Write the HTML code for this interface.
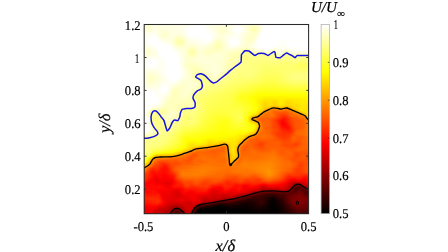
<!DOCTYPE html>
<html><head><meta charset="utf-8"><title>U/U∞ contour</title>
<style>
html,body{margin:0;padding:0;background:#fff;}
body{width:448px;height:252px;overflow:hidden;}
svg{display:block;}
text{font-family:"Liberation Serif","DejaVu Serif",serif;text-rendering:geometricPrecision;fill:#000;stroke:#000;stroke-width:0.2px;}
.t{font-size:13.4px;}
.a{font-size:16.4px;font-style:italic;}
</style></head><body>
<svg width="448" height="252" viewBox="0 0 448 252">
<defs>
<clipPath id="cp"><rect x="144" y="24.5" width="164.6" height="189.4"/></clipPath>
<linearGradient id="cb" x1="0" y1="0" x2="0" y2="1">
<stop offset="0" stop-color="#ffffff"/><stop offset="0.25" stop-color="#ffff00"/><stop offset="0.625" stop-color="#ff0000"/><stop offset="1" stop-color="#000000"/>
</linearGradient>
<linearGradient id="r0" gradientUnits="userSpaceOnUse" x1="144" x2="310" y1="0" y2="0"><stop offset="0.003012" stop-color="#ffffde"/><stop offset="0.02711" stop-color="#ffffd8"/><stop offset="0.06928" stop-color="#ffffe4"/><stop offset="0.2259" stop-color="#ffffe5"/><stop offset="0.3524" stop-color="#fffff7"/><stop offset="0.3886" stop-color="#ffffe8"/><stop offset="0.4729" stop-color="#ffffdd"/><stop offset="0.5693" stop-color="#ffffef"/><stop offset="0.6114" stop-color="#ffffda"/><stop offset="0.6596" stop-color="#ffffcf"/><stop offset="0.7319" stop-color="#ffffff"/><stop offset="0.997" stop-color="#ffffff"/></linearGradient>
<linearGradient id="r1" gradientUnits="userSpaceOnUse" x1="144" x2="310" y1="0" y2="0"><stop offset="0.003012" stop-color="#ffffdc"/><stop offset="0.02711" stop-color="#ffffd4"/><stop offset="0.06928" stop-color="#ffffe4"/><stop offset="0.2259" stop-color="#ffffe6"/><stop offset="0.3524" stop-color="#fffffe"/><stop offset="0.3886" stop-color="#ffffe9"/><stop offset="0.4789" stop-color="#ffffd9"/><stop offset="0.5633" stop-color="#fffff7"/><stop offset="0.6596" stop-color="#ffffc5"/><stop offset="0.6777" stop-color="#ffffcf"/><stop offset="0.7259" stop-color="#fffffe"/><stop offset="0.997" stop-color="#ffffff"/></linearGradient>
<linearGradient id="r2" gradientUnits="userSpaceOnUse" x1="144" x2="310" y1="0" y2="0"><stop offset="0.003012" stop-color="#ffffda"/><stop offset="0.02711" stop-color="#ffffd0"/><stop offset="0.06928" stop-color="#ffffe4"/><stop offset="0.2199" stop-color="#ffffe6"/><stop offset="0.2861" stop-color="#fffffa"/><stop offset="0.3584" stop-color="#ffffff"/><stop offset="0.3886" stop-color="#ffffeb"/><stop offset="0.4789" stop-color="#ffffd4"/><stop offset="0.5271" stop-color="#ffffe7"/><stop offset="0.5633" stop-color="#fffffe"/><stop offset="0.6596" stop-color="#ffffbc"/><stop offset="0.6777" stop-color="#ffffc6"/><stop offset="0.7259" stop-color="#ffffff"/><stop offset="0.997" stop-color="#ffffff"/></linearGradient>
<linearGradient id="r3" gradientUnits="userSpaceOnUse" x1="144" x2="310" y1="0" y2="0"><stop offset="0.003012" stop-color="#ffffd9"/><stop offset="0.02711" stop-color="#ffffce"/><stop offset="0.06325" stop-color="#ffffe3"/><stop offset="0.2199" stop-color="#ffffe6"/><stop offset="0.2861" stop-color="#ffffff"/><stop offset="0.3645" stop-color="#ffffff"/><stop offset="0.3886" stop-color="#ffffec"/><stop offset="0.4789" stop-color="#ffffcf"/><stop offset="0.5271" stop-color="#ffffe8"/><stop offset="0.5512" stop-color="#fffffd"/><stop offset="0.5753" stop-color="#ffffff"/><stop offset="0.6536" stop-color="#ffffb8"/><stop offset="0.6657" stop-color="#ffffb5"/><stop offset="0.6777" stop-color="#ffffbe"/><stop offset="0.7078" stop-color="#ffffed"/><stop offset="0.7259" stop-color="#ffffff"/><stop offset="0.997" stop-color="#ffffff"/></linearGradient>
<linearGradient id="r4" gradientUnits="userSpaceOnUse" x1="144" x2="310" y1="0" y2="0"><stop offset="0.003012" stop-color="#ffffd9"/><stop offset="0.02711" stop-color="#ffffce"/><stop offset="0.06325" stop-color="#ffffe4"/><stop offset="0.1175" stop-color="#ffffde"/><stop offset="0.2139" stop-color="#ffffe5"/><stop offset="0.2801" stop-color="#ffffff"/><stop offset="0.3645" stop-color="#ffffff"/><stop offset="0.3886" stop-color="#ffffee"/><stop offset="0.4307" stop-color="#ffffe4"/><stop offset="0.4789" stop-color="#ffffcb"/><stop offset="0.5512" stop-color="#ffffff"/><stop offset="0.5753" stop-color="#ffffff"/><stop offset="0.6295" stop-color="#ffffd2"/><stop offset="0.6536" stop-color="#ffffb5"/><stop offset="0.6657" stop-color="#ffffb0"/><stop offset="0.6777" stop-color="#ffffb9"/><stop offset="0.7078" stop-color="#ffffec"/><stop offset="0.7259" stop-color="#ffffff"/><stop offset="0.997" stop-color="#ffffff"/></linearGradient>
<linearGradient id="r5" gradientUnits="userSpaceOnUse" x1="144" x2="310" y1="0" y2="0"><stop offset="0.003012" stop-color="#ffffda"/><stop offset="0.02711" stop-color="#ffffd2"/><stop offset="0.06325" stop-color="#ffffe6"/><stop offset="0.1235" stop-color="#ffffdb"/><stop offset="0.2259" stop-color="#ffffe7"/><stop offset="0.2741" stop-color="#ffffff"/><stop offset="0.3645" stop-color="#ffffff"/><stop offset="0.4789" stop-color="#ffffc8"/><stop offset="0.5512" stop-color="#ffffff"/><stop offset="0.5813" stop-color="#ffffff"/><stop offset="0.6295" stop-color="#ffffd3"/><stop offset="0.6536" stop-color="#ffffb5"/><stop offset="0.6657" stop-color="#ffffaf"/><stop offset="0.6777" stop-color="#ffffb8"/><stop offset="0.7139" stop-color="#fffff5"/><stop offset="0.7259" stop-color="#ffffff"/><stop offset="0.997" stop-color="#ffffff"/></linearGradient>
<linearGradient id="r6" gradientUnits="userSpaceOnUse" x1="144" x2="310" y1="0" y2="0"><stop offset="0.003012" stop-color="#ffffdd"/><stop offset="0.02711" stop-color="#ffffd7"/><stop offset="0.06325" stop-color="#ffffe8"/><stop offset="0.1235" stop-color="#ffffd8"/><stop offset="0.1657" stop-color="#ffffe3"/><stop offset="0.2259" stop-color="#ffffe6"/><stop offset="0.2681" stop-color="#ffffff"/><stop offset="0.3645" stop-color="#ffffff"/><stop offset="0.4307" stop-color="#ffffe5"/><stop offset="0.4669" stop-color="#ffffc9"/><stop offset="0.4789" stop-color="#ffffc7"/><stop offset="0.5512" stop-color="#ffffff"/><stop offset="0.5753" stop-color="#ffffff"/><stop offset="0.6657" stop-color="#ffffb2"/><stop offset="0.6837" stop-color="#ffffc1"/><stop offset="0.7199" stop-color="#ffffff"/><stop offset="0.997" stop-color="#ffffff"/></linearGradient>
<linearGradient id="r7" gradientUnits="userSpaceOnUse" x1="144" x2="310" y1="0" y2="0"><stop offset="0.003012" stop-color="#ffffe0"/><stop offset="0.02711" stop-color="#ffffdd"/><stop offset="0.06325" stop-color="#ffffeb"/><stop offset="0.1175" stop-color="#ffffd3"/><stop offset="0.1657" stop-color="#ffffe2"/><stop offset="0.2259" stop-color="#ffffe6"/><stop offset="0.2681" stop-color="#ffffff"/><stop offset="0.3645" stop-color="#ffffff"/><stop offset="0.4247" stop-color="#ffffe8"/><stop offset="0.4669" stop-color="#ffffca"/><stop offset="0.4789" stop-color="#ffffc9"/><stop offset="0.5512" stop-color="#fffffd"/><stop offset="0.5753" stop-color="#ffffff"/><stop offset="0.6657" stop-color="#ffffb7"/><stop offset="0.6837" stop-color="#ffffc6"/><stop offset="0.7199" stop-color="#ffffff"/><stop offset="0.997" stop-color="#ffffff"/></linearGradient>
<linearGradient id="r8" gradientUnits="userSpaceOnUse" x1="144" x2="310" y1="0" y2="0"><stop offset="0.003012" stop-color="#ffffe3"/><stop offset="0.06325" stop-color="#ffffee"/><stop offset="0.1175" stop-color="#ffffcf"/><stop offset="0.1657" stop-color="#ffffe2"/><stop offset="0.2259" stop-color="#ffffe4"/><stop offset="0.2681" stop-color="#ffffff"/><stop offset="0.3705" stop-color="#ffffff"/><stop offset="0.4127" stop-color="#fffff0"/><stop offset="0.4729" stop-color="#ffffcc"/><stop offset="0.5633" stop-color="#fffffd"/><stop offset="0.6657" stop-color="#ffffbd"/><stop offset="0.6777" stop-color="#ffffc5"/><stop offset="0.7139" stop-color="#fffffd"/><stop offset="0.7199" stop-color="#ffffff"/><stop offset="0.997" stop-color="#ffffff"/></linearGradient>
<linearGradient id="r9" gradientUnits="userSpaceOnUse" x1="144" x2="310" y1="0" y2="0"><stop offset="0.003012" stop-color="#ffffe5"/><stop offset="0.06325" stop-color="#fffff3"/><stop offset="0.1175" stop-color="#ffffcc"/><stop offset="0.1657" stop-color="#ffffe1"/><stop offset="0.2259" stop-color="#ffffe1"/><stop offset="0.2681" stop-color="#fffffe"/><stop offset="0.3886" stop-color="#ffffff"/><stop offset="0.4729" stop-color="#ffffd0"/><stop offset="0.5633" stop-color="#fffff9"/><stop offset="0.6596" stop-color="#ffffc3"/><stop offset="0.6777" stop-color="#ffffcc"/><stop offset="0.7139" stop-color="#ffffff"/><stop offset="0.997" stop-color="#ffffff"/></linearGradient>
<linearGradient id="r10" gradientUnits="userSpaceOnUse" x1="144" x2="310" y1="0" y2="0"><stop offset="0.003012" stop-color="#ffffe7"/><stop offset="0.06325" stop-color="#fffff7"/><stop offset="0.1175" stop-color="#ffffcb"/><stop offset="0.1657" stop-color="#ffffe0"/><stop offset="0.2259" stop-color="#ffffdd"/><stop offset="0.2741" stop-color="#ffffff"/><stop offset="0.3946" stop-color="#ffffff"/><stop offset="0.4729" stop-color="#ffffd5"/><stop offset="0.5633" stop-color="#fffff5"/><stop offset="0.6536" stop-color="#ffffc6"/><stop offset="0.6717" stop-color="#ffffce"/><stop offset="0.7078" stop-color="#fffffe"/><stop offset="0.7139" stop-color="#ffffff"/><stop offset="0.997" stop-color="#ffffff"/></linearGradient>
<linearGradient id="r11" gradientUnits="userSpaceOnUse" x1="144" x2="310" y1="0" y2="0"><stop offset="0.003012" stop-color="#ffffe8"/><stop offset="0.04518" stop-color="#fffffb"/><stop offset="0.06325" stop-color="#fffffc"/><stop offset="0.1175" stop-color="#ffffcb"/><stop offset="0.1657" stop-color="#ffffdf"/><stop offset="0.2199" stop-color="#ffffd5"/><stop offset="0.2801" stop-color="#ffffff"/><stop offset="0.4006" stop-color="#ffffff"/><stop offset="0.4367" stop-color="#ffffe3"/><stop offset="0.4669" stop-color="#ffffd8"/><stop offset="0.5331" stop-color="#fffff1"/><stop offset="0.5633" stop-color="#fffff4"/><stop offset="0.6476" stop-color="#ffffc6"/><stop offset="0.6717" stop-color="#ffffd3"/><stop offset="0.7078" stop-color="#ffffff"/><stop offset="0.997" stop-color="#ffffff"/></linearGradient>
<linearGradient id="r12" gradientUnits="userSpaceOnUse" x1="144" x2="310" y1="0" y2="0"><stop offset="0.003012" stop-color="#ffffea"/><stop offset="0.03916" stop-color="#fffffd"/><stop offset="0.06325" stop-color="#ffffff"/><stop offset="0.1175" stop-color="#ffffce"/><stop offset="0.1657" stop-color="#ffffdf"/><stop offset="0.2139" stop-color="#ffffcc"/><stop offset="0.2861" stop-color="#ffffff"/><stop offset="0.3343" stop-color="#fffff9"/><stop offset="0.4006" stop-color="#ffffff"/><stop offset="0.4367" stop-color="#ffffe1"/><stop offset="0.4608" stop-color="#ffffda"/><stop offset="0.5512" stop-color="#fffff6"/><stop offset="0.5753" stop-color="#ffffee"/><stop offset="0.6416" stop-color="#ffffc4"/><stop offset="0.6657" stop-color="#ffffd1"/><stop offset="0.7018" stop-color="#ffffff"/><stop offset="0.997" stop-color="#ffffff"/></linearGradient>
<linearGradient id="r13" gradientUnits="userSpaceOnUse" x1="144" x2="310" y1="0" y2="0"><stop offset="0.003012" stop-color="#ffffea"/><stop offset="0.03916" stop-color="#ffffff"/><stop offset="0.06928" stop-color="#ffffff"/><stop offset="0.1114" stop-color="#ffffd4"/><stop offset="0.1657" stop-color="#ffffde"/><stop offset="0.2139" stop-color="#ffffc3"/><stop offset="0.2259" stop-color="#ffffc8"/><stop offset="0.2681" stop-color="#fffff1"/><stop offset="0.2922" stop-color="#fffffb"/><stop offset="0.3283" stop-color="#fffff7"/><stop offset="0.4006" stop-color="#ffffff"/><stop offset="0.4307" stop-color="#ffffe2"/><stop offset="0.4548" stop-color="#ffffd8"/><stop offset="0.5452" stop-color="#fffffa"/><stop offset="0.5753" stop-color="#ffffef"/><stop offset="0.6235" stop-color="#ffffc9"/><stop offset="0.6416" stop-color="#ffffc2"/><stop offset="0.6596" stop-color="#ffffcd"/><stop offset="0.7018" stop-color="#ffffff"/><stop offset="0.997" stop-color="#ffffff"/></linearGradient>
<linearGradient id="r14" gradientUnits="userSpaceOnUse" x1="144" x2="310" y1="0" y2="0"><stop offset="0.003012" stop-color="#ffffeb"/><stop offset="0.03313" stop-color="#fffffe"/><stop offset="0.0753" stop-color="#ffffff"/><stop offset="0.1114" stop-color="#ffffda"/><stop offset="0.1657" stop-color="#ffffde"/><stop offset="0.2139" stop-color="#ffffba"/><stop offset="0.2259" stop-color="#ffffc0"/><stop offset="0.262" stop-color="#ffffe8"/><stop offset="0.2861" stop-color="#fffff5"/><stop offset="0.4006" stop-color="#ffffff"/><stop offset="0.4307" stop-color="#ffffde"/><stop offset="0.4548" stop-color="#ffffd5"/><stop offset="0.5452" stop-color="#fffffd"/><stop offset="0.5693" stop-color="#fffff4"/><stop offset="0.6235" stop-color="#ffffc7"/><stop offset="0.6416" stop-color="#ffffc1"/><stop offset="0.6596" stop-color="#ffffce"/><stop offset="0.6958" stop-color="#ffffff"/><stop offset="0.997" stop-color="#ffffff"/></linearGradient>
<linearGradient id="r15" gradientUnits="userSpaceOnUse" x1="144" x2="310" y1="0" y2="0"><stop offset="0.003012" stop-color="#ffffeb"/><stop offset="0.03313" stop-color="#ffffff"/><stop offset="0.08133" stop-color="#ffffff"/><stop offset="0.1175" stop-color="#ffffde"/><stop offset="0.1657" stop-color="#ffffde"/><stop offset="0.2018" stop-color="#ffffb7"/><stop offset="0.2139" stop-color="#ffffb1"/><stop offset="0.2259" stop-color="#ffffb8"/><stop offset="0.256" stop-color="#ffffdf"/><stop offset="0.2741" stop-color="#ffffed"/><stop offset="0.3343" stop-color="#fffff2"/><stop offset="0.3584" stop-color="#ffffff"/><stop offset="0.4006" stop-color="#fffffd"/><stop offset="0.4307" stop-color="#ffffd8"/><stop offset="0.4488" stop-color="#ffffd0"/><stop offset="0.4729" stop-color="#ffffd7"/><stop offset="0.5271" stop-color="#fffffd"/><stop offset="0.5512" stop-color="#ffffff"/><stop offset="0.6355" stop-color="#ffffc2"/><stop offset="0.6536" stop-color="#ffffc9"/><stop offset="0.6958" stop-color="#ffffff"/><stop offset="0.997" stop-color="#ffffff"/></linearGradient>
<linearGradient id="r16" gradientUnits="userSpaceOnUse" x1="144" x2="310" y1="0" y2="0"><stop offset="0.003012" stop-color="#ffffeb"/><stop offset="0.03313" stop-color="#ffffff"/><stop offset="0.08133" stop-color="#ffffff"/><stop offset="0.1175" stop-color="#ffffe4"/><stop offset="0.1657" stop-color="#ffffde"/><stop offset="0.2018" stop-color="#ffffb2"/><stop offset="0.2139" stop-color="#ffffab"/><stop offset="0.2259" stop-color="#ffffb2"/><stop offset="0.2681" stop-color="#ffffe6"/><stop offset="0.3343" stop-color="#fffff0"/><stop offset="0.3645" stop-color="#ffffff"/><stop offset="0.3946" stop-color="#fffffe"/><stop offset="0.4307" stop-color="#ffffd2"/><stop offset="0.4488" stop-color="#ffffca"/><stop offset="0.4669" stop-color="#ffffd0"/><stop offset="0.5271" stop-color="#ffffff"/><stop offset="0.5572" stop-color="#ffffff"/><stop offset="0.6355" stop-color="#ffffc4"/><stop offset="0.6536" stop-color="#ffffcd"/><stop offset="0.6898" stop-color="#fffffe"/><stop offset="0.6958" stop-color="#ffffff"/><stop offset="0.8404" stop-color="#fffff9"/><stop offset="0.997" stop-color="#ffffff"/></linearGradient>
<linearGradient id="r17" gradientUnits="userSpaceOnUse" x1="144" x2="310" y1="0" y2="0"><stop offset="0.003012" stop-color="#ffffeb"/><stop offset="0.03313" stop-color="#ffffff"/><stop offset="0.08735" stop-color="#fffffe"/><stop offset="0.1114" stop-color="#ffffed"/><stop offset="0.1657" stop-color="#ffffe0"/><stop offset="0.2018" stop-color="#ffffaf"/><stop offset="0.2139" stop-color="#ffffa8"/><stop offset="0.2259" stop-color="#ffffaf"/><stop offset="0.25" stop-color="#ffffd3"/><stop offset="0.2681" stop-color="#ffffe3"/><stop offset="0.3343" stop-color="#ffffed"/><stop offset="0.3705" stop-color="#fffffe"/><stop offset="0.3886" stop-color="#fffffc"/><stop offset="0.4307" stop-color="#ffffcb"/><stop offset="0.4488" stop-color="#ffffc3"/><stop offset="0.4669" stop-color="#ffffcb"/><stop offset="0.5271" stop-color="#ffffff"/><stop offset="0.5633" stop-color="#fffffe"/><stop offset="0.6114" stop-color="#ffffd3"/><stop offset="0.6355" stop-color="#ffffc8"/><stop offset="0.6536" stop-color="#ffffd1"/><stop offset="0.6898" stop-color="#ffffff"/><stop offset="0.8102" stop-color="#ffffff"/><stop offset="0.8404" stop-color="#fffff7"/><stop offset="0.8705" stop-color="#ffffff"/><stop offset="0.997" stop-color="#ffffff"/></linearGradient>
<linearGradient id="r18" gradientUnits="userSpaceOnUse" x1="144" x2="310" y1="0" y2="0"><stop offset="0.003012" stop-color="#ffffea"/><stop offset="0.03916" stop-color="#ffffff"/><stop offset="0.08735" stop-color="#ffffff"/><stop offset="0.1596" stop-color="#ffffe7"/><stop offset="0.1777" stop-color="#ffffd4"/><stop offset="0.2018" stop-color="#ffffb0"/><stop offset="0.2139" stop-color="#ffffa9"/><stop offset="0.2259" stop-color="#ffffb0"/><stop offset="0.25" stop-color="#ffffd2"/><stop offset="0.2681" stop-color="#ffffe1"/><stop offset="0.3283" stop-color="#ffffe9"/><stop offset="0.3705" stop-color="#fffff9"/><stop offset="0.3946" stop-color="#fffff1"/><stop offset="0.4307" stop-color="#ffffc5"/><stop offset="0.4488" stop-color="#ffffbd"/><stop offset="0.4669" stop-color="#ffffc7"/><stop offset="0.5271" stop-color="#ffffff"/><stop offset="0.5633" stop-color="#fffffd"/><stop offset="0.6114" stop-color="#ffffd4"/><stop offset="0.6355" stop-color="#ffffcd"/><stop offset="0.6536" stop-color="#ffffd6"/><stop offset="0.6898" stop-color="#ffffff"/><stop offset="0.8102" stop-color="#ffffff"/><stop offset="0.8404" stop-color="#fffff5"/><stop offset="0.8705" stop-color="#ffffff"/><stop offset="0.997" stop-color="#ffffff"/></linearGradient>
<linearGradient id="r19" gradientUnits="userSpaceOnUse" x1="144" x2="310" y1="0" y2="0"><stop offset="0.003012" stop-color="#ffffea"/><stop offset="0.04518" stop-color="#ffffff"/><stop offset="0.08735" stop-color="#ffffff"/><stop offset="0.1416" stop-color="#fffff3"/><stop offset="0.1657" stop-color="#ffffe5"/><stop offset="0.2018" stop-color="#ffffb4"/><stop offset="0.2139" stop-color="#ffffad"/><stop offset="0.2259" stop-color="#ffffb3"/><stop offset="0.262" stop-color="#ffffdb"/><stop offset="0.3705" stop-color="#fffff3"/><stop offset="0.3946" stop-color="#ffffea"/><stop offset="0.4307" stop-color="#ffffbf"/><stop offset="0.4488" stop-color="#ffffb8"/><stop offset="0.4669" stop-color="#ffffc3"/><stop offset="0.5271" stop-color="#ffffff"/><stop offset="0.5572" stop-color="#ffffff"/><stop offset="0.6054" stop-color="#ffffd8"/><stop offset="0.6295" stop-color="#ffffd1"/><stop offset="0.6476" stop-color="#ffffd7"/><stop offset="0.6898" stop-color="#ffffff"/><stop offset="0.8042" stop-color="#ffffff"/><stop offset="0.8404" stop-color="#fffff4"/><stop offset="0.8765" stop-color="#ffffff"/><stop offset="0.997" stop-color="#ffffff"/></linearGradient>
<linearGradient id="r20" gradientUnits="userSpaceOnUse" x1="144" x2="310" y1="0" y2="0"><stop offset="0.003012" stop-color="#ffffe9"/><stop offset="0.0512" stop-color="#ffffff"/><stop offset="0.1355" stop-color="#fffffa"/><stop offset="0.1657" stop-color="#ffffe9"/><stop offset="0.2018" stop-color="#ffffbb"/><stop offset="0.2139" stop-color="#ffffb4"/><stop offset="0.262" stop-color="#ffffda"/><stop offset="0.3765" stop-color="#ffffec"/><stop offset="0.3946" stop-color="#ffffe3"/><stop offset="0.4307" stop-color="#ffffbb"/><stop offset="0.4488" stop-color="#ffffb4"/><stop offset="0.4669" stop-color="#ffffc0"/><stop offset="0.5151" stop-color="#fffff4"/><stop offset="0.5331" stop-color="#ffffff"/><stop offset="0.5512" stop-color="#ffffff"/><stop offset="0.5994" stop-color="#ffffda"/><stop offset="0.6235" stop-color="#ffffd3"/><stop offset="0.6476" stop-color="#ffffdd"/><stop offset="0.6898" stop-color="#ffffff"/><stop offset="0.7982" stop-color="#ffffff"/><stop offset="0.8404" stop-color="#fffff3"/><stop offset="0.8765" stop-color="#ffffff"/><stop offset="0.997" stop-color="#ffffff"/></linearGradient>
<linearGradient id="r21" gradientUnits="userSpaceOnUse" x1="144" x2="310" y1="0" y2="0"><stop offset="0.003012" stop-color="#ffffe7"/><stop offset="0.06325" stop-color="#fffffd"/><stop offset="0.1355" stop-color="#ffffff"/><stop offset="0.1596" stop-color="#fffff2"/><stop offset="0.2018" stop-color="#ffffc4"/><stop offset="0.2139" stop-color="#ffffbe"/><stop offset="0.256" stop-color="#ffffd6"/><stop offset="0.2922" stop-color="#ffffd5"/><stop offset="0.3404" stop-color="#ffffe5"/><stop offset="0.3705" stop-color="#ffffe6"/><stop offset="0.3946" stop-color="#ffffdc"/><stop offset="0.4367" stop-color="#ffffb5"/><stop offset="0.4488" stop-color="#ffffb2"/><stop offset="0.5151" stop-color="#fffff1"/><stop offset="0.5392" stop-color="#fffffb"/><stop offset="0.6175" stop-color="#ffffd2"/><stop offset="0.6898" stop-color="#ffffff"/><stop offset="0.7922" stop-color="#ffffff"/><stop offset="0.8404" stop-color="#fffff2"/><stop offset="0.8765" stop-color="#ffffff"/><stop offset="0.997" stop-color="#ffffff"/></linearGradient>
<linearGradient id="r22" gradientUnits="userSpaceOnUse" x1="144" x2="310" y1="0" y2="0"><stop offset="0.003012" stop-color="#ffffe5"/><stop offset="0.09337" stop-color="#ffffff"/><stop offset="0.1476" stop-color="#ffffff"/><stop offset="0.2139" stop-color="#ffffc7"/><stop offset="0.25" stop-color="#ffffd5"/><stop offset="0.2922" stop-color="#ffffcd"/><stop offset="0.3343" stop-color="#ffffe1"/><stop offset="0.3584" stop-color="#ffffe3"/><stop offset="0.3946" stop-color="#ffffd6"/><stop offset="0.4428" stop-color="#ffffb2"/><stop offset="0.4608" stop-color="#ffffb9"/><stop offset="0.503" stop-color="#ffffe3"/><stop offset="0.5331" stop-color="#fffff3"/><stop offset="0.5572" stop-color="#ffffee"/><stop offset="0.6114" stop-color="#ffffcd"/><stop offset="0.6958" stop-color="#ffffff"/><stop offset="0.7801" stop-color="#ffffff"/><stop offset="0.8404" stop-color="#fffff1"/><stop offset="0.8825" stop-color="#ffffff"/><stop offset="0.997" stop-color="#ffffff"/></linearGradient>
<linearGradient id="r23" gradientUnits="userSpaceOnUse" x1="144" x2="310" y1="0" y2="0"><stop offset="0.003012" stop-color="#ffffe3"/><stop offset="0.02711" stop-color="#ffffe4"/><stop offset="0.09337" stop-color="#ffffff"/><stop offset="0.1536" stop-color="#ffffff"/><stop offset="0.2139" stop-color="#ffffd0"/><stop offset="0.25" stop-color="#ffffd5"/><stop offset="0.2922" stop-color="#ffffc4"/><stop offset="0.3343" stop-color="#ffffde"/><stop offset="0.3524" stop-color="#ffffe0"/><stop offset="0.4428" stop-color="#ffffb4"/><stop offset="0.4608" stop-color="#ffffbb"/><stop offset="0.503" stop-color="#ffffdf"/><stop offset="0.5331" stop-color="#ffffeb"/><stop offset="0.5572" stop-color="#ffffe6"/><stop offset="0.6114" stop-color="#ffffc6"/><stop offset="0.6837" stop-color="#fffff6"/><stop offset="0.7139" stop-color="#ffffff"/><stop offset="0.7681" stop-color="#ffffff"/><stop offset="0.7922" stop-color="#fffff2"/><stop offset="0.8464" stop-color="#ffffef"/><stop offset="0.8886" stop-color="#ffffff"/><stop offset="0.997" stop-color="#fffffb"/></linearGradient>
<linearGradient id="r24" gradientUnits="userSpaceOnUse" x1="144" x2="310" y1="0" y2="0"><stop offset="0.003012" stop-color="#ffffe0"/><stop offset="0.02711" stop-color="#ffffde"/><stop offset="0.09337" stop-color="#ffffff"/><stop offset="0.1536" stop-color="#ffffff"/><stop offset="0.2018" stop-color="#ffffdc"/><stop offset="0.25" stop-color="#ffffd5"/><stop offset="0.2861" stop-color="#ffffbb"/><stop offset="0.3464" stop-color="#ffffde"/><stop offset="0.4488" stop-color="#ffffb8"/><stop offset="0.497" stop-color="#ffffd8"/><stop offset="0.5331" stop-color="#ffffe2"/><stop offset="0.5572" stop-color="#ffffdd"/><stop offset="0.6114" stop-color="#ffffbb"/><stop offset="0.6837" stop-color="#fffff1"/><stop offset="0.7259" stop-color="#ffffff"/><stop offset="0.756" stop-color="#ffffff"/><stop offset="0.7861" stop-color="#ffffe7"/><stop offset="0.8163" stop-color="#fffff1"/><stop offset="0.8584" stop-color="#ffffec"/><stop offset="0.9006" stop-color="#ffffff"/><stop offset="0.9789" stop-color="#ffffff"/><stop offset="0.997" stop-color="#fffff8"/></linearGradient>
<linearGradient id="r25" gradientUnits="userSpaceOnUse" x1="144" x2="310" y1="0" y2="0"><stop offset="0.003012" stop-color="#ffffdd"/><stop offset="0.02711" stop-color="#ffffd7"/><stop offset="0.09337" stop-color="#ffffff"/><stop offset="0.1596" stop-color="#ffffff"/><stop offset="0.2018" stop-color="#ffffe3"/><stop offset="0.244" stop-color="#ffffd8"/><stop offset="0.2861" stop-color="#ffffb2"/><stop offset="0.2982" stop-color="#ffffb5"/><stop offset="0.3283" stop-color="#ffffd5"/><stop offset="0.3464" stop-color="#ffffdb"/><stop offset="0.3825" stop-color="#ffffc8"/><stop offset="0.4428" stop-color="#ffffbd"/><stop offset="0.503" stop-color="#ffffd7"/><stop offset="0.5452" stop-color="#ffffd7"/><stop offset="0.6114" stop-color="#ffffaf"/><stop offset="0.6235" stop-color="#ffffb3"/><stop offset="0.6837" stop-color="#ffffea"/><stop offset="0.7078" stop-color="#ffffe8"/><stop offset="0.744" stop-color="#ffffff"/><stop offset="0.756" stop-color="#fffff8"/><stop offset="0.7741" stop-color="#ffffdd"/><stop offset="0.7861" stop-color="#ffffd5"/><stop offset="0.8163" stop-color="#ffffef"/><stop offset="0.8584" stop-color="#ffffe4"/><stop offset="0.9066" stop-color="#fffffe"/><stop offset="0.9729" stop-color="#fffffe"/><stop offset="0.997" stop-color="#fffff4"/></linearGradient>
<linearGradient id="r26" gradientUnits="userSpaceOnUse" x1="144" x2="310" y1="0" y2="0"><stop offset="0.003012" stop-color="#ffffdb"/><stop offset="0.02711" stop-color="#ffffd2"/><stop offset="0.09337" stop-color="#fffffe"/><stop offset="0.1657" stop-color="#ffffff"/><stop offset="0.2018" stop-color="#ffffe8"/><stop offset="0.244" stop-color="#ffffd9"/><stop offset="0.2861" stop-color="#ffffab"/><stop offset="0.2982" stop-color="#ffffaf"/><stop offset="0.3283" stop-color="#ffffd3"/><stop offset="0.3464" stop-color="#ffffd9"/><stop offset="0.3886" stop-color="#ffffc3"/><stop offset="0.4488" stop-color="#ffffc2"/><stop offset="0.497" stop-color="#ffffd3"/><stop offset="0.5512" stop-color="#ffffcc"/><stop offset="0.5693" stop-color="#ffffc5"/><stop offset="0.6114" stop-color="#ffffa2"/><stop offset="0.6295" stop-color="#ffffa8"/><stop offset="0.6777" stop-color="#ffffda"/><stop offset="0.7078" stop-color="#ffffd9"/><stop offset="0.744" stop-color="#fffff6"/><stop offset="0.756" stop-color="#ffffed"/><stop offset="0.7801" stop-color="#ffffbf"/><stop offset="0.7861" stop-color="#ffffbf"/><stop offset="0.8042" stop-color="#ffffe1"/><stop offset="0.8163" stop-color="#ffffee"/><stop offset="0.8584" stop-color="#ffffd7"/><stop offset="0.9066" stop-color="#fffff9"/><stop offset="0.9669" stop-color="#fffff9"/><stop offset="0.997" stop-color="#fffff0"/></linearGradient>
<linearGradient id="r27" gradientUnits="userSpaceOnUse" x1="144" x2="310" y1="0" y2="0"><stop offset="0.003012" stop-color="#ffffd9"/><stop offset="0.02711" stop-color="#ffffcf"/><stop offset="0.0994" stop-color="#ffffff"/><stop offset="0.1717" stop-color="#ffffff"/><stop offset="0.244" stop-color="#ffffda"/><stop offset="0.2861" stop-color="#ffffa7"/><stop offset="0.2982" stop-color="#ffffab"/><stop offset="0.3283" stop-color="#ffffd2"/><stop offset="0.3404" stop-color="#ffffd8"/><stop offset="0.3886" stop-color="#ffffc0"/><stop offset="0.497" stop-color="#ffffd1"/><stop offset="0.5633" stop-color="#ffffc1"/><stop offset="0.6054" stop-color="#ffff9b"/><stop offset="0.6175" stop-color="#ffff97"/><stop offset="0.6355" stop-color="#ffff9f"/><stop offset="0.6777" stop-color="#ffffca"/><stop offset="0.7139" stop-color="#ffffc8"/><stop offset="0.744" stop-color="#ffffea"/><stop offset="0.756" stop-color="#ffffdd"/><stop offset="0.7741" stop-color="#ffffb0"/><stop offset="0.7801" stop-color="#ffffa8"/><stop offset="0.7861" stop-color="#ffffaa"/><stop offset="0.8042" stop-color="#ffffda"/><stop offset="0.8163" stop-color="#ffffeb"/><stop offset="0.8283" stop-color="#ffffe6"/><stop offset="0.8464" stop-color="#ffffcc"/><stop offset="0.8584" stop-color="#ffffc4"/><stop offset="0.8946" stop-color="#ffffec"/><stop offset="0.9066" stop-color="#fffff1"/><stop offset="0.997" stop-color="#ffffea"/></linearGradient>
<linearGradient id="r28" gradientUnits="userSpaceOnUse" x1="144" x2="310" y1="0" y2="0"><stop offset="0.003012" stop-color="#ffffd9"/><stop offset="0.02711" stop-color="#ffffcf"/><stop offset="0.0994" stop-color="#ffffff"/><stop offset="0.1777" stop-color="#ffffff"/><stop offset="0.244" stop-color="#ffffda"/><stop offset="0.2861" stop-color="#ffffa7"/><stop offset="0.2982" stop-color="#ffffaa"/><stop offset="0.3283" stop-color="#ffffd1"/><stop offset="0.3404" stop-color="#ffffd8"/><stop offset="0.3825" stop-color="#ffffc1"/><stop offset="0.4187" stop-color="#ffffcc"/><stop offset="0.4849" stop-color="#ffffd1"/><stop offset="0.5753" stop-color="#ffffb5"/><stop offset="0.5994" stop-color="#ffff9a"/><stop offset="0.6175" stop-color="#ffff90"/><stop offset="0.6355" stop-color="#ffff95"/><stop offset="0.6717" stop-color="#ffffb6"/><stop offset="0.7139" stop-color="#ffffb1"/><stop offset="0.744" stop-color="#ffffd8"/><stop offset="0.75" stop-color="#ffffd4"/><stop offset="0.7681" stop-color="#ffffaa"/><stop offset="0.7801" stop-color="#ffff9b"/><stop offset="0.7861" stop-color="#ffff9e"/><stop offset="0.8042" stop-color="#ffffd3"/><stop offset="0.8163" stop-color="#ffffe8"/><stop offset="0.8283" stop-color="#ffffdf"/><stop offset="0.8464" stop-color="#ffffbc"/><stop offset="0.8584" stop-color="#ffffb1"/><stop offset="0.8705" stop-color="#ffffb9"/><stop offset="0.8946" stop-color="#ffffde"/><stop offset="0.9066" stop-color="#ffffe6"/><stop offset="0.9307" stop-color="#ffffde"/><stop offset="0.997" stop-color="#ffffdf"/></linearGradient>
<linearGradient id="r29" gradientUnits="userSpaceOnUse" x1="144" x2="310" y1="0" y2="0"><stop offset="0.003012" stop-color="#ffffda"/><stop offset="0.02711" stop-color="#ffffd1"/><stop offset="0.1054" stop-color="#ffffff"/><stop offset="0.1837" stop-color="#ffffff"/><stop offset="0.244" stop-color="#ffffdb"/><stop offset="0.2861" stop-color="#ffffaa"/><stop offset="0.2982" stop-color="#ffffad"/><stop offset="0.3283" stop-color="#ffffd2"/><stop offset="0.3404" stop-color="#ffffd8"/><stop offset="0.3825" stop-color="#ffffc3"/><stop offset="0.4247" stop-color="#ffffd0"/><stop offset="0.4789" stop-color="#ffffd3"/><stop offset="0.5331" stop-color="#ffffbb"/><stop offset="0.5753" stop-color="#ffffb2"/><stop offset="0.5994" stop-color="#ffff95"/><stop offset="0.6235" stop-color="#ffff8c"/><stop offset="0.6717" stop-color="#ffffa7"/><stop offset="0.7199" stop-color="#ffffa1"/><stop offset="0.744" stop-color="#ffffbf"/><stop offset="0.75" stop-color="#ffffbc"/><stop offset="0.7681" stop-color="#ffff9b"/><stop offset="0.7801" stop-color="#ffff94"/><stop offset="0.7922" stop-color="#ffffa4"/><stop offset="0.8042" stop-color="#ffffca"/><stop offset="0.8163" stop-color="#ffffe2"/><stop offset="0.8223" stop-color="#ffffe0"/><stop offset="0.8464" stop-color="#ffffac"/><stop offset="0.8584" stop-color="#ffffa0"/><stop offset="0.8705" stop-color="#ffffa7"/><stop offset="0.8946" stop-color="#ffffcb"/><stop offset="0.9066" stop-color="#ffffd4"/><stop offset="0.9367" stop-color="#ffffca"/><stop offset="0.997" stop-color="#ffffcc"/></linearGradient>
<linearGradient id="r30" gradientUnits="userSpaceOnUse" x1="144" x2="310" y1="0" y2="0"><stop offset="0.003012" stop-color="#ffffdd"/><stop offset="0.02711" stop-color="#ffffd6"/><stop offset="0.1054" stop-color="#fffffe"/><stop offset="0.1898" stop-color="#ffffff"/><stop offset="0.244" stop-color="#ffffdc"/><stop offset="0.2861" stop-color="#ffffb0"/><stop offset="0.2982" stop-color="#ffffb3"/><stop offset="0.3283" stop-color="#ffffd3"/><stop offset="0.3404" stop-color="#ffffd9"/><stop offset="0.3825" stop-color="#ffffc7"/><stop offset="0.4247" stop-color="#ffffd3"/><stop offset="0.4789" stop-color="#ffffd4"/><stop offset="0.5331" stop-color="#ffffb7"/><stop offset="0.5753" stop-color="#ffffaf"/><stop offset="0.5994" stop-color="#ffff91"/><stop offset="0.6175" stop-color="#ffff89"/><stop offset="0.6657" stop-color="#ffff9d"/><stop offset="0.7199" stop-color="#ffff95"/><stop offset="0.744" stop-color="#ffffa7"/><stop offset="0.7681" stop-color="#ffff92"/><stop offset="0.7801" stop-color="#ffff90"/><stop offset="0.7922" stop-color="#ffff9f"/><stop offset="0.8102" stop-color="#ffffd0"/><stop offset="0.8163" stop-color="#ffffd7"/><stop offset="0.8223" stop-color="#ffffd4"/><stop offset="0.8464" stop-color="#ffff9f"/><stop offset="0.8584" stop-color="#ffff94"/><stop offset="0.8705" stop-color="#ffff99"/><stop offset="0.9066" stop-color="#ffffc0"/><stop offset="0.9367" stop-color="#ffffb4"/><stop offset="0.997" stop-color="#ffffb5"/></linearGradient>
<linearGradient id="r31" gradientUnits="userSpaceOnUse" x1="144" x2="310" y1="0" y2="0"><stop offset="0.003012" stop-color="#ffffe0"/><stop offset="0.02711" stop-color="#ffffdd"/><stop offset="0.1114" stop-color="#ffffff"/><stop offset="0.1898" stop-color="#ffffff"/><stop offset="0.238" stop-color="#ffffe2"/><stop offset="0.2861" stop-color="#ffffb7"/><stop offset="0.3404" stop-color="#ffffd9"/><stop offset="0.3825" stop-color="#ffffcc"/><stop offset="0.4247" stop-color="#ffffd5"/><stop offset="0.4729" stop-color="#ffffd5"/><stop offset="0.5331" stop-color="#ffffb4"/><stop offset="0.5753" stop-color="#ffffad"/><stop offset="0.5934" stop-color="#ffff94"/><stop offset="0.6175" stop-color="#ffff87"/><stop offset="0.6657" stop-color="#ffff96"/><stop offset="0.7078" stop-color="#ffff8d"/><stop offset="0.744" stop-color="#ffff99"/><stop offset="0.7801" stop-color="#ffff8e"/><stop offset="0.7922" stop-color="#ffff9c"/><stop offset="0.8102" stop-color="#ffffc1"/><stop offset="0.8163" stop-color="#ffffc7"/><stop offset="0.8223" stop-color="#ffffc3"/><stop offset="0.8464" stop-color="#ffff95"/><stop offset="0.8584" stop-color="#ffff8e"/><stop offset="0.8765" stop-color="#ffff95"/><stop offset="0.9066" stop-color="#ffffae"/><stop offset="0.9307" stop-color="#ffffa1"/><stop offset="0.997" stop-color="#ffffa2"/></linearGradient>
<linearGradient id="r32" gradientUnits="userSpaceOnUse" x1="144" x2="310" y1="0" y2="0"><stop offset="0.003012" stop-color="#ffffe2"/><stop offset="0.08735" stop-color="#fffff0"/><stop offset="0.1175" stop-color="#ffffff"/><stop offset="0.1958" stop-color="#ffffff"/><stop offset="0.2801" stop-color="#ffffc0"/><stop offset="0.2982" stop-color="#ffffc1"/><stop offset="0.3404" stop-color="#ffffda"/><stop offset="0.3825" stop-color="#ffffd0"/><stop offset="0.4729" stop-color="#ffffd5"/><stop offset="0.5271" stop-color="#ffffb5"/><stop offset="0.5753" stop-color="#ffffac"/><stop offset="0.5994" stop-color="#ffff8d"/><stop offset="0.6235" stop-color="#ffff86"/><stop offset="0.6657" stop-color="#ffff91"/><stop offset="0.7018" stop-color="#ffff89"/><stop offset="0.744" stop-color="#ffff90"/><stop offset="0.7741" stop-color="#ffff8b"/><stop offset="0.8163" stop-color="#ffffb2"/><stop offset="0.8404" stop-color="#ffff95"/><stop offset="0.8584" stop-color="#ffff8b"/><stop offset="0.9066" stop-color="#ffffa0"/><stop offset="0.9367" stop-color="#ffff94"/><stop offset="0.997" stop-color="#ffff95"/></linearGradient>
<linearGradient id="r33" gradientUnits="userSpaceOnUse" x1="144" x2="310" y1="0" y2="0"><stop offset="0.003012" stop-color="#ffffe5"/><stop offset="0.0512" stop-color="#fffff0"/><stop offset="0.08735" stop-color="#ffffef"/><stop offset="0.1235" stop-color="#ffffff"/><stop offset="0.1958" stop-color="#ffffff"/><stop offset="0.2801" stop-color="#ffffc6"/><stop offset="0.3404" stop-color="#ffffdb"/><stop offset="0.4789" stop-color="#ffffd3"/><stop offset="0.5271" stop-color="#ffffb5"/><stop offset="0.5693" stop-color="#ffffaf"/><stop offset="0.5934" stop-color="#ffff92"/><stop offset="0.6175" stop-color="#ffff86"/><stop offset="0.6657" stop-color="#ffff8d"/><stop offset="0.7078" stop-color="#ffff86"/><stop offset="0.7681" stop-color="#ffff89"/><stop offset="0.8163" stop-color="#ffffa1"/><stop offset="0.8584" stop-color="#ffff88"/><stop offset="0.9066" stop-color="#ffff98"/><stop offset="0.9367" stop-color="#ffff8d"/><stop offset="0.997" stop-color="#ffff8e"/></linearGradient>
<linearGradient id="r34" gradientUnits="userSpaceOnUse" x1="144" x2="310" y1="0" y2="0"><stop offset="0.003012" stop-color="#ffffe7"/><stop offset="0.04518" stop-color="#fffff6"/><stop offset="0.08735" stop-color="#ffffef"/><stop offset="0.1295" stop-color="#ffffff"/><stop offset="0.2018" stop-color="#ffffff"/><stop offset="0.25" stop-color="#ffffd7"/><stop offset="0.2741" stop-color="#ffffca"/><stop offset="0.3404" stop-color="#ffffdb"/><stop offset="0.4729" stop-color="#ffffd3"/><stop offset="0.5271" stop-color="#ffffb5"/><stop offset="0.5693" stop-color="#ffffb1"/><stop offset="0.5934" stop-color="#ffff92"/><stop offset="0.6175" stop-color="#ffff85"/><stop offset="0.6657" stop-color="#ffff8a"/><stop offset="0.7199" stop-color="#ffff83"/><stop offset="0.8163" stop-color="#ffff95"/><stop offset="0.8584" stop-color="#ffff85"/><stop offset="0.9066" stop-color="#ffff92"/><stop offset="0.9367" stop-color="#ffff89"/><stop offset="0.997" stop-color="#ffff88"/></linearGradient>
<linearGradient id="r35" gradientUnits="userSpaceOnUse" x1="144" x2="310" y1="0" y2="0"><stop offset="0.003012" stop-color="#ffffe9"/><stop offset="0.04518" stop-color="#fffffd"/><stop offset="0.09337" stop-color="#ffffef"/><stop offset="0.1295" stop-color="#ffffff"/><stop offset="0.2018" stop-color="#ffffff"/><stop offset="0.25" stop-color="#ffffd4"/><stop offset="0.2681" stop-color="#ffffcc"/><stop offset="0.3464" stop-color="#ffffdb"/><stop offset="0.4729" stop-color="#ffffd2"/><stop offset="0.5211" stop-color="#ffffb6"/><stop offset="0.5693" stop-color="#ffffb2"/><stop offset="0.5934" stop-color="#ffff92"/><stop offset="0.6175" stop-color="#ffff85"/><stop offset="0.7199" stop-color="#ffff81"/><stop offset="0.8163" stop-color="#ffff8e"/><stop offset="0.8584" stop-color="#ffff81"/><stop offset="0.9066" stop-color="#ffff8d"/><stop offset="0.9367" stop-color="#ffff83"/><stop offset="0.997" stop-color="#ffff82"/></linearGradient>
<linearGradient id="r36" gradientUnits="userSpaceOnUse" x1="144" x2="310" y1="0" y2="0"><stop offset="0.003012" stop-color="#ffffeb"/><stop offset="0.03313" stop-color="#ffffff"/><stop offset="0.05723" stop-color="#ffffff"/><stop offset="0.09337" stop-color="#ffffef"/><stop offset="0.1355" stop-color="#ffffff"/><stop offset="0.2018" stop-color="#ffffff"/><stop offset="0.262" stop-color="#ffffcb"/><stop offset="0.3464" stop-color="#ffffdb"/><stop offset="0.4669" stop-color="#ffffd2"/><stop offset="0.5211" stop-color="#ffffb5"/><stop offset="0.5693" stop-color="#ffffb3"/><stop offset="0.5934" stop-color="#ffff92"/><stop offset="0.6235" stop-color="#ffff84"/><stop offset="0.7199" stop-color="#ffff7e"/><stop offset="0.8163" stop-color="#ffff89"/><stop offset="0.8584" stop-color="#ffff7d"/><stop offset="0.9066" stop-color="#ffff88"/><stop offset="0.9428" stop-color="#ffff7c"/><stop offset="0.997" stop-color="#ffff7b"/></linearGradient>
<linearGradient id="r37" gradientUnits="userSpaceOnUse" x1="144" x2="310" y1="0" y2="0"><stop offset="0.003012" stop-color="#ffffec"/><stop offset="0.02711" stop-color="#ffffff"/><stop offset="0.06325" stop-color="#ffffff"/><stop offset="0.0994" stop-color="#ffffef"/><stop offset="0.1355" stop-color="#ffffff"/><stop offset="0.2018" stop-color="#ffffff"/><stop offset="0.262" stop-color="#ffffc8"/><stop offset="0.3404" stop-color="#ffffd9"/><stop offset="0.4367" stop-color="#ffffd8"/><stop offset="0.4789" stop-color="#ffffcd"/><stop offset="0.5211" stop-color="#ffffb4"/><stop offset="0.5633" stop-color="#ffffb3"/><stop offset="0.5934" stop-color="#ffff91"/><stop offset="0.6235" stop-color="#ffff84"/><stop offset="0.7259" stop-color="#ffff7c"/><stop offset="0.8163" stop-color="#ffff85"/><stop offset="0.8584" stop-color="#ffff78"/><stop offset="0.9066" stop-color="#ffff83"/><stop offset="0.9428" stop-color="#ffff75"/><stop offset="0.997" stop-color="#ffff74"/></linearGradient>
<linearGradient id="r38" gradientUnits="userSpaceOnUse" x1="144" x2="310" y1="0" y2="0"><stop offset="0.003012" stop-color="#ffffed"/><stop offset="0.02711" stop-color="#ffffff"/><stop offset="0.06928" stop-color="#fffffe"/><stop offset="0.0994" stop-color="#ffffef"/><stop offset="0.1355" stop-color="#ffffff"/><stop offset="0.2018" stop-color="#ffffff"/><stop offset="0.262" stop-color="#ffffc6"/><stop offset="0.3464" stop-color="#ffffd8"/><stop offset="0.4307" stop-color="#ffffd9"/><stop offset="0.4729" stop-color="#ffffcf"/><stop offset="0.5151" stop-color="#ffffb4"/><stop offset="0.5633" stop-color="#ffffaf"/><stop offset="0.5934" stop-color="#ffff90"/><stop offset="0.6175" stop-color="#ffff85"/><stop offset="0.7319" stop-color="#ffff79"/><stop offset="0.8163" stop-color="#ffff80"/><stop offset="0.8524" stop-color="#ffff75"/><stop offset="0.9066" stop-color="#ffff7d"/><stop offset="0.9428" stop-color="#ffff6e"/><stop offset="0.997" stop-color="#ffff6d"/></linearGradient>
<linearGradient id="r39" gradientUnits="userSpaceOnUse" x1="144" x2="310" y1="0" y2="0"><stop offset="0.003012" stop-color="#ffffed"/><stop offset="0.02711" stop-color="#ffffff"/><stop offset="0.06928" stop-color="#ffffff"/><stop offset="0.0994" stop-color="#ffffef"/><stop offset="0.1355" stop-color="#ffffff"/><stop offset="0.2078" stop-color="#ffffff"/><stop offset="0.25" stop-color="#ffffcc"/><stop offset="0.2681" stop-color="#ffffc3"/><stop offset="0.3524" stop-color="#ffffd7"/><stop offset="0.4307" stop-color="#ffffd9"/><stop offset="0.4729" stop-color="#ffffcf"/><stop offset="0.5151" stop-color="#ffffb2"/><stop offset="0.5512" stop-color="#ffffaf"/><stop offset="0.5873" stop-color="#ffff91"/><stop offset="0.6175" stop-color="#ffff85"/><stop offset="0.75" stop-color="#ffff76"/><stop offset="0.8102" stop-color="#ffff7c"/><stop offset="0.8524" stop-color="#ffff72"/><stop offset="0.9006" stop-color="#ffff79"/><stop offset="0.9428" stop-color="#ffff67"/><stop offset="0.997" stop-color="#ffff66"/></linearGradient>
<linearGradient id="r40" gradientUnits="userSpaceOnUse" x1="144" x2="310" y1="0" y2="0"><stop offset="0.003012" stop-color="#ffffed"/><stop offset="0.02711" stop-color="#ffffff"/><stop offset="0.06928" stop-color="#fffffe"/><stop offset="0.0994" stop-color="#ffffee"/><stop offset="0.1355" stop-color="#fffffe"/><stop offset="0.2078" stop-color="#ffffff"/><stop offset="0.25" stop-color="#ffffcd"/><stop offset="0.2681" stop-color="#ffffc3"/><stop offset="0.3042" stop-color="#ffffc4"/><stop offset="0.3584" stop-color="#ffffd6"/><stop offset="0.4367" stop-color="#ffffd9"/><stop offset="0.4729" stop-color="#ffffcf"/><stop offset="0.5151" stop-color="#ffffb0"/><stop offset="0.5452" stop-color="#ffffae"/><stop offset="0.5813" stop-color="#ffff91"/><stop offset="0.6175" stop-color="#ffff85"/><stop offset="0.75" stop-color="#ffff73"/><stop offset="0.8042" stop-color="#ffff79"/><stop offset="0.8524" stop-color="#ffff70"/><stop offset="0.9006" stop-color="#ffff75"/><stop offset="0.9428" stop-color="#ffff62"/><stop offset="0.997" stop-color="#ffff61"/></linearGradient>
<linearGradient id="r41" gradientUnits="userSpaceOnUse" x1="144" x2="310" y1="0" y2="0"><stop offset="0.003012" stop-color="#ffffec"/><stop offset="0.02711" stop-color="#ffffff"/><stop offset="0.06325" stop-color="#ffffff"/><stop offset="0.0994" stop-color="#ffffee"/><stop offset="0.1355" stop-color="#fffffe"/><stop offset="0.2078" stop-color="#ffffff"/><stop offset="0.25" stop-color="#ffffd0"/><stop offset="0.2741" stop-color="#ffffc2"/><stop offset="0.3042" stop-color="#ffffbf"/><stop offset="0.3584" stop-color="#ffffd4"/><stop offset="0.4367" stop-color="#ffffda"/><stop offset="0.4729" stop-color="#ffffd0"/><stop offset="0.5151" stop-color="#ffffae"/><stop offset="0.5392" stop-color="#ffffad"/><stop offset="0.5693" stop-color="#ffff93"/><stop offset="0.6054" stop-color="#ffff87"/><stop offset="0.744" stop-color="#ffff70"/><stop offset="0.8946" stop-color="#ffff73"/><stop offset="0.9428" stop-color="#ffff60"/><stop offset="0.997" stop-color="#ffff5f"/></linearGradient>
<linearGradient id="r42" gradientUnits="userSpaceOnUse" x1="144" x2="310" y1="0" y2="0"><stop offset="0.003012" stop-color="#ffffeb"/><stop offset="0.03313" stop-color="#ffffff"/><stop offset="0.05723" stop-color="#ffffff"/><stop offset="0.0994" stop-color="#ffffee"/><stop offset="0.1355" stop-color="#fffffe"/><stop offset="0.2078" stop-color="#ffffff"/><stop offset="0.256" stop-color="#ffffcd"/><stop offset="0.2922" stop-color="#ffffbc"/><stop offset="0.3163" stop-color="#ffffbd"/><stop offset="0.3645" stop-color="#ffffd3"/><stop offset="0.4428" stop-color="#ffffda"/><stop offset="0.4729" stop-color="#ffffd1"/><stop offset="0.509" stop-color="#ffffb2"/><stop offset="0.5392" stop-color="#ffffa8"/><stop offset="0.5633" stop-color="#ffff92"/><stop offset="0.5873" stop-color="#ffff89"/><stop offset="0.738" stop-color="#ffff6e"/><stop offset="0.8886" stop-color="#ffff72"/><stop offset="0.9428" stop-color="#ffff60"/><stop offset="0.997" stop-color="#ffff60"/></linearGradient>
<linearGradient id="r43" gradientUnits="userSpaceOnUse" x1="144" x2="310" y1="0" y2="0"><stop offset="0.003012" stop-color="#ffffea"/><stop offset="0.04518" stop-color="#fffffc"/><stop offset="0.09337" stop-color="#ffffed"/><stop offset="0.1355" stop-color="#fffffe"/><stop offset="0.2139" stop-color="#ffffff"/><stop offset="0.256" stop-color="#ffffd1"/><stop offset="0.2982" stop-color="#ffffb8"/><stop offset="0.3163" stop-color="#ffffb8"/><stop offset="0.3645" stop-color="#ffffd1"/><stop offset="0.4367" stop-color="#ffffdb"/><stop offset="0.4729" stop-color="#ffffd2"/><stop offset="0.5512" stop-color="#ffff95"/><stop offset="0.5813" stop-color="#ffff88"/><stop offset="0.744" stop-color="#ffff6b"/><stop offset="0.8886" stop-color="#ffff71"/><stop offset="0.9428" stop-color="#ffff63"/><stop offset="0.997" stop-color="#ffff62"/></linearGradient>
<linearGradient id="r44" gradientUnits="userSpaceOnUse" x1="144" x2="310" y1="0" y2="0"><stop offset="0.003012" stop-color="#ffffe8"/><stop offset="0.04518" stop-color="#fffff5"/><stop offset="0.09337" stop-color="#ffffeb"/><stop offset="0.1355" stop-color="#fffffe"/><stop offset="0.2139" stop-color="#ffffff"/><stop offset="0.262" stop-color="#ffffd0"/><stop offset="0.3042" stop-color="#ffffb4"/><stop offset="0.3765" stop-color="#ffffd2"/><stop offset="0.4367" stop-color="#ffffdc"/><stop offset="0.4789" stop-color="#ffffce"/><stop offset="0.5392" stop-color="#ffff98"/><stop offset="0.5753" stop-color="#ffff88"/><stop offset="0.6476" stop-color="#ffff80"/><stop offset="0.744" stop-color="#ffff69"/><stop offset="0.8825" stop-color="#ffff71"/><stop offset="0.9488" stop-color="#ffff65"/><stop offset="0.997" stop-color="#ffff65"/></linearGradient>
<linearGradient id="r45" gradientUnits="userSpaceOnUse" x1="144" x2="310" y1="0" y2="0"><stop offset="0.003012" stop-color="#ffffe6"/><stop offset="0.04518" stop-color="#ffffee"/><stop offset="0.09337" stop-color="#ffffea"/><stop offset="0.1355" stop-color="#fffffe"/><stop offset="0.2139" stop-color="#ffffff"/><stop offset="0.2861" stop-color="#ffffbe"/><stop offset="0.3102" stop-color="#ffffb1"/><stop offset="0.3886" stop-color="#ffffd4"/><stop offset="0.4367" stop-color="#ffffdc"/><stop offset="0.4789" stop-color="#ffffcd"/><stop offset="0.5331" stop-color="#ffff97"/><stop offset="0.5693" stop-color="#ffff88"/><stop offset="0.6416" stop-color="#ffff82"/><stop offset="0.744" stop-color="#ffff67"/><stop offset="0.8825" stop-color="#ffff72"/><stop offset="0.997" stop-color="#ffff69"/></linearGradient>
<linearGradient id="r46" gradientUnits="userSpaceOnUse" x1="144" x2="310" y1="0" y2="0"><stop offset="0.003012" stop-color="#ffffe4"/><stop offset="0.08735" stop-color="#ffffe8"/><stop offset="0.1416" stop-color="#ffffff"/><stop offset="0.2139" stop-color="#ffffff"/><stop offset="0.2922" stop-color="#ffffb9"/><stop offset="0.3102" stop-color="#ffffb0"/><stop offset="0.3223" stop-color="#ffffb0"/><stop offset="0.3946" stop-color="#ffffd5"/><stop offset="0.4367" stop-color="#ffffdb"/><stop offset="0.4789" stop-color="#ffffca"/><stop offset="0.5331" stop-color="#ffff91"/><stop offset="0.5693" stop-color="#ffff86"/><stop offset="0.6416" stop-color="#ffff82"/><stop offset="0.744" stop-color="#ffff65"/><stop offset="0.8825" stop-color="#ffff72"/><stop offset="0.997" stop-color="#ffff6c"/></linearGradient>
<linearGradient id="r47" gradientUnits="userSpaceOnUse" x1="144" x2="310" y1="0" y2="0"><stop offset="0.003012" stop-color="#ffffe3"/><stop offset="0.08133" stop-color="#ffffe4"/><stop offset="0.1416" stop-color="#ffffff"/><stop offset="0.2139" stop-color="#ffffff"/><stop offset="0.3102" stop-color="#ffffaf"/><stop offset="0.3404" stop-color="#ffffb3"/><stop offset="0.3946" stop-color="#ffffd3"/><stop offset="0.4307" stop-color="#ffffdb"/><stop offset="0.4729" stop-color="#ffffcb"/><stop offset="0.5151" stop-color="#ffff9b"/><stop offset="0.5331" stop-color="#ffff8e"/><stop offset="0.5813" stop-color="#ffff82"/><stop offset="0.6416" stop-color="#ffff82"/><stop offset="0.7319" stop-color="#ffff65"/><stop offset="0.8946" stop-color="#ffff74"/><stop offset="0.997" stop-color="#ffff70"/></linearGradient>
<linearGradient id="r48" gradientUnits="userSpaceOnUse" x1="144" x2="310" y1="0" y2="0"><stop offset="0.003012" stop-color="#ffffe1"/><stop offset="0.05723" stop-color="#ffffdc"/><stop offset="0.1416" stop-color="#ffffff"/><stop offset="0.2139" stop-color="#ffffff"/><stop offset="0.3042" stop-color="#ffffb2"/><stop offset="0.3464" stop-color="#ffffac"/><stop offset="0.4006" stop-color="#ffffd4"/><stop offset="0.4367" stop-color="#ffffd9"/><stop offset="0.4669" stop-color="#ffffcb"/><stop offset="0.509" stop-color="#ffff9a"/><stop offset="0.5271" stop-color="#ffff8d"/><stop offset="0.5813" stop-color="#ffff81"/><stop offset="0.6416" stop-color="#ffff82"/><stop offset="0.7319" stop-color="#ffff64"/><stop offset="0.7801" stop-color="#ffff63"/><stop offset="0.9247" stop-color="#ffff7a"/><stop offset="0.997" stop-color="#ffff74"/></linearGradient>
<linearGradient id="r49" gradientUnits="userSpaceOnUse" x1="144" x2="310" y1="0" y2="0"><stop offset="0.003012" stop-color="#ffffdf"/><stop offset="0.0512" stop-color="#ffffd6"/><stop offset="0.1416" stop-color="#fffffe"/><stop offset="0.2139" stop-color="#ffffff"/><stop offset="0.2681" stop-color="#ffffd5"/><stop offset="0.2982" stop-color="#ffffb6"/><stop offset="0.3404" stop-color="#ffffa0"/><stop offset="0.3584" stop-color="#ffffa8"/><stop offset="0.4006" stop-color="#ffffd1"/><stop offset="0.4307" stop-color="#ffffd8"/><stop offset="0.4608" stop-color="#ffffcb"/><stop offset="0.503" stop-color="#ffff99"/><stop offset="0.5271" stop-color="#ffff8b"/><stop offset="0.5813" stop-color="#ffff7f"/><stop offset="0.6416" stop-color="#ffff82"/><stop offset="0.7319" stop-color="#ffff62"/><stop offset="0.7861" stop-color="#ffff61"/><stop offset="0.9247" stop-color="#ffff80"/><stop offset="0.997" stop-color="#ffff77"/></linearGradient>
<linearGradient id="r50" gradientUnits="userSpaceOnUse" x1="144" x2="310" y1="0" y2="0"><stop offset="0.003012" stop-color="#ffffde"/><stop offset="0.0512" stop-color="#ffffd2"/><stop offset="0.1476" stop-color="#ffffff"/><stop offset="0.2078" stop-color="#ffffff"/><stop offset="0.2681" stop-color="#ffffd6"/><stop offset="0.3223" stop-color="#ffff9f"/><stop offset="0.3404" stop-color="#ffff97"/><stop offset="0.3584" stop-color="#ffff9e"/><stop offset="0.4006" stop-color="#ffffce"/><stop offset="0.4247" stop-color="#ffffd7"/><stop offset="0.4488" stop-color="#ffffce"/><stop offset="0.497" stop-color="#ffff98"/><stop offset="0.5211" stop-color="#ffff8a"/><stop offset="0.5813" stop-color="#ffff7d"/><stop offset="0.6416" stop-color="#ffff82"/><stop offset="0.7319" stop-color="#ffff60"/><stop offset="0.7922" stop-color="#ffff60"/><stop offset="0.9187" stop-color="#ffff84"/><stop offset="0.997" stop-color="#ffff7b"/></linearGradient>
<linearGradient id="r51" gradientUnits="userSpaceOnUse" x1="144" x2="310" y1="0" y2="0"><stop offset="0.003012" stop-color="#ffffdc"/><stop offset="0.0512" stop-color="#ffffce"/><stop offset="0.1476" stop-color="#fffffe"/><stop offset="0.2078" stop-color="#ffffff"/><stop offset="0.2741" stop-color="#ffffd1"/><stop offset="0.3163" stop-color="#ffff9e"/><stop offset="0.3343" stop-color="#ffff92"/><stop offset="0.3584" stop-color="#ffff96"/><stop offset="0.4006" stop-color="#ffffca"/><stop offset="0.4247" stop-color="#ffffd4"/><stop offset="0.4488" stop-color="#ffffc9"/><stop offset="0.491" stop-color="#ffff97"/><stop offset="0.5151" stop-color="#ffff8a"/><stop offset="0.5813" stop-color="#ffff7b"/><stop offset="0.6416" stop-color="#ffff7f"/><stop offset="0.6958" stop-color="#ffff67"/><stop offset="0.75" stop-color="#ffff5c"/><stop offset="0.7982" stop-color="#ffff5e"/><stop offset="0.9247" stop-color="#ffff88"/><stop offset="0.997" stop-color="#ffff7e"/></linearGradient>
<linearGradient id="r52" gradientUnits="userSpaceOnUse" x1="144" x2="310" y1="0" y2="0"><stop offset="0.003012" stop-color="#ffffdb"/><stop offset="0.0512" stop-color="#ffffcb"/><stop offset="0.1536" stop-color="#ffffff"/><stop offset="0.2078" stop-color="#ffffff"/><stop offset="0.2801" stop-color="#ffffcd"/><stop offset="0.3163" stop-color="#ffff9b"/><stop offset="0.3343" stop-color="#ffff90"/><stop offset="0.3645" stop-color="#ffff94"/><stop offset="0.4066" stop-color="#ffffca"/><stop offset="0.4247" stop-color="#ffffd1"/><stop offset="0.4428" stop-color="#ffffc8"/><stop offset="0.4849" stop-color="#ffff96"/><stop offset="0.509" stop-color="#ffff89"/><stop offset="0.5753" stop-color="#ffff7a"/><stop offset="0.6416" stop-color="#ffff7c"/><stop offset="0.7018" stop-color="#ffff63"/><stop offset="0.75" stop-color="#ffff5a"/><stop offset="0.7982" stop-color="#ffff5c"/><stop offset="0.9247" stop-color="#ffff8a"/><stop offset="0.9608" stop-color="#ffff7f"/><stop offset="0.997" stop-color="#ffff80"/></linearGradient>
<linearGradient id="r53" gradientUnits="userSpaceOnUse" x1="144" x2="310" y1="0" y2="0"><stop offset="0.003012" stop-color="#ffffda"/><stop offset="0.0512" stop-color="#ffffc8"/><stop offset="0.1536" stop-color="#fffffd"/><stop offset="0.2018" stop-color="#ffffff"/><stop offset="0.2801" stop-color="#ffffcf"/><stop offset="0.3163" stop-color="#ffff9d"/><stop offset="0.3404" stop-color="#ffff8e"/><stop offset="0.3705" stop-color="#ffff93"/><stop offset="0.4066" stop-color="#ffffc4"/><stop offset="0.4247" stop-color="#ffffce"/><stop offset="0.4428" stop-color="#ffffc0"/><stop offset="0.4729" stop-color="#ffff9a"/><stop offset="0.509" stop-color="#ffff86"/><stop offset="0.5693" stop-color="#ffff78"/><stop offset="0.6416" stop-color="#ffff78"/><stop offset="0.7078" stop-color="#ffff5f"/><stop offset="0.762" stop-color="#ffff56"/><stop offset="0.7982" stop-color="#ffff59"/><stop offset="0.9247" stop-color="#ffff89"/><stop offset="0.9669" stop-color="#ffff7e"/><stop offset="0.997" stop-color="#ffff81"/></linearGradient>
<linearGradient id="r54" gradientUnits="userSpaceOnUse" x1="144" x2="310" y1="0" y2="0"><stop offset="0.003012" stop-color="#ffffda"/><stop offset="0.0512" stop-color="#ffffc7"/><stop offset="0.1596" stop-color="#fffffe"/><stop offset="0.2018" stop-color="#ffffff"/><stop offset="0.2319" stop-color="#ffffe6"/><stop offset="0.2861" stop-color="#ffffcb"/><stop offset="0.3163" stop-color="#ffffa5"/><stop offset="0.3464" stop-color="#ffff8f"/><stop offset="0.3765" stop-color="#ffff93"/><stop offset="0.4127" stop-color="#ffffc4"/><stop offset="0.4247" stop-color="#ffffc9"/><stop offset="0.4669" stop-color="#ffff98"/><stop offset="0.509" stop-color="#ffff83"/><stop offset="0.5693" stop-color="#ffff76"/><stop offset="0.6416" stop-color="#ffff73"/><stop offset="0.7139" stop-color="#ffff5a"/><stop offset="0.762" stop-color="#ffff53"/><stop offset="0.8102" stop-color="#ffff5a"/><stop offset="0.8825" stop-color="#ffff7c"/><stop offset="0.9187" stop-color="#ffff85"/><stop offset="0.9669" stop-color="#ffff7c"/><stop offset="0.997" stop-color="#ffff7f"/></linearGradient>
<linearGradient id="r55" gradientUnits="userSpaceOnUse" x1="144" x2="310" y1="0" y2="0"><stop offset="0.003012" stop-color="#ffffda"/><stop offset="0.0512" stop-color="#ffffc7"/><stop offset="0.1355" stop-color="#fffff3"/><stop offset="0.1657" stop-color="#ffffff"/><stop offset="0.1958" stop-color="#ffffff"/><stop offset="0.2319" stop-color="#ffffe1"/><stop offset="0.2861" stop-color="#ffffce"/><stop offset="0.3404" stop-color="#ffff97"/><stop offset="0.3584" stop-color="#ffff8c"/><stop offset="0.3825" stop-color="#ffff94"/><stop offset="0.4127" stop-color="#ffffbc"/><stop offset="0.4247" stop-color="#ffffc1"/><stop offset="0.4608" stop-color="#ffff97"/><stop offset="0.509" stop-color="#ffff80"/><stop offset="0.5572" stop-color="#ffff74"/><stop offset="0.6416" stop-color="#ffff6f"/><stop offset="0.744" stop-color="#ffff52"/><stop offset="0.8102" stop-color="#ffff57"/><stop offset="0.8886" stop-color="#ffff7b"/><stop offset="0.9247" stop-color="#ffff81"/><stop offset="0.997" stop-color="#ffff7b"/></linearGradient>
<linearGradient id="r56" gradientUnits="userSpaceOnUse" x1="144" x2="310" y1="0" y2="0"><stop offset="0.003012" stop-color="#ffffda"/><stop offset="0.0512" stop-color="#ffffc9"/><stop offset="0.1175" stop-color="#ffffec"/><stop offset="0.1898" stop-color="#ffffff"/><stop offset="0.2319" stop-color="#ffffdc"/><stop offset="0.2922" stop-color="#ffffcc"/><stop offset="0.3584" stop-color="#ffff8e"/><stop offset="0.3825" stop-color="#ffff90"/><stop offset="0.4127" stop-color="#ffffb1"/><stop offset="0.4247" stop-color="#ffffb6"/><stop offset="0.4608" stop-color="#ffff92"/><stop offset="0.5151" stop-color="#ffff7b"/><stop offset="0.6416" stop-color="#ffff6a"/><stop offset="0.744" stop-color="#ffff4f"/><stop offset="0.7982" stop-color="#ffff51"/><stop offset="0.8886" stop-color="#ffff77"/><stop offset="0.997" stop-color="#ffff75"/></linearGradient>
<linearGradient id="r57" gradientUnits="userSpaceOnUse" x1="144" x2="310" y1="0" y2="0"><stop offset="0.003012" stop-color="#ffffdb"/><stop offset="0.0512" stop-color="#ffffcb"/><stop offset="0.1175" stop-color="#ffffed"/><stop offset="0.1837" stop-color="#fffffe"/><stop offset="0.2319" stop-color="#ffffd6"/><stop offset="0.2741" stop-color="#ffffd5"/><stop offset="0.3163" stop-color="#ffffc4"/><stop offset="0.3524" stop-color="#ffff94"/><stop offset="0.3645" stop-color="#ffff8c"/><stop offset="0.3886" stop-color="#ffff90"/><stop offset="0.4247" stop-color="#ffffaa"/><stop offset="0.4548" stop-color="#ffff91"/><stop offset="0.5211" stop-color="#ffff76"/><stop offset="0.6416" stop-color="#ffff66"/><stop offset="0.738" stop-color="#ffff4c"/><stop offset="0.7922" stop-color="#ffff4d"/><stop offset="0.8886" stop-color="#ffff72"/><stop offset="0.997" stop-color="#ffff6e"/></linearGradient>
<linearGradient id="r58" gradientUnits="userSpaceOnUse" x1="144" x2="310" y1="0" y2="0"><stop offset="0.003012" stop-color="#ffffdd"/><stop offset="0.0512" stop-color="#ffffcf"/><stop offset="0.1175" stop-color="#ffffee"/><stop offset="0.1837" stop-color="#fffff8"/><stop offset="0.2319" stop-color="#ffffd1"/><stop offset="0.2741" stop-color="#ffffd6"/><stop offset="0.3163" stop-color="#ffffcb"/><stop offset="0.3283" stop-color="#ffffc0"/><stop offset="0.3524" stop-color="#ffff96"/><stop offset="0.3645" stop-color="#ffff8d"/><stop offset="0.3825" stop-color="#ffff8b"/><stop offset="0.4247" stop-color="#ffff9e"/><stop offset="0.5271" stop-color="#ffff71"/><stop offset="0.6355" stop-color="#ffff62"/><stop offset="0.7319" stop-color="#ffff49"/><stop offset="0.7922" stop-color="#ffff49"/><stop offset="0.8946" stop-color="#ffff6c"/><stop offset="0.997" stop-color="#ffff67"/></linearGradient>
<linearGradient id="r59" gradientUnits="userSpaceOnUse" x1="144" x2="310" y1="0" y2="0"><stop offset="0.003012" stop-color="#ffffdf"/><stop offset="0.0512" stop-color="#ffffd2"/><stop offset="0.1235" stop-color="#fffff2"/><stop offset="0.1837" stop-color="#fffff0"/><stop offset="0.2319" stop-color="#ffffcc"/><stop offset="0.2741" stop-color="#ffffd6"/><stop offset="0.3163" stop-color="#ffffcf"/><stop offset="0.3283" stop-color="#ffffc5"/><stop offset="0.3524" stop-color="#ffff98"/><stop offset="0.3705" stop-color="#ffff8b"/><stop offset="0.4247" stop-color="#ffff96"/><stop offset="0.5271" stop-color="#ffff6e"/><stop offset="0.6355" stop-color="#ffff5d"/><stop offset="0.7259" stop-color="#ffff45"/><stop offset="0.7861" stop-color="#ffff44"/><stop offset="0.9006" stop-color="#ffff66"/><stop offset="0.997" stop-color="#ffff60"/></linearGradient>
<linearGradient id="r60" gradientUnits="userSpaceOnUse" x1="144" x2="310" y1="0" y2="0"><stop offset="0.003012" stop-color="#ffffe0"/><stop offset="0.05723" stop-color="#ffffd7"/><stop offset="0.1295" stop-color="#fffff6"/><stop offset="0.1898" stop-color="#ffffe4"/><stop offset="0.2259" stop-color="#ffffca"/><stop offset="0.2741" stop-color="#ffffd7"/><stop offset="0.3102" stop-color="#ffffd2"/><stop offset="0.3283" stop-color="#ffffc7"/><stop offset="0.3524" stop-color="#ffff99"/><stop offset="0.3705" stop-color="#ffff8b"/><stop offset="0.4307" stop-color="#ffff8f"/><stop offset="0.5271" stop-color="#ffff6b"/><stop offset="0.7199" stop-color="#ffff41"/><stop offset="0.7861" stop-color="#ffff40"/><stop offset="0.9066" stop-color="#ffff5f"/><stop offset="0.997" stop-color="#ffff58"/></linearGradient>
<linearGradient id="r61" gradientUnits="userSpaceOnUse" x1="144" x2="310" y1="0" y2="0"><stop offset="0.003012" stop-color="#ffffe3"/><stop offset="0.06325" stop-color="#ffffdc"/><stop offset="0.1295" stop-color="#fffffa"/><stop offset="0.2259" stop-color="#ffffc7"/><stop offset="0.2681" stop-color="#ffffd6"/><stop offset="0.3042" stop-color="#ffffd3"/><stop offset="0.3283" stop-color="#ffffc7"/><stop offset="0.3524" stop-color="#ffff9a"/><stop offset="0.3705" stop-color="#ffff8b"/><stop offset="0.4367" stop-color="#ffff89"/><stop offset="0.5211" stop-color="#ffff69"/><stop offset="0.7139" stop-color="#ffff3c"/><stop offset="0.7861" stop-color="#ffff3b"/><stop offset="0.9127" stop-color="#ffff58"/><stop offset="0.997" stop-color="#ffff50"/></linearGradient>
<linearGradient id="r62" gradientUnits="userSpaceOnUse" x1="144" x2="310" y1="0" y2="0"><stop offset="0.003012" stop-color="#ffffe5"/><stop offset="0.06928" stop-color="#ffffe1"/><stop offset="0.1295" stop-color="#fffffe"/><stop offset="0.1777" stop-color="#ffffd7"/><stop offset="0.2139" stop-color="#ffffc8"/><stop offset="0.2319" stop-color="#ffffc6"/><stop offset="0.2741" stop-color="#ffffd7"/><stop offset="0.3163" stop-color="#ffffcc"/><stop offset="0.3283" stop-color="#ffffc4"/><stop offset="0.3584" stop-color="#ffff92"/><stop offset="0.3765" stop-color="#ffff88"/><stop offset="0.4428" stop-color="#ffff83"/><stop offset="0.5211" stop-color="#ffff66"/><stop offset="0.7139" stop-color="#ffff36"/><stop offset="0.7861" stop-color="#ffff35"/><stop offset="0.9127" stop-color="#ffff50"/><stop offset="0.997" stop-color="#ffff48"/></linearGradient>
<linearGradient id="r63" gradientUnits="userSpaceOnUse" x1="144" x2="310" y1="0" y2="0"><stop offset="0.003012" stop-color="#ffffe7"/><stop offset="0.06928" stop-color="#ffffe4"/><stop offset="0.1175" stop-color="#ffffff"/><stop offset="0.1355" stop-color="#ffffff"/><stop offset="0.1898" stop-color="#ffffc9"/><stop offset="0.2259" stop-color="#ffffc6"/><stop offset="0.2801" stop-color="#ffffd5"/><stop offset="0.3223" stop-color="#ffffc1"/><stop offset="0.3524" stop-color="#ffff97"/><stop offset="0.3765" stop-color="#ffff86"/><stop offset="0.4428" stop-color="#ffff7f"/><stop offset="0.7078" stop-color="#ffff31"/><stop offset="0.7861" stop-color="#ffff30"/><stop offset="0.9127" stop-color="#ffff47"/><stop offset="0.997" stop-color="#ffff40"/></linearGradient>
<linearGradient id="r64" gradientUnits="userSpaceOnUse" x1="144" x2="310" y1="0" y2="0"><stop offset="0.003012" stop-color="#ffffea"/><stop offset="0.02711" stop-color="#ffffee"/><stop offset="0.0753" stop-color="#ffffe7"/><stop offset="0.1114" stop-color="#ffffff"/><stop offset="0.1355" stop-color="#ffffff"/><stop offset="0.1717" stop-color="#ffffd2"/><stop offset="0.1898" stop-color="#ffffc4"/><stop offset="0.2078" stop-color="#ffffc2"/><stop offset="0.256" stop-color="#ffffd4"/><stop offset="0.2801" stop-color="#ffffd4"/><stop offset="0.3102" stop-color="#ffffc2"/><stop offset="0.3524" stop-color="#ffff94"/><stop offset="0.3765" stop-color="#ffff85"/><stop offset="0.4428" stop-color="#ffff7b"/><stop offset="0.7078" stop-color="#ffff2b"/><stop offset="0.7861" stop-color="#ffff2a"/><stop offset="0.9127" stop-color="#ffff3f"/><stop offset="0.997" stop-color="#ffff38"/></linearGradient>
<linearGradient id="r65" gradientUnits="userSpaceOnUse" x1="144" x2="310" y1="0" y2="0"><stop offset="0.003012" stop-color="#ffffee"/><stop offset="0.03313" stop-color="#fffff6"/><stop offset="0.0753" stop-color="#ffffea"/><stop offset="0.1114" stop-color="#ffffff"/><stop offset="0.1355" stop-color="#ffffff"/><stop offset="0.1717" stop-color="#ffffcd"/><stop offset="0.1898" stop-color="#ffffc0"/><stop offset="0.2078" stop-color="#ffffc0"/><stop offset="0.25" stop-color="#ffffd4"/><stop offset="0.2741" stop-color="#ffffd4"/><stop offset="0.2982" stop-color="#ffffc4"/><stop offset="0.3464" stop-color="#ffff95"/><stop offset="0.3825" stop-color="#ffff80"/><stop offset="0.4428" stop-color="#ffff77"/><stop offset="0.7018" stop-color="#ffff25"/><stop offset="0.7801" stop-color="#ffff24"/><stop offset="0.9187" stop-color="#ffff36"/><stop offset="0.997" stop-color="#ffff30"/></linearGradient>
<linearGradient id="r66" gradientUnits="userSpaceOnUse" x1="144" x2="310" y1="0" y2="0"><stop offset="0.003012" stop-color="#fffff1"/><stop offset="0.03313" stop-color="#fffffe"/><stop offset="0.0753" stop-color="#ffffec"/><stop offset="0.1114" stop-color="#ffffff"/><stop offset="0.1355" stop-color="#ffffff"/><stop offset="0.1717" stop-color="#ffffca"/><stop offset="0.1898" stop-color="#ffffbd"/><stop offset="0.2078" stop-color="#ffffbf"/><stop offset="0.244" stop-color="#ffffd4"/><stop offset="0.2681" stop-color="#ffffd4"/><stop offset="0.2861" stop-color="#ffffca"/><stop offset="0.3283" stop-color="#ffff9b"/><stop offset="0.3825" stop-color="#ffff7c"/><stop offset="0.5331" stop-color="#ffff59"/><stop offset="0.5873" stop-color="#ffff40"/><stop offset="0.6355" stop-color="#ffff39"/><stop offset="0.6958" stop-color="#ffff20"/><stop offset="0.75" stop-color="#ffff1c"/><stop offset="0.9247" stop-color="#ffff2e"/><stop offset="0.997" stop-color="#ffff27"/></linearGradient>
<linearGradient id="r67" gradientUnits="userSpaceOnUse" x1="144" x2="310" y1="0" y2="0"><stop offset="0.003012" stop-color="#fffff4"/><stop offset="0.01506" stop-color="#ffffff"/><stop offset="0.04518" stop-color="#ffffff"/><stop offset="0.08133" stop-color="#ffffef"/><stop offset="0.1114" stop-color="#ffffff"/><stop offset="0.1355" stop-color="#ffffff"/><stop offset="0.1717" stop-color="#ffffc7"/><stop offset="0.1837" stop-color="#ffffbd"/><stop offset="0.2018" stop-color="#ffffbc"/><stop offset="0.238" stop-color="#ffffd2"/><stop offset="0.262" stop-color="#ffffd4"/><stop offset="0.2861" stop-color="#ffffc6"/><stop offset="0.3223" stop-color="#ffff98"/><stop offset="0.3825" stop-color="#ffff79"/><stop offset="0.5271" stop-color="#ffff57"/><stop offset="0.5873" stop-color="#ffff3b"/><stop offset="0.6355" stop-color="#ffff32"/><stop offset="0.6898" stop-color="#ffff1a"/><stop offset="0.738" stop-color="#ffff15"/><stop offset="0.9247" stop-color="#ffff24"/><stop offset="0.997" stop-color="#ffff1f"/></linearGradient>
<linearGradient id="r68" gradientUnits="userSpaceOnUse" x1="144" x2="310" y1="0" y2="0"><stop offset="0.003012" stop-color="#fffff7"/><stop offset="0.01506" stop-color="#ffffff"/><stop offset="0.0512" stop-color="#ffffff"/><stop offset="0.08133" stop-color="#fffff1"/><stop offset="0.1295" stop-color="#fffffe"/><stop offset="0.1717" stop-color="#ffffc6"/><stop offset="0.1898" stop-color="#ffffba"/><stop offset="0.238" stop-color="#ffffd1"/><stop offset="0.262" stop-color="#ffffd3"/><stop offset="0.2801" stop-color="#ffffc9"/><stop offset="0.3223" stop-color="#ffff92"/><stop offset="0.3765" stop-color="#ffff78"/><stop offset="0.5271" stop-color="#ffff54"/><stop offset="0.5873" stop-color="#ffff34"/><stop offset="0.6355" stop-color="#ffff2b"/><stop offset="0.6898" stop-color="#ffff13"/><stop offset="0.738" stop-color="#ffff0e"/><stop offset="0.9247" stop-color="#ffff1b"/><stop offset="0.997" stop-color="#ffff16"/></linearGradient>
<linearGradient id="r69" gradientUnits="userSpaceOnUse" x1="144" x2="310" y1="0" y2="0"><stop offset="0.003012" stop-color="#fffff8"/><stop offset="0.009036" stop-color="#ffffff"/><stop offset="0.05723" stop-color="#ffffff"/><stop offset="0.08133" stop-color="#fffff3"/><stop offset="0.1235" stop-color="#fffffa"/><stop offset="0.1416" stop-color="#ffffec"/><stop offset="0.1717" stop-color="#ffffc5"/><stop offset="0.1898" stop-color="#ffffbb"/><stop offset="0.238" stop-color="#ffffd0"/><stop offset="0.262" stop-color="#ffffd1"/><stop offset="0.2801" stop-color="#ffffc5"/><stop offset="0.3163" stop-color="#ffff92"/><stop offset="0.3705" stop-color="#ffff77"/><stop offset="0.5331" stop-color="#ffff4f"/><stop offset="0.5572" stop-color="#ffff45"/><stop offset="0.5873" stop-color="#ffff2e"/><stop offset="0.6295" stop-color="#ffff26"/><stop offset="0.6837" stop-color="#ffff0d"/><stop offset="0.738" stop-color="#ffff08"/><stop offset="0.9187" stop-color="#ffff12"/><stop offset="0.997" stop-color="#ffff0d"/></linearGradient>
<linearGradient id="r70" gradientUnits="userSpaceOnUse" x1="144" x2="310" y1="0" y2="0"><stop offset="0.003012" stop-color="#fffff8"/><stop offset="0.009036" stop-color="#ffffff"/><stop offset="0.05723" stop-color="#ffffff"/><stop offset="0.08133" stop-color="#fffff5"/><stop offset="0.1235" stop-color="#fffff3"/><stop offset="0.1837" stop-color="#ffffbc"/><stop offset="0.238" stop-color="#ffffd0"/><stop offset="0.262" stop-color="#ffffce"/><stop offset="0.2801" stop-color="#ffffc1"/><stop offset="0.3102" stop-color="#ffff94"/><stop offset="0.3464" stop-color="#ffff7d"/><stop offset="0.3946" stop-color="#ffff6a"/><stop offset="0.4669" stop-color="#ffff60"/><stop offset="0.5331" stop-color="#ffff4c"/><stop offset="0.5572" stop-color="#ffff42"/><stop offset="0.5873" stop-color="#ffff27"/><stop offset="0.6295" stop-color="#ffff21"/><stop offset="0.6777" stop-color="#ffff07"/><stop offset="0.7319" stop-color="#ffff01"/><stop offset="0.9127" stop-color="#ffff0a"/><stop offset="0.997" stop-color="#ffff06"/></linearGradient>
<linearGradient id="r71" gradientUnits="userSpaceOnUse" x1="144" x2="310" y1="0" y2="0"><stop offset="0.003012" stop-color="#fffff6"/><stop offset="0.01506" stop-color="#ffffff"/><stop offset="0.06325" stop-color="#ffffff"/><stop offset="0.1175" stop-color="#fffff0"/><stop offset="0.1837" stop-color="#ffffbc"/><stop offset="0.2319" stop-color="#ffffce"/><stop offset="0.256" stop-color="#ffffce"/><stop offset="0.2801" stop-color="#ffffbd"/><stop offset="0.3102" stop-color="#ffff91"/><stop offset="0.3464" stop-color="#ffff78"/><stop offset="0.3946" stop-color="#ffff66"/><stop offset="0.5271" stop-color="#ffff4d"/><stop offset="0.5572" stop-color="#ffff3e"/><stop offset="0.5813" stop-color="#ffff22"/><stop offset="0.6295" stop-color="#ffff1c"/><stop offset="0.6717" stop-color="#ffff02"/><stop offset="0.997" stop-color="#fffe00"/></linearGradient>
<linearGradient id="r72" gradientUnits="userSpaceOnUse" x1="144" x2="310" y1="0" y2="0"><stop offset="0.003012" stop-color="#fffff3"/><stop offset="0.01506" stop-color="#ffffff"/><stop offset="0.06928" stop-color="#fffffe"/><stop offset="0.1175" stop-color="#ffffeb"/><stop offset="0.1657" stop-color="#ffffc3"/><stop offset="0.1837" stop-color="#ffffbc"/><stop offset="0.2319" stop-color="#ffffcd"/><stop offset="0.256" stop-color="#ffffcb"/><stop offset="0.2801" stop-color="#ffffba"/><stop offset="0.3042" stop-color="#ffff95"/><stop offset="0.3464" stop-color="#ffff73"/><stop offset="0.5271" stop-color="#ffff4b"/><stop offset="0.5572" stop-color="#ffff3a"/><stop offset="0.5813" stop-color="#ffff1d"/><stop offset="0.6235" stop-color="#ffff1a"/><stop offset="0.6596" stop-color="#ffff03"/><stop offset="0.6657" stop-color="#fffe00"/><stop offset="0.7319" stop-color="#fff700"/><stop offset="0.997" stop-color="#fffb00"/></linearGradient>
<linearGradient id="r73" gradientUnits="userSpaceOnUse" x1="144" x2="310" y1="0" y2="0"><stop offset="0.003012" stop-color="#fffff0"/><stop offset="0.02108" stop-color="#ffffff"/><stop offset="0.0753" stop-color="#fffffe"/><stop offset="0.1054" stop-color="#fffff0"/><stop offset="0.1717" stop-color="#ffffbe"/><stop offset="0.1898" stop-color="#ffffbc"/><stop offset="0.2259" stop-color="#ffffca"/><stop offset="0.256" stop-color="#ffffc8"/><stop offset="0.2801" stop-color="#ffffb8"/><stop offset="0.3042" stop-color="#ffff93"/><stop offset="0.3464" stop-color="#ffff6e"/><stop offset="0.5271" stop-color="#ffff4a"/><stop offset="0.5512" stop-color="#ffff3c"/><stop offset="0.5813" stop-color="#ffff1b"/><stop offset="0.6235" stop-color="#ffff18"/><stop offset="0.6596" stop-color="#ffff00"/><stop offset="0.7319" stop-color="#fff200"/><stop offset="0.997" stop-color="#fff800"/></linearGradient>
<linearGradient id="r74" gradientUnits="userSpaceOnUse" x1="144" x2="310" y1="0" y2="0"><stop offset="0.003012" stop-color="#ffffed"/><stop offset="0.02711" stop-color="#ffffff"/><stop offset="0.08133" stop-color="#ffffff"/><stop offset="0.1657" stop-color="#ffffbe"/><stop offset="0.1898" stop-color="#ffffbb"/><stop offset="0.2259" stop-color="#ffffc7"/><stop offset="0.262" stop-color="#ffffc2"/><stop offset="0.2801" stop-color="#ffffb7"/><stop offset="0.3042" stop-color="#ffff94"/><stop offset="0.3464" stop-color="#ffff6a"/><stop offset="0.5271" stop-color="#ffff49"/><stop offset="0.5813" stop-color="#ffff1d"/><stop offset="0.6235" stop-color="#ffff17"/><stop offset="0.6536" stop-color="#ffff05"/><stop offset="0.6596" stop-color="#ffff00"/><stop offset="0.7319" stop-color="#ffed00"/><stop offset="0.8283" stop-color="#fff500"/><stop offset="0.8645" stop-color="#ffec00"/><stop offset="0.997" stop-color="#fff500"/></linearGradient>
<linearGradient id="r75" gradientUnits="userSpaceOnUse" x1="144" x2="310" y1="0" y2="0"><stop offset="0.003012" stop-color="#ffffeb"/><stop offset="0.03313" stop-color="#fffffe"/><stop offset="0.08735" stop-color="#fffffd"/><stop offset="0.1416" stop-color="#ffffcb"/><stop offset="0.1657" stop-color="#ffffbc"/><stop offset="0.2259" stop-color="#ffffc4"/><stop offset="0.2801" stop-color="#ffffb7"/><stop offset="0.3464" stop-color="#ffff68"/><stop offset="0.5211" stop-color="#ffff4a"/><stop offset="0.5813" stop-color="#ffff20"/><stop offset="0.6295" stop-color="#ffff14"/><stop offset="0.6596" stop-color="#ffff00"/><stop offset="0.7259" stop-color="#ffe900"/><stop offset="0.7861" stop-color="#ffe800"/><stop offset="0.8283" stop-color="#fff300"/><stop offset="0.8645" stop-color="#ffe600"/><stop offset="0.997" stop-color="#fff300"/></linearGradient>
<linearGradient id="r76" gradientUnits="userSpaceOnUse" x1="144" x2="310" y1="0" y2="0"><stop offset="0.003012" stop-color="#ffffec"/><stop offset="0.03916" stop-color="#ffffff"/><stop offset="0.08735" stop-color="#fffffd"/><stop offset="0.1596" stop-color="#ffffbd"/><stop offset="0.2199" stop-color="#ffffc2"/><stop offset="0.2861" stop-color="#ffffb3"/><stop offset="0.3464" stop-color="#ffff68"/><stop offset="0.5211" stop-color="#ffff49"/><stop offset="0.5813" stop-color="#ffff24"/><stop offset="0.6295" stop-color="#ffff15"/><stop offset="0.6596" stop-color="#ffff02"/><stop offset="0.6657" stop-color="#fffd00"/><stop offset="0.7259" stop-color="#ffe300"/><stop offset="0.762" stop-color="#ffe900"/><stop offset="0.7922" stop-color="#ffe200"/><stop offset="0.8283" stop-color="#fff100"/><stop offset="0.8645" stop-color="#ffe000"/><stop offset="0.9006" stop-color="#ffea00"/><stop offset="0.997" stop-color="#fff000"/></linearGradient>
<linearGradient id="r77" gradientUnits="userSpaceOnUse" x1="144" x2="310" y1="0" y2="0"><stop offset="0.003012" stop-color="#fffff0"/><stop offset="0.02711" stop-color="#fffffe"/><stop offset="0.08133" stop-color="#ffffff"/><stop offset="0.1355" stop-color="#ffffcb"/><stop offset="0.1596" stop-color="#ffffbc"/><stop offset="0.2139" stop-color="#ffffbf"/><stop offset="0.2861" stop-color="#ffffb5"/><stop offset="0.3404" stop-color="#ffff6f"/><stop offset="0.3524" stop-color="#ffff67"/><stop offset="0.5151" stop-color="#ffff4a"/><stop offset="0.6596" stop-color="#ffff04"/><stop offset="0.6657" stop-color="#ffff00"/><stop offset="0.7259" stop-color="#ffde00"/><stop offset="0.762" stop-color="#ffe600"/><stop offset="0.7922" stop-color="#ffdc00"/><stop offset="0.8283" stop-color="#fff000"/><stop offset="0.8645" stop-color="#ffda00"/><stop offset="0.9006" stop-color="#ffe700"/><stop offset="0.997" stop-color="#ffed00"/></linearGradient>
<linearGradient id="r78" gradientUnits="userSpaceOnUse" x1="144" x2="310" y1="0" y2="0"><stop offset="0.003012" stop-color="#fffff5"/><stop offset="0.01506" stop-color="#ffffff"/><stop offset="0.0753" stop-color="#ffffff"/><stop offset="0.09337" stop-color="#fffff4"/><stop offset="0.1355" stop-color="#ffffc8"/><stop offset="0.1596" stop-color="#ffffbc"/><stop offset="0.2139" stop-color="#ffffbe"/><stop offset="0.256" stop-color="#ffffb1"/><stop offset="0.2861" stop-color="#ffffb7"/><stop offset="0.3404" stop-color="#ffff73"/><stop offset="0.3584" stop-color="#ffff65"/><stop offset="0.3946" stop-color="#ffff5a"/><stop offset="0.5151" stop-color="#ffff4a"/><stop offset="0.6295" stop-color="#ffff19"/><stop offset="0.6657" stop-color="#ffff02"/><stop offset="0.6717" stop-color="#fffd00"/><stop offset="0.7319" stop-color="#ffd800"/><stop offset="0.762" stop-color="#ffe500"/><stop offset="0.7922" stop-color="#ffd700"/><stop offset="0.8223" stop-color="#fff000"/><stop offset="0.8343" stop-color="#ffee00"/><stop offset="0.8645" stop-color="#ffd600"/><stop offset="0.8946" stop-color="#ffe300"/><stop offset="0.9548" stop-color="#ffed00"/><stop offset="0.997" stop-color="#ffeb00"/></linearGradient>
<linearGradient id="r79" gradientUnits="userSpaceOnUse" x1="144" x2="310" y1="0" y2="0"><stop offset="0.003012" stop-color="#fffffa"/><stop offset="0.04518" stop-color="#ffffff"/><stop offset="0.08133" stop-color="#fffff9"/><stop offset="0.1295" stop-color="#ffffca"/><stop offset="0.1596" stop-color="#ffffbc"/><stop offset="0.2139" stop-color="#ffffbc"/><stop offset="0.25" stop-color="#ffffae"/><stop offset="0.2922" stop-color="#ffffb7"/><stop offset="0.3102" stop-color="#ffff99"/><stop offset="0.3404" stop-color="#ffff76"/><stop offset="0.3645" stop-color="#ffff63"/><stop offset="0.4006" stop-color="#ffff57"/><stop offset="0.5211" stop-color="#ffff47"/><stop offset="0.6235" stop-color="#ffff1f"/><stop offset="0.6717" stop-color="#ffff00"/><stop offset="0.7319" stop-color="#ffd400"/><stop offset="0.762" stop-color="#ffe400"/><stop offset="0.7922" stop-color="#ffd500"/><stop offset="0.8223" stop-color="#ffef00"/><stop offset="0.8343" stop-color="#ffed00"/><stop offset="0.8645" stop-color="#ffd600"/><stop offset="0.9548" stop-color="#ffec00"/><stop offset="0.997" stop-color="#ffe800"/></linearGradient>
<linearGradient id="r80" gradientUnits="userSpaceOnUse" x1="144" x2="310" y1="0" y2="0"><stop offset="0.003012" stop-color="#ffffff"/><stop offset="0.04518" stop-color="#fffffe"/><stop offset="0.08133" stop-color="#fffff3"/><stop offset="0.1235" stop-color="#ffffcc"/><stop offset="0.1476" stop-color="#ffffbf"/><stop offset="0.2139" stop-color="#ffffbb"/><stop offset="0.25" stop-color="#ffffab"/><stop offset="0.2922" stop-color="#ffffb8"/><stop offset="0.3163" stop-color="#ffff92"/><stop offset="0.3464" stop-color="#ffff71"/><stop offset="0.3705" stop-color="#ffff60"/><stop offset="0.5392" stop-color="#ffff42"/><stop offset="0.6235" stop-color="#ffff22"/><stop offset="0.6717" stop-color="#ffff02"/><stop offset="0.6777" stop-color="#fffd00"/><stop offset="0.7319" stop-color="#ffd300"/><stop offset="0.756" stop-color="#ffe200"/><stop offset="0.7922" stop-color="#ffd400"/><stop offset="0.8223" stop-color="#ffed00"/><stop offset="0.8645" stop-color="#ffd800"/><stop offset="0.9006" stop-color="#ffe000"/><stop offset="0.9247" stop-color="#ffdd00"/><stop offset="0.9548" stop-color="#ffeb00"/><stop offset="0.997" stop-color="#ffe500"/></linearGradient>
<linearGradient id="r81" gradientUnits="userSpaceOnUse" x1="144" x2="310" y1="0" y2="0"><stop offset="0.003012" stop-color="#ffffff"/><stop offset="0.03916" stop-color="#ffffff"/><stop offset="0.05723" stop-color="#fffff1"/><stop offset="0.08133" stop-color="#ffffec"/><stop offset="0.1235" stop-color="#ffffc7"/><stop offset="0.1416" stop-color="#ffffbf"/><stop offset="0.2078" stop-color="#ffffbb"/><stop offset="0.25" stop-color="#ffffaa"/><stop offset="0.2922" stop-color="#ffffb5"/><stop offset="0.3102" stop-color="#ffff99"/><stop offset="0.3464" stop-color="#ffff72"/><stop offset="0.3765" stop-color="#ffff5d"/><stop offset="0.5693" stop-color="#ffff3b"/><stop offset="0.6235" stop-color="#ffff25"/><stop offset="0.6717" stop-color="#ffff04"/><stop offset="0.6777" stop-color="#fffe00"/><stop offset="0.6958" stop-color="#fff100"/><stop offset="0.7259" stop-color="#ffd400"/><stop offset="0.756" stop-color="#ffde00"/><stop offset="0.7922" stop-color="#ffcd00"/><stop offset="0.8223" stop-color="#ffe600"/><stop offset="0.8584" stop-color="#ffd400"/><stop offset="0.9006" stop-color="#ffdf00"/><stop offset="0.9247" stop-color="#ffda00"/><stop offset="0.9548" stop-color="#ffea00"/><stop offset="0.997" stop-color="#ffe200"/></linearGradient>
<linearGradient id="r82" gradientUnits="userSpaceOnUse" x1="144" x2="310" y1="0" y2="0"><stop offset="0.003012" stop-color="#ffffff"/><stop offset="0.03313" stop-color="#ffffff"/><stop offset="0.0512" stop-color="#ffffec"/><stop offset="0.08735" stop-color="#ffffe2"/><stop offset="0.1295" stop-color="#ffffc0"/><stop offset="0.1958" stop-color="#ffffbd"/><stop offset="0.244" stop-color="#ffffac"/><stop offset="0.2922" stop-color="#ffffae"/><stop offset="0.3464" stop-color="#ffff72"/><stop offset="0.3825" stop-color="#ffff59"/><stop offset="0.5753" stop-color="#ffff3c"/><stop offset="0.6295" stop-color="#ffff25"/><stop offset="0.6777" stop-color="#ffff00"/><stop offset="0.7259" stop-color="#ffd500"/><stop offset="0.756" stop-color="#ffd500"/><stop offset="0.7861" stop-color="#ffbd00"/><stop offset="0.8223" stop-color="#ffd800"/><stop offset="0.8584" stop-color="#ffc400"/><stop offset="0.8825" stop-color="#ffcc00"/><stop offset="0.9006" stop-color="#ffdd00"/><stop offset="0.9247" stop-color="#ffdb00"/><stop offset="0.9488" stop-color="#ffe900"/><stop offset="0.997" stop-color="#ffde00"/></linearGradient>
<linearGradient id="r83" gradientUnits="userSpaceOnUse" x1="144" x2="310" y1="0" y2="0"><stop offset="0.003012" stop-color="#ffffff"/><stop offset="0.02711" stop-color="#ffffff"/><stop offset="0.0512" stop-color="#ffffe1"/><stop offset="0.08735" stop-color="#ffffda"/><stop offset="0.1175" stop-color="#ffffbd"/><stop offset="0.1837" stop-color="#ffffc1"/><stop offset="0.238" stop-color="#ffffaa"/><stop offset="0.2922" stop-color="#ffffa5"/><stop offset="0.3584" stop-color="#ffff67"/><stop offset="0.3886" stop-color="#ffff55"/><stop offset="0.5753" stop-color="#ffff3f"/><stop offset="0.6355" stop-color="#ffff23"/><stop offset="0.6777" stop-color="#ffff01"/><stop offset="0.7078" stop-color="#ffe900"/><stop offset="0.7319" stop-color="#ffcd00"/><stop offset="0.75" stop-color="#ffc800"/><stop offset="0.7861" stop-color="#ffa600"/><stop offset="0.8223" stop-color="#ffc300"/><stop offset="0.8343" stop-color="#ffc000"/><stop offset="0.8524" stop-color="#ffae00"/><stop offset="0.8645" stop-color="#ffaf00"/><stop offset="0.8825" stop-color="#ffbe00"/><stop offset="0.9006" stop-color="#ffd800"/><stop offset="0.9488" stop-color="#ffea00"/><stop offset="0.997" stop-color="#ffda00"/></linearGradient>
<linearGradient id="r84" gradientUnits="userSpaceOnUse" x1="144" x2="310" y1="0" y2="0"><stop offset="0.003012" stop-color="#ffffff"/><stop offset="0.02711" stop-color="#fffff9"/><stop offset="0.0512" stop-color="#ffffcf"/><stop offset="0.06325" stop-color="#ffffc7"/><stop offset="0.08735" stop-color="#ffffd0"/><stop offset="0.1175" stop-color="#ffffb4"/><stop offset="0.1898" stop-color="#ffffc2"/><stop offset="0.238" stop-color="#ffffa2"/><stop offset="0.2982" stop-color="#ffff98"/><stop offset="0.3645" stop-color="#ffff61"/><stop offset="0.3886" stop-color="#ffff54"/><stop offset="0.4428" stop-color="#ffff48"/><stop offset="0.5753" stop-color="#ffff42"/><stop offset="0.6355" stop-color="#ffff24"/><stop offset="0.6777" stop-color="#ffff01"/><stop offset="0.7078" stop-color="#ffe800"/><stop offset="0.7319" stop-color="#ffc400"/><stop offset="0.7741" stop-color="#ff9500"/><stop offset="0.7861" stop-color="#ff8f00"/><stop offset="0.8223" stop-color="#ffa900"/><stop offset="0.8524" stop-color="#ff9500"/><stop offset="0.8645" stop-color="#ff9700"/><stop offset="0.9006" stop-color="#ffcb00"/><stop offset="0.9428" stop-color="#ffe800"/><stop offset="0.9669" stop-color="#ffe700"/><stop offset="0.997" stop-color="#ffd600"/></linearGradient>
<linearGradient id="r85" gradientUnits="userSpaceOnUse" x1="144" x2="310" y1="0" y2="0"><stop offset="0.003012" stop-color="#fffffe"/><stop offset="0.02108" stop-color="#fffff9"/><stop offset="0.0512" stop-color="#ffffbd"/><stop offset="0.06325" stop-color="#ffffb3"/><stop offset="0.09337" stop-color="#ffffc2"/><stop offset="0.1114" stop-color="#ffffab"/><stop offset="0.1175" stop-color="#ffffaa"/><stop offset="0.1596" stop-color="#ffffc2"/><stop offset="0.1898" stop-color="#ffffc3"/><stop offset="0.2319" stop-color="#ffff9c"/><stop offset="0.3102" stop-color="#ffff8d"/><stop offset="0.3886" stop-color="#ffff52"/><stop offset="0.4428" stop-color="#ffff46"/><stop offset="0.5813" stop-color="#ffff43"/><stop offset="0.6355" stop-color="#ffff25"/><stop offset="0.6777" stop-color="#fffe00"/><stop offset="0.7139" stop-color="#ffda00"/><stop offset="0.7319" stop-color="#ffb700"/><stop offset="0.7681" stop-color="#ff8700"/><stop offset="0.7861" stop-color="#ff7c00"/><stop offset="0.8223" stop-color="#ff9100"/><stop offset="0.8584" stop-color="#ff7f00"/><stop offset="0.8825" stop-color="#ff9900"/><stop offset="0.9247" stop-color="#ffd800"/><stop offset="0.9488" stop-color="#ffe800"/><stop offset="0.9729" stop-color="#ffe300"/><stop offset="0.997" stop-color="#ffd300"/></linearGradient>
<linearGradient id="r86" gradientUnits="userSpaceOnUse" x1="144" x2="310" y1="0" y2="0"><stop offset="0.003012" stop-color="#fffffd"/><stop offset="0.02108" stop-color="#fffff3"/><stop offset="0.0512" stop-color="#ffffad"/><stop offset="0.06325" stop-color="#ffffa3"/><stop offset="0.08735" stop-color="#ffffb4"/><stop offset="0.1175" stop-color="#ffffa0"/><stop offset="0.1476" stop-color="#ffffbe"/><stop offset="0.1898" stop-color="#ffffc5"/><stop offset="0.238" stop-color="#ffff92"/><stop offset="0.3102" stop-color="#ffff89"/><stop offset="0.3645" stop-color="#ffff5d"/><stop offset="0.3946" stop-color="#ffff4e"/><stop offset="0.4488" stop-color="#ffff43"/><stop offset="0.5813" stop-color="#ffff46"/><stop offset="0.6717" stop-color="#ffff02"/><stop offset="0.6777" stop-color="#fffc00"/><stop offset="0.7078" stop-color="#ffd600"/><stop offset="0.7319" stop-color="#ffa600"/><stop offset="0.762" stop-color="#ff7e00"/><stop offset="0.7861" stop-color="#ff6c00"/><stop offset="0.8223" stop-color="#ff7b00"/><stop offset="0.8584" stop-color="#ff6c00"/><stop offset="0.8886" stop-color="#ff8e00"/><stop offset="0.9307" stop-color="#ffd000"/><stop offset="0.9488" stop-color="#ffe200"/><stop offset="0.9729" stop-color="#ffe200"/><stop offset="0.997" stop-color="#ffd400"/></linearGradient>
<linearGradient id="r87" gradientUnits="userSpaceOnUse" x1="144" x2="310" y1="0" y2="0"><stop offset="0.003012" stop-color="#fffffb"/><stop offset="0.02108" stop-color="#ffffed"/><stop offset="0.04518" stop-color="#ffffaf"/><stop offset="0.06325" stop-color="#ffff99"/><stop offset="0.08735" stop-color="#ffffa6"/><stop offset="0.1114" stop-color="#ffff98"/><stop offset="0.1476" stop-color="#ffffbf"/><stop offset="0.1837" stop-color="#ffffc9"/><stop offset="0.2018" stop-color="#ffffbe"/><stop offset="0.2259" stop-color="#ffff98"/><stop offset="0.238" stop-color="#ffff8e"/><stop offset="0.3102" stop-color="#ffff84"/><stop offset="0.3886" stop-color="#ffff4f"/><stop offset="0.4548" stop-color="#ffff40"/><stop offset="0.5813" stop-color="#ffff48"/><stop offset="0.6355" stop-color="#ffff20"/><stop offset="0.6657" stop-color="#ffff01"/><stop offset="0.6898" stop-color="#ffe700"/><stop offset="0.7319" stop-color="#ff9400"/><stop offset="0.7681" stop-color="#ff7000"/><stop offset="0.7861" stop-color="#ff6200"/><stop offset="0.8223" stop-color="#ff6800"/><stop offset="0.8524" stop-color="#ff5d00"/><stop offset="0.8946" stop-color="#ff8500"/><stop offset="0.9488" stop-color="#ffd600"/><stop offset="0.9789" stop-color="#ffdf00"/><stop offset="0.997" stop-color="#ffd800"/></linearGradient>
<linearGradient id="r88" gradientUnits="userSpaceOnUse" x1="144" x2="310" y1="0" y2="0"><stop offset="0.003012" stop-color="#fffff8"/><stop offset="0.01506" stop-color="#fffff1"/><stop offset="0.04518" stop-color="#ffffa7"/><stop offset="0.06325" stop-color="#ffff93"/><stop offset="0.08735" stop-color="#ffff9c"/><stop offset="0.1114" stop-color="#ffff97"/><stop offset="0.1416" stop-color="#ffffbd"/><stop offset="0.1837" stop-color="#ffffca"/><stop offset="0.2018" stop-color="#ffffbe"/><stop offset="0.2259" stop-color="#ffff96"/><stop offset="0.238" stop-color="#ffff8c"/><stop offset="0.3102" stop-color="#ffff80"/><stop offset="0.3705" stop-color="#ffff56"/><stop offset="0.4187" stop-color="#ffff42"/><stop offset="0.4669" stop-color="#ffff3d"/><stop offset="0.5813" stop-color="#ffff4b"/><stop offset="0.5994" stop-color="#ffff3f"/><stop offset="0.6536" stop-color="#ffff03"/><stop offset="0.6596" stop-color="#fffd00"/><stop offset="0.6837" stop-color="#ffea00"/><stop offset="0.7199" stop-color="#ff9800"/><stop offset="0.738" stop-color="#ff7e00"/><stop offset="0.7681" stop-color="#ff7100"/><stop offset="0.7922" stop-color="#ff5c00"/><stop offset="0.8524" stop-color="#ff5300"/><stop offset="0.9127" stop-color="#ff8a00"/><stop offset="0.9548" stop-color="#ffc900"/><stop offset="0.9789" stop-color="#ffde00"/><stop offset="0.997" stop-color="#ffdc00"/></linearGradient>
<linearGradient id="r89" gradientUnits="userSpaceOnUse" x1="144" x2="310" y1="0" y2="0"><stop offset="0.003012" stop-color="#fffff5"/><stop offset="0.02108" stop-color="#ffffdf"/><stop offset="0.04518" stop-color="#ffffa2"/><stop offset="0.06325" stop-color="#ffff8f"/><stop offset="0.1054" stop-color="#ffff96"/><stop offset="0.1416" stop-color="#ffffc0"/><stop offset="0.1837" stop-color="#ffffcb"/><stop offset="0.1958" stop-color="#ffffc5"/><stop offset="0.2259" stop-color="#ffff94"/><stop offset="0.244" stop-color="#ffff86"/><stop offset="0.3102" stop-color="#ffff7c"/><stop offset="0.3705" stop-color="#ffff54"/><stop offset="0.4187" stop-color="#ffff3f"/><stop offset="0.4789" stop-color="#ffff3a"/><stop offset="0.5572" stop-color="#ffff4f"/><stop offset="0.5813" stop-color="#ffff4d"/><stop offset="0.5994" stop-color="#ffff3f"/><stop offset="0.6416" stop-color="#ffff07"/><stop offset="0.6476" stop-color="#fffe00"/><stop offset="0.6837" stop-color="#ffdf00"/><stop offset="0.7139" stop-color="#ff9400"/><stop offset="0.7319" stop-color="#ff7600"/><stop offset="0.7681" stop-color="#ff7500"/><stop offset="0.7982" stop-color="#ff5700"/><stop offset="0.8464" stop-color="#ff4a00"/><stop offset="0.9127" stop-color="#ff7b00"/><stop offset="0.9789" stop-color="#ffd900"/><stop offset="0.997" stop-color="#ffdf00"/></linearGradient>
<linearGradient id="r90" gradientUnits="userSpaceOnUse" x1="144" x2="310" y1="0" y2="0"><stop offset="0.003012" stop-color="#fffff3"/><stop offset="0.02108" stop-color="#ffffd9"/><stop offset="0.04518" stop-color="#ffff9e"/><stop offset="0.06325" stop-color="#ffff8d"/><stop offset="0.0994" stop-color="#ffff92"/><stop offset="0.1235" stop-color="#ffffb8"/><stop offset="0.1536" stop-color="#ffffc9"/><stop offset="0.1777" stop-color="#ffffcb"/><stop offset="0.1958" stop-color="#ffffc4"/><stop offset="0.2259" stop-color="#ffff93"/><stop offset="0.25" stop-color="#ffff7e"/><stop offset="0.3042" stop-color="#ffff7b"/><stop offset="0.3765" stop-color="#ffff4e"/><stop offset="0.4247" stop-color="#ffff3b"/><stop offset="0.491" stop-color="#ffff37"/><stop offset="0.5572" stop-color="#ffff50"/><stop offset="0.5813" stop-color="#ffff50"/><stop offset="0.5994" stop-color="#ffff3f"/><stop offset="0.6355" stop-color="#ffff03"/><stop offset="0.6416" stop-color="#fffa00"/><stop offset="0.6777" stop-color="#ffd800"/><stop offset="0.7078" stop-color="#ff9100"/><stop offset="0.7259" stop-color="#ff7400"/><stop offset="0.738" stop-color="#ff6f00"/><stop offset="0.7681" stop-color="#ff7600"/><stop offset="0.8163" stop-color="#ff4900"/><stop offset="0.8404" stop-color="#ff3f00"/><stop offset="0.8584" stop-color="#ff4600"/><stop offset="0.8886" stop-color="#ff6d00"/><stop offset="0.9187" stop-color="#ff7400"/><stop offset="0.9548" stop-color="#ff9f00"/><stop offset="0.9849" stop-color="#ffd600"/><stop offset="0.997" stop-color="#ffdf00"/></linearGradient>
<linearGradient id="r91" gradientUnits="userSpaceOnUse" x1="144" x2="310" y1="0" y2="0"><stop offset="0.003012" stop-color="#fffff2"/><stop offset="0.02108" stop-color="#ffffd8"/><stop offset="0.04518" stop-color="#ffff9b"/><stop offset="0.06325" stop-color="#ffff8b"/><stop offset="0.0994" stop-color="#ffff94"/><stop offset="0.1175" stop-color="#ffffb6"/><stop offset="0.1295" stop-color="#ffffc1"/><stop offset="0.1777" stop-color="#ffffca"/><stop offset="0.1958" stop-color="#ffffc2"/><stop offset="0.2199" stop-color="#ffff9a"/><stop offset="0.25" stop-color="#ffff79"/><stop offset="0.3042" stop-color="#ffff79"/><stop offset="0.3705" stop-color="#ffff4f"/><stop offset="0.4247" stop-color="#ffff38"/><stop offset="0.491" stop-color="#ffff33"/><stop offset="0.5633" stop-color="#ffff53"/><stop offset="0.5813" stop-color="#ffff53"/><stop offset="0.5994" stop-color="#ffff3f"/><stop offset="0.6295" stop-color="#ffff02"/><stop offset="0.6355" stop-color="#fff700"/><stop offset="0.6596" stop-color="#ffd100"/><stop offset="0.6777" stop-color="#ffc100"/><stop offset="0.7018" stop-color="#ff8d00"/><stop offset="0.7199" stop-color="#ff7400"/><stop offset="0.738" stop-color="#ff6c00"/><stop offset="0.7741" stop-color="#ff7100"/><stop offset="0.8223" stop-color="#ff3e00"/><stop offset="0.8404" stop-color="#ff3500"/><stop offset="0.8584" stop-color="#ff3d00"/><stop offset="0.8886" stop-color="#ff6a00"/><stop offset="0.9127" stop-color="#ff6700"/><stop offset="0.9548" stop-color="#ff8b00"/><stop offset="0.9669" stop-color="#ff9f00"/><stop offset="0.9849" stop-color="#ffcb00"/><stop offset="0.997" stop-color="#ffdc00"/></linearGradient>
<linearGradient id="r92" gradientUnits="userSpaceOnUse" x1="144" x2="310" y1="0" y2="0"><stop offset="0.003012" stop-color="#fffff2"/><stop offset="0.02108" stop-color="#ffffdc"/><stop offset="0.04518" stop-color="#ffff9b"/><stop offset="0.06325" stop-color="#ffff8a"/><stop offset="0.0994" stop-color="#ffff96"/><stop offset="0.1235" stop-color="#ffffbb"/><stop offset="0.1355" stop-color="#ffffc5"/><stop offset="0.1657" stop-color="#ffffc9"/><stop offset="0.1958" stop-color="#ffffbc"/><stop offset="0.25" stop-color="#ffff74"/><stop offset="0.3042" stop-color="#ffff77"/><stop offset="0.3705" stop-color="#ffff4c"/><stop offset="0.4307" stop-color="#ffff33"/><stop offset="0.491" stop-color="#ffff2f"/><stop offset="0.5633" stop-color="#ffff53"/><stop offset="0.5813" stop-color="#ffff55"/><stop offset="0.5994" stop-color="#ffff3e"/><stop offset="0.6235" stop-color="#ffff07"/><stop offset="0.6295" stop-color="#fff800"/><stop offset="0.6596" stop-color="#ffbc00"/><stop offset="0.6777" stop-color="#ffa900"/><stop offset="0.7078" stop-color="#ff7600"/><stop offset="0.7319" stop-color="#ff6a00"/><stop offset="0.7741" stop-color="#ff6d00"/><stop offset="0.8404" stop-color="#ff2a00"/><stop offset="0.8584" stop-color="#ff3400"/><stop offset="0.8886" stop-color="#ff6100"/><stop offset="0.9187" stop-color="#ff6400"/><stop offset="0.9608" stop-color="#ff8300"/><stop offset="0.997" stop-color="#ffd800"/></linearGradient>
<linearGradient id="r93" gradientUnits="userSpaceOnUse" x1="144" x2="310" y1="0" y2="0"><stop offset="0.003012" stop-color="#fffff5"/><stop offset="0.02108" stop-color="#ffffe6"/><stop offset="0.03313" stop-color="#ffffcb"/><stop offset="0.04518" stop-color="#ffff9e"/><stop offset="0.0512" stop-color="#ffff91"/><stop offset="0.06325" stop-color="#ffff88"/><stop offset="0.0994" stop-color="#ffff95"/><stop offset="0.1355" stop-color="#ffffc4"/><stop offset="0.1536" stop-color="#ffffc9"/><stop offset="0.1958" stop-color="#ffffb3"/><stop offset="0.25" stop-color="#ffff70"/><stop offset="0.2982" stop-color="#ffff79"/><stop offset="0.3645" stop-color="#ffff4d"/><stop offset="0.4367" stop-color="#ffff2e"/><stop offset="0.497" stop-color="#ffff2b"/><stop offset="0.5633" stop-color="#ffff52"/><stop offset="0.5813" stop-color="#ffff56"/><stop offset="0.5994" stop-color="#ffff3d"/><stop offset="0.6235" stop-color="#fffe00"/><stop offset="0.6536" stop-color="#ffb200"/><stop offset="0.7018" stop-color="#ff7000"/><stop offset="0.7139" stop-color="#ff6700"/><stop offset="0.7741" stop-color="#ff6500"/><stop offset="0.8404" stop-color="#ff2100"/><stop offset="0.8584" stop-color="#ff2b00"/><stop offset="0.8946" stop-color="#ff5d00"/><stop offset="0.9247" stop-color="#ff6200"/><stop offset="0.9608" stop-color="#ff7500"/><stop offset="0.9729" stop-color="#ff8d00"/><stop offset="0.997" stop-color="#ffd200"/></linearGradient>
<linearGradient id="r94" gradientUnits="userSpaceOnUse" x1="144" x2="310" y1="0" y2="0"><stop offset="0.003012" stop-color="#fffff9"/><stop offset="0.02711" stop-color="#ffffea"/><stop offset="0.03313" stop-color="#ffffdb"/><stop offset="0.04518" stop-color="#ffffa4"/><stop offset="0.0512" stop-color="#ffff92"/><stop offset="0.06325" stop-color="#ffff87"/><stop offset="0.0994" stop-color="#ffff92"/><stop offset="0.1355" stop-color="#ffffc2"/><stop offset="0.1536" stop-color="#ffffc8"/><stop offset="0.2018" stop-color="#ffffa5"/><stop offset="0.25" stop-color="#ffff6e"/><stop offset="0.2982" stop-color="#ffff79"/><stop offset="0.3645" stop-color="#ffff4a"/><stop offset="0.4428" stop-color="#ffff29"/><stop offset="0.497" stop-color="#ffff26"/><stop offset="0.5753" stop-color="#ffff55"/><stop offset="0.5934" stop-color="#ffff46"/><stop offset="0.6175" stop-color="#ffff0d"/><stop offset="0.6235" stop-color="#fffb00"/><stop offset="0.6295" stop-color="#ffed00"/><stop offset="0.6536" stop-color="#ffa500"/><stop offset="0.7018" stop-color="#ff6600"/><stop offset="0.7741" stop-color="#ff5b00"/><stop offset="0.8404" stop-color="#ff1700"/><stop offset="0.8584" stop-color="#ff2400"/><stop offset="0.8946" stop-color="#ff5500"/><stop offset="0.9608" stop-color="#ff6b00"/><stop offset="0.9729" stop-color="#ff8100"/><stop offset="0.997" stop-color="#ffc800"/></linearGradient>
<linearGradient id="r95" gradientUnits="userSpaceOnUse" x1="144" x2="310" y1="0" y2="0"><stop offset="0.003012" stop-color="#fffffe"/><stop offset="0.02711" stop-color="#fffff7"/><stop offset="0.03313" stop-color="#ffffea"/><stop offset="0.03916" stop-color="#ffffd0"/><stop offset="0.04518" stop-color="#ffffa9"/><stop offset="0.0512" stop-color="#ffff94"/><stop offset="0.06325" stop-color="#ffff87"/><stop offset="0.1054" stop-color="#ffff92"/><stop offset="0.1355" stop-color="#ffffbd"/><stop offset="0.1476" stop-color="#ffffc6"/><stop offset="0.1596" stop-color="#ffffc1"/><stop offset="0.1837" stop-color="#ffffa5"/><stop offset="0.2078" stop-color="#ffff99"/><stop offset="0.25" stop-color="#ffff6f"/><stop offset="0.2922" stop-color="#ffff7c"/><stop offset="0.3705" stop-color="#ffff44"/><stop offset="0.4548" stop-color="#ffff23"/><stop offset="0.497" stop-color="#ffff21"/><stop offset="0.5753" stop-color="#ffff51"/><stop offset="0.5934" stop-color="#ffff42"/><stop offset="0.6175" stop-color="#ffff0b"/><stop offset="0.6235" stop-color="#fffa00"/><stop offset="0.6295" stop-color="#ffec00"/><stop offset="0.6536" stop-color="#ffa400"/><stop offset="0.7018" stop-color="#ff6100"/><stop offset="0.738" stop-color="#ff6200"/><stop offset="0.7681" stop-color="#ff5600"/><stop offset="0.8404" stop-color="#ff0f00"/><stop offset="0.8524" stop-color="#ff1700"/><stop offset="0.9006" stop-color="#ff5500"/><stop offset="0.9608" stop-color="#ff6500"/><stop offset="0.9729" stop-color="#ff7700"/><stop offset="0.997" stop-color="#ffbb00"/></linearGradient>
<linearGradient id="r96" gradientUnits="userSpaceOnUse" x1="144" x2="310" y1="0" y2="0"><stop offset="0.003012" stop-color="#ffffff"/><stop offset="0.02711" stop-color="#fffffc"/><stop offset="0.03313" stop-color="#ffffef"/><stop offset="0.03916" stop-color="#ffffd5"/><stop offset="0.04518" stop-color="#ffffa9"/><stop offset="0.0512" stop-color="#ffff94"/><stop offset="0.06325" stop-color="#ffff88"/><stop offset="0.1054" stop-color="#ffff8f"/><stop offset="0.1416" stop-color="#ffffbe"/><stop offset="0.1536" stop-color="#ffffc1"/><stop offset="0.1837" stop-color="#ffff9c"/><stop offset="0.2078" stop-color="#ffff95"/><stop offset="0.25" stop-color="#ffff71"/><stop offset="0.2922" stop-color="#ffff7d"/><stop offset="0.3645" stop-color="#ffff45"/><stop offset="0.4608" stop-color="#ffff1e"/><stop offset="0.497" stop-color="#ffff1b"/><stop offset="0.5512" stop-color="#ffff43"/><stop offset="0.5753" stop-color="#ffff4b"/><stop offset="0.5934" stop-color="#ffff3d"/><stop offset="0.6175" stop-color="#ffff0a"/><stop offset="0.6235" stop-color="#fffb00"/><stop offset="0.6295" stop-color="#ffef00"/><stop offset="0.6536" stop-color="#ffb100"/><stop offset="0.7018" stop-color="#ff6400"/><stop offset="0.7139" stop-color="#ff5c00"/><stop offset="0.738" stop-color="#ff6100"/><stop offset="0.756" stop-color="#ff5b00"/><stop offset="0.7861" stop-color="#ff4100"/><stop offset="0.8283" stop-color="#ff0e00"/><stop offset="0.8404" stop-color="#ff0800"/><stop offset="0.9006" stop-color="#ff5100"/><stop offset="0.9488" stop-color="#ff5b00"/><stop offset="0.9669" stop-color="#ff6700"/><stop offset="0.9789" stop-color="#ff7b00"/><stop offset="0.997" stop-color="#ffac00"/></linearGradient>
<linearGradient id="r97" gradientUnits="userSpaceOnUse" x1="144" x2="310" y1="0" y2="0"><stop offset="0.003012" stop-color="#ffffff"/><stop offset="0.02711" stop-color="#fffff9"/><stop offset="0.03313" stop-color="#ffffea"/><stop offset="0.04518" stop-color="#ffffa6"/><stop offset="0.0512" stop-color="#ffff95"/><stop offset="0.06325" stop-color="#ffff89"/><stop offset="0.1054" stop-color="#ffff8d"/><stop offset="0.1416" stop-color="#ffffb7"/><stop offset="0.1536" stop-color="#ffffba"/><stop offset="0.1837" stop-color="#ffff95"/><stop offset="0.2078" stop-color="#ffff91"/><stop offset="0.244" stop-color="#ffff74"/><stop offset="0.256" stop-color="#ffff71"/><stop offset="0.2922" stop-color="#ffff7d"/><stop offset="0.3645" stop-color="#ffff43"/><stop offset="0.4789" stop-color="#ffff16"/><stop offset="0.497" stop-color="#ffff16"/><stop offset="0.5452" stop-color="#ffff3b"/><stop offset="0.5753" stop-color="#ffff46"/><stop offset="0.5994" stop-color="#ffff30"/><stop offset="0.6235" stop-color="#fffd00"/><stop offset="0.7078" stop-color="#ff6400"/><stop offset="0.756" stop-color="#ff5c00"/><stop offset="0.7922" stop-color="#ff3a00"/><stop offset="0.8343" stop-color="#ff0400"/><stop offset="0.8464" stop-color="#ff0800"/><stop offset="0.8765" stop-color="#ff3400"/><stop offset="0.9006" stop-color="#ff4d00"/><stop offset="0.9669" stop-color="#ff6400"/><stop offset="0.9789" stop-color="#ff7400"/><stop offset="0.997" stop-color="#ff9d00"/></linearGradient>
<linearGradient id="r98" gradientUnits="userSpaceOnUse" x1="144" x2="310" y1="0" y2="0"><stop offset="0.003012" stop-color="#ffffff"/><stop offset="0.02108" stop-color="#ffffff"/><stop offset="0.02711" stop-color="#fffff3"/><stop offset="0.03313" stop-color="#ffffe3"/><stop offset="0.04518" stop-color="#ffffa3"/><stop offset="0.0512" stop-color="#ffff96"/><stop offset="0.06325" stop-color="#ffff8b"/><stop offset="0.0994" stop-color="#ffff89"/><stop offset="0.1175" stop-color="#ffff94"/><stop offset="0.1416" stop-color="#ffffaf"/><stop offset="0.1536" stop-color="#ffffb1"/><stop offset="0.1837" stop-color="#ffff91"/><stop offset="0.2139" stop-color="#ffff8a"/><stop offset="0.25" stop-color="#ffff72"/><stop offset="0.2922" stop-color="#ffff7a"/><stop offset="0.3584" stop-color="#ffff44"/><stop offset="0.4789" stop-color="#ffff13"/><stop offset="0.497" stop-color="#ffff13"/><stop offset="0.5452" stop-color="#ffff37"/><stop offset="0.5753" stop-color="#ffff41"/><stop offset="0.5934" stop-color="#ffff36"/><stop offset="0.6235" stop-color="#ffff03"/><stop offset="0.6295" stop-color="#fffa00"/><stop offset="0.6657" stop-color="#ffca00"/><stop offset="0.7018" stop-color="#ff7800"/><stop offset="0.7139" stop-color="#ff6400"/><stop offset="0.756" stop-color="#ff5f00"/><stop offset="0.7982" stop-color="#ff3600"/><stop offset="0.8283" stop-color="#ff0800"/><stop offset="0.8404" stop-color="#ff0100"/><stop offset="0.8825" stop-color="#ff3a00"/><stop offset="0.9066" stop-color="#ff4f00"/><stop offset="0.9548" stop-color="#ff5b00"/><stop offset="0.9729" stop-color="#ff6700"/><stop offset="0.997" stop-color="#ff9000"/></linearGradient>
<linearGradient id="r99" gradientUnits="userSpaceOnUse" x1="144" x2="310" y1="0" y2="0"><stop offset="0.003012" stop-color="#ffffff"/><stop offset="0.02108" stop-color="#fffffe"/><stop offset="0.03313" stop-color="#ffffda"/><stop offset="0.04518" stop-color="#ffffa3"/><stop offset="0.06325" stop-color="#ffff8d"/><stop offset="0.0994" stop-color="#ffff89"/><stop offset="0.1416" stop-color="#ffffa8"/><stop offset="0.1536" stop-color="#ffffa9"/><stop offset="0.1837" stop-color="#ffff8d"/><stop offset="0.2139" stop-color="#ffff86"/><stop offset="0.25" stop-color="#ffff70"/><stop offset="0.2922" stop-color="#ffff74"/><stop offset="0.3584" stop-color="#ffff41"/><stop offset="0.4729" stop-color="#ffff13"/><stop offset="0.497" stop-color="#ffff12"/><stop offset="0.5452" stop-color="#ffff34"/><stop offset="0.5753" stop-color="#ffff3c"/><stop offset="0.5994" stop-color="#ffff2d"/><stop offset="0.6295" stop-color="#ffff01"/><stop offset="0.6355" stop-color="#fffa00"/><stop offset="0.6717" stop-color="#ffd600"/><stop offset="0.6837" stop-color="#ffb900"/><stop offset="0.7018" stop-color="#ff8100"/><stop offset="0.7139" stop-color="#ff6800"/><stop offset="0.756" stop-color="#ff6000"/><stop offset="0.7982" stop-color="#ff3b00"/><stop offset="0.8283" stop-color="#ff0a00"/><stop offset="0.8404" stop-color="#ff0000"/><stop offset="0.8584" stop-color="#ff1200"/><stop offset="0.8825" stop-color="#ff3700"/><stop offset="0.9127" stop-color="#ff5400"/><stop offset="0.9669" stop-color="#ff6100"/><stop offset="0.997" stop-color="#ff8800"/></linearGradient>
<linearGradient id="r100" gradientUnits="userSpaceOnUse" x1="144" x2="310" y1="0" y2="0"><stop offset="0.003012" stop-color="#ffffff"/><stop offset="0.02108" stop-color="#ffffff"/><stop offset="0.02711" stop-color="#fffff2"/><stop offset="0.04518" stop-color="#ffffa7"/><stop offset="0.06928" stop-color="#ffff8b"/><stop offset="0.0994" stop-color="#ffff88"/><stop offset="0.1416" stop-color="#ffffa3"/><stop offset="0.1536" stop-color="#ffffa2"/><stop offset="0.1837" stop-color="#ffff8b"/><stop offset="0.244" stop-color="#ffff6f"/><stop offset="0.2922" stop-color="#ffff6d"/><stop offset="0.3584" stop-color="#ffff3f"/><stop offset="0.4669" stop-color="#ffff13"/><stop offset="0.497" stop-color="#ffff12"/><stop offset="0.5452" stop-color="#ffff30"/><stop offset="0.5753" stop-color="#ffff36"/><stop offset="0.5994" stop-color="#ffff2b"/><stop offset="0.6355" stop-color="#ffff04"/><stop offset="0.6416" stop-color="#fffd00"/><stop offset="0.6717" stop-color="#ffe600"/><stop offset="0.6837" stop-color="#ffc800"/><stop offset="0.7018" stop-color="#ff8700"/><stop offset="0.7139" stop-color="#ff6b00"/><stop offset="0.7259" stop-color="#ff6200"/><stop offset="0.75" stop-color="#ff6400"/><stop offset="0.7741" stop-color="#ff4a00"/><stop offset="0.7982" stop-color="#ff3e00"/><stop offset="0.8283" stop-color="#ff0d00"/><stop offset="0.8404" stop-color="#ff0200"/><stop offset="0.8584" stop-color="#ff0c00"/><stop offset="0.8886" stop-color="#ff3b00"/><stop offset="0.9127" stop-color="#ff5500"/><stop offset="0.9608" stop-color="#ff5d00"/><stop offset="0.997" stop-color="#ff8500"/></linearGradient>
<linearGradient id="r101" gradientUnits="userSpaceOnUse" x1="144" x2="310" y1="0" y2="0"><stop offset="0.003012" stop-color="#ffffff"/><stop offset="0.02108" stop-color="#ffffff"/><stop offset="0.02711" stop-color="#fffff5"/><stop offset="0.03313" stop-color="#ffffe3"/><stop offset="0.04518" stop-color="#ffffaf"/><stop offset="0.05723" stop-color="#ffff98"/><stop offset="0.06928" stop-color="#ffff8d"/><stop offset="0.0994" stop-color="#ffff89"/><stop offset="0.1355" stop-color="#ffff9d"/><stop offset="0.1536" stop-color="#ffff9e"/><stop offset="0.238" stop-color="#ffff6e"/><stop offset="0.2922" stop-color="#ffff65"/><stop offset="0.3584" stop-color="#ffff3c"/><stop offset="0.4608" stop-color="#ffff12"/><stop offset="0.491" stop-color="#ffff10"/><stop offset="0.5452" stop-color="#ffff2c"/><stop offset="0.5753" stop-color="#ffff31"/><stop offset="0.5994" stop-color="#ffff2a"/><stop offset="0.6536" stop-color="#fffd00"/><stop offset="0.6657" stop-color="#fff500"/><stop offset="0.6777" stop-color="#ffe100"/><stop offset="0.7018" stop-color="#ff8800"/><stop offset="0.7139" stop-color="#ff6b00"/><stop offset="0.7259" stop-color="#ff6200"/><stop offset="0.75" stop-color="#ff6300"/><stop offset="0.7801" stop-color="#ff4400"/><stop offset="0.7982" stop-color="#ff3f00"/><stop offset="0.8102" stop-color="#ff3200"/><stop offset="0.8283" stop-color="#ff1100"/><stop offset="0.8404" stop-color="#ff0600"/><stop offset="0.8645" stop-color="#ff0c00"/><stop offset="0.8886" stop-color="#ff3800"/><stop offset="0.9127" stop-color="#ff5600"/><stop offset="0.9608" stop-color="#ff5e00"/><stop offset="0.997" stop-color="#ff8400"/></linearGradient>
<linearGradient id="r102" gradientUnits="userSpaceOnUse" x1="144" x2="310" y1="0" y2="0"><stop offset="0.003012" stop-color="#ffffff"/><stop offset="0.02711" stop-color="#fffff9"/><stop offset="0.03313" stop-color="#ffffea"/><stop offset="0.0512" stop-color="#ffffa7"/><stop offset="0.0753" stop-color="#ffff8d"/><stop offset="0.0994" stop-color="#ffff89"/><stop offset="0.1355" stop-color="#ffff9b"/><stop offset="0.1536" stop-color="#ffff9b"/><stop offset="0.238" stop-color="#ffff69"/><stop offset="0.2982" stop-color="#ffff5b"/><stop offset="0.3886" stop-color="#ffff2a"/><stop offset="0.4608" stop-color="#ffff11"/><stop offset="0.491" stop-color="#ffff0f"/><stop offset="0.5392" stop-color="#ffff26"/><stop offset="0.5753" stop-color="#ffff2c"/><stop offset="0.6114" stop-color="#ffff22"/><stop offset="0.6596" stop-color="#fffd00"/><stop offset="0.6777" stop-color="#ffe000"/><stop offset="0.7018" stop-color="#ff8700"/><stop offset="0.7139" stop-color="#ff6b00"/><stop offset="0.7259" stop-color="#ff6200"/><stop offset="0.756" stop-color="#ff5e00"/><stop offset="0.7801" stop-color="#ff4200"/><stop offset="0.8042" stop-color="#ff3c00"/><stop offset="0.8343" stop-color="#ff0e00"/><stop offset="0.8584" stop-color="#ff0700"/><stop offset="0.8705" stop-color="#ff0f00"/><stop offset="0.8946" stop-color="#ff3f00"/><stop offset="0.9127" stop-color="#ff5400"/><stop offset="0.9548" stop-color="#ff5d00"/><stop offset="0.997" stop-color="#ff8300"/></linearGradient>
<linearGradient id="r103" gradientUnits="userSpaceOnUse" x1="144" x2="310" y1="0" y2="0"><stop offset="0.003012" stop-color="#ffffff"/><stop offset="0.02711" stop-color="#fffffb"/><stop offset="0.05723" stop-color="#ffffa3"/><stop offset="0.0753" stop-color="#ffff8f"/><stop offset="0.1054" stop-color="#ffff8a"/><stop offset="0.1355" stop-color="#ffff99"/><stop offset="0.1536" stop-color="#ffff99"/><stop offset="0.238" stop-color="#ffff64"/><stop offset="0.3042" stop-color="#ffff52"/><stop offset="0.3946" stop-color="#ffff25"/><stop offset="0.4608" stop-color="#ffff0f"/><stop offset="0.491" stop-color="#ffff0e"/><stop offset="0.5392" stop-color="#ffff23"/><stop offset="0.5753" stop-color="#ffff26"/><stop offset="0.6175" stop-color="#ffff1d"/><stop offset="0.6596" stop-color="#fffe00"/><stop offset="0.6717" stop-color="#ffea00"/><stop offset="0.6958" stop-color="#ff9600"/><stop offset="0.7139" stop-color="#ff6c00"/><stop offset="0.7259" stop-color="#ff6200"/><stop offset="0.756" stop-color="#ff5e00"/><stop offset="0.7801" stop-color="#ff4400"/><stop offset="0.8042" stop-color="#ff3e00"/><stop offset="0.8343" stop-color="#ff1300"/><stop offset="0.8645" stop-color="#ff0a00"/><stop offset="0.8765" stop-color="#ff1700"/><stop offset="0.8946" stop-color="#ff3c00"/><stop offset="0.9127" stop-color="#ff5200"/><stop offset="0.9548" stop-color="#ff5f00"/><stop offset="0.997" stop-color="#ff8200"/></linearGradient>
<linearGradient id="r104" gradientUnits="userSpaceOnUse" x1="144" x2="310" y1="0" y2="0"><stop offset="0.003012" stop-color="#ffffff"/><stop offset="0.02711" stop-color="#fffffd"/><stop offset="0.05723" stop-color="#ffffaa"/><stop offset="0.08133" stop-color="#ffff8f"/><stop offset="0.1054" stop-color="#ffff8a"/><stop offset="0.1355" stop-color="#ffff98"/><stop offset="0.1536" stop-color="#ffff98"/><stop offset="0.244" stop-color="#ffff5b"/><stop offset="0.3042" stop-color="#ffff4b"/><stop offset="0.3946" stop-color="#ffff22"/><stop offset="0.4608" stop-color="#ffff0d"/><stop offset="0.491" stop-color="#ffff0c"/><stop offset="0.5572" stop-color="#ffff21"/><stop offset="0.6175" stop-color="#ffff1a"/><stop offset="0.6536" stop-color="#ffff04"/><stop offset="0.6596" stop-color="#fffc00"/><stop offset="0.6717" stop-color="#ffe500"/><stop offset="0.6958" stop-color="#ff8f00"/><stop offset="0.7139" stop-color="#ff6c00"/><stop offset="0.7259" stop-color="#ff6300"/><stop offset="0.756" stop-color="#ff5e00"/><stop offset="0.7801" stop-color="#ff4700"/><stop offset="0.8042" stop-color="#ff4100"/><stop offset="0.8343" stop-color="#ff1a00"/><stop offset="0.8645" stop-color="#ff0e00"/><stop offset="0.8765" stop-color="#ff1600"/><stop offset="0.9006" stop-color="#ff4300"/><stop offset="0.9127" stop-color="#ff5100"/><stop offset="0.9548" stop-color="#ff6100"/><stop offset="0.997" stop-color="#ff8100"/></linearGradient>
<linearGradient id="r105" gradientUnits="userSpaceOnUse" x1="144" x2="310" y1="0" y2="0"><stop offset="0.003012" stop-color="#ffffff"/><stop offset="0.02711" stop-color="#fffffc"/><stop offset="0.06325" stop-color="#ffffa8"/><stop offset="0.08735" stop-color="#ffff8f"/><stop offset="0.1054" stop-color="#ffff8b"/><stop offset="0.1476" stop-color="#ffff98"/><stop offset="0.244" stop-color="#ffff54"/><stop offset="0.4608" stop-color="#ffff0c"/><stop offset="0.491" stop-color="#ffff0a"/><stop offset="0.5512" stop-color="#ffff1b"/><stop offset="0.6175" stop-color="#ffff15"/><stop offset="0.6536" stop-color="#ffff00"/><stop offset="0.6717" stop-color="#ffde00"/><stop offset="0.6958" stop-color="#ff8900"/><stop offset="0.7139" stop-color="#ff6c00"/><stop offset="0.8042" stop-color="#ff4400"/><stop offset="0.8343" stop-color="#ff2000"/><stop offset="0.8645" stop-color="#ff1500"/><stop offset="0.8765" stop-color="#ff1800"/><stop offset="0.9187" stop-color="#ff5800"/><stop offset="0.9548" stop-color="#ff6500"/><stop offset="0.997" stop-color="#ff8000"/></linearGradient>
<linearGradient id="r106" gradientUnits="userSpaceOnUse" x1="144" x2="310" y1="0" y2="0"><stop offset="0.003012" stop-color="#fffffe"/><stop offset="0.02108" stop-color="#ffffff"/><stop offset="0.06928" stop-color="#ffffa7"/><stop offset="0.09337" stop-color="#ffff8e"/><stop offset="0.1476" stop-color="#ffff95"/><stop offset="0.244" stop-color="#ffff4d"/><stop offset="0.4669" stop-color="#ffff08"/><stop offset="0.5452" stop-color="#ffff16"/><stop offset="0.6114" stop-color="#ffff0f"/><stop offset="0.6416" stop-color="#ffff01"/><stop offset="0.6476" stop-color="#fffd00"/><stop offset="0.6536" stop-color="#fff900"/><stop offset="0.6657" stop-color="#ffe700"/><stop offset="0.6898" stop-color="#ff9300"/><stop offset="0.7078" stop-color="#ff7000"/><stop offset="0.8042" stop-color="#ff4400"/><stop offset="0.8343" stop-color="#ff2600"/><stop offset="0.8705" stop-color="#ff1c00"/><stop offset="0.8886" stop-color="#ff2a00"/><stop offset="0.9187" stop-color="#ff5d00"/><stop offset="0.9729" stop-color="#ff6e00"/><stop offset="0.997" stop-color="#ff7f00"/></linearGradient>
<linearGradient id="r107" gradientUnits="userSpaceOnUse" x1="144" x2="310" y1="0" y2="0"><stop offset="0.003012" stop-color="#fffff4"/><stop offset="0.01506" stop-color="#fffff8"/><stop offset="0.02711" stop-color="#ffffee"/><stop offset="0.08133" stop-color="#ffff9a"/><stop offset="0.09337" stop-color="#ffff90"/><stop offset="0.1476" stop-color="#ffff92"/><stop offset="0.244" stop-color="#ffff46"/><stop offset="0.4066" stop-color="#ffff14"/><stop offset="0.4789" stop-color="#ffff04"/><stop offset="0.5331" stop-color="#ffff11"/><stop offset="0.6235" stop-color="#ffff01"/><stop offset="0.6295" stop-color="#fffd00"/><stop offset="0.6596" stop-color="#ffe900"/><stop offset="0.6717" stop-color="#ffca00"/><stop offset="0.6898" stop-color="#ff8b00"/><stop offset="0.7018" stop-color="#ff7200"/><stop offset="0.756" stop-color="#ff5e00"/><stop offset="0.8343" stop-color="#ff2b00"/><stop offset="0.8705" stop-color="#ff2400"/><stop offset="0.8886" stop-color="#ff2c00"/><stop offset="0.9187" stop-color="#ff6200"/><stop offset="0.9729" stop-color="#ff6f00"/><stop offset="0.997" stop-color="#ff7e00"/></linearGradient>
<linearGradient id="r108" gradientUnits="userSpaceOnUse" x1="144" x2="310" y1="0" y2="0"><stop offset="0.003012" stop-color="#ffffe8"/><stop offset="0.02711" stop-color="#ffffe3"/><stop offset="0.05723" stop-color="#ffffc4"/><stop offset="0.08133" stop-color="#ffff9c"/><stop offset="0.09337" stop-color="#ffff91"/><stop offset="0.1476" stop-color="#ffff8d"/><stop offset="0.244" stop-color="#ffff3f"/><stop offset="0.4066" stop-color="#ffff11"/><stop offset="0.4789" stop-color="#ffff00"/><stop offset="0.5331" stop-color="#ffff0c"/><stop offset="0.5753" stop-color="#ffff00"/><stop offset="0.6114" stop-color="#fffc00"/><stop offset="0.6596" stop-color="#ffda00"/><stop offset="0.6898" stop-color="#ff8000"/><stop offset="0.7018" stop-color="#ff6c00"/><stop offset="0.756" stop-color="#ff5f00"/><stop offset="0.7861" stop-color="#ff4400"/><stop offset="0.8404" stop-color="#ff2c00"/><stop offset="0.8825" stop-color="#ff2b00"/><stop offset="0.9187" stop-color="#ff6500"/><stop offset="0.9729" stop-color="#ff6f00"/><stop offset="0.997" stop-color="#ff7e00"/></linearGradient>
<linearGradient id="r109" gradientUnits="userSpaceOnUse" x1="144" x2="310" y1="0" y2="0"><stop offset="0.003012" stop-color="#ffffdc"/><stop offset="0.03313" stop-color="#ffffd2"/><stop offset="0.06325" stop-color="#ffffb8"/><stop offset="0.09337" stop-color="#ffff91"/><stop offset="0.1536" stop-color="#ffff84"/><stop offset="0.25" stop-color="#ffff34"/><stop offset="0.4006" stop-color="#ffff0e"/><stop offset="0.4729" stop-color="#fffe00"/><stop offset="0.5271" stop-color="#ffff07"/><stop offset="0.5512" stop-color="#ffff02"/><stop offset="0.5572" stop-color="#fffe00"/><stop offset="0.6054" stop-color="#fff500"/><stop offset="0.6235" stop-color="#ffed00"/><stop offset="0.6596" stop-color="#ffc500"/><stop offset="0.6837" stop-color="#ff8500"/><stop offset="0.6958" stop-color="#ff6c00"/><stop offset="0.756" stop-color="#ff6100"/><stop offset="0.7982" stop-color="#ff3c00"/><stop offset="0.8464" stop-color="#ff2e00"/><stop offset="0.8825" stop-color="#ff3200"/><stop offset="0.9187" stop-color="#ff6500"/><stop offset="0.9669" stop-color="#ff6e00"/><stop offset="0.997" stop-color="#ff7d00"/></linearGradient>
<linearGradient id="r110" gradientUnits="userSpaceOnUse" x1="144" x2="310" y1="0" y2="0"><stop offset="0.003012" stop-color="#ffffcf"/><stop offset="0.03313" stop-color="#ffffc6"/><stop offset="0.09337" stop-color="#ffff8f"/><stop offset="0.1536" stop-color="#ffff7e"/><stop offset="0.25" stop-color="#ffff2b"/><stop offset="0.4006" stop-color="#ffff09"/><stop offset="0.4608" stop-color="#ffff00"/><stop offset="0.5452" stop-color="#fffe00"/><stop offset="0.5994" stop-color="#ffef00"/><stop offset="0.6235" stop-color="#ffde00"/><stop offset="0.6596" stop-color="#ffae00"/><stop offset="0.6837" stop-color="#ff7900"/><stop offset="0.6958" stop-color="#ff6900"/><stop offset="0.7199" stop-color="#ff6d00"/><stop offset="0.756" stop-color="#ff6300"/><stop offset="0.8042" stop-color="#ff3a00"/><stop offset="0.8464" stop-color="#ff2f00"/><stop offset="0.8825" stop-color="#ff3900"/><stop offset="0.9127" stop-color="#ff6000"/><stop offset="0.997" stop-color="#ff7c00"/></linearGradient>
<linearGradient id="r111" gradientUnits="userSpaceOnUse" x1="144" x2="310" y1="0" y2="0"><stop offset="0.003012" stop-color="#ffffc1"/><stop offset="0.03313" stop-color="#ffffb8"/><stop offset="0.09337" stop-color="#ffff8d"/><stop offset="0.1476" stop-color="#ffff7d"/><stop offset="0.2018" stop-color="#ffff54"/><stop offset="0.25" stop-color="#ffff23"/><stop offset="0.4006" stop-color="#ffff04"/><stop offset="0.5452" stop-color="#fffa00"/><stop offset="0.6054" stop-color="#ffe100"/><stop offset="0.6898" stop-color="#ff6900"/><stop offset="0.7199" stop-color="#ff6f00"/><stop offset="0.762" stop-color="#ff6200"/><stop offset="0.8102" stop-color="#ff3900"/><stop offset="0.8524" stop-color="#ff2f00"/><stop offset="0.8765" stop-color="#ff3a00"/><stop offset="0.9066" stop-color="#ff5e00"/><stop offset="0.9307" stop-color="#ff5d00"/><stop offset="0.997" stop-color="#ff7900"/></linearGradient>
<linearGradient id="r112" gradientUnits="userSpaceOnUse" x1="144" x2="310" y1="0" y2="0"><stop offset="0.003012" stop-color="#ffffb2"/><stop offset="0.1476" stop-color="#ffff7a"/><stop offset="0.2018" stop-color="#ffff52"/><stop offset="0.25" stop-color="#ffff1b"/><stop offset="0.3102" stop-color="#ffff16"/><stop offset="0.3886" stop-color="#ffff01"/><stop offset="0.4428" stop-color="#ffff00"/><stop offset="0.5452" stop-color="#fff700"/><stop offset="0.5934" stop-color="#ffe600"/><stop offset="0.6416" stop-color="#ff9700"/><stop offset="0.6837" stop-color="#ff6700"/><stop offset="0.7199" stop-color="#ff6f00"/><stop offset="0.7681" stop-color="#ff6100"/><stop offset="0.8102" stop-color="#ff3d00"/><stop offset="0.8524" stop-color="#ff3100"/><stop offset="0.8705" stop-color="#ff3900"/><stop offset="0.9066" stop-color="#ff6100"/><stop offset="0.9307" stop-color="#ff5900"/><stop offset="0.997" stop-color="#ff7600"/></linearGradient>
<linearGradient id="r113" gradientUnits="userSpaceOnUse" x1="144" x2="310" y1="0" y2="0"><stop offset="0.003012" stop-color="#ffffa4"/><stop offset="0.1416" stop-color="#ffff7a"/><stop offset="0.1958" stop-color="#ffff55"/><stop offset="0.244" stop-color="#ffff1a"/><stop offset="0.262" stop-color="#ffff12"/><stop offset="0.3102" stop-color="#ffff11"/><stop offset="0.3705" stop-color="#ffff02"/><stop offset="0.3765" stop-color="#ffff00"/><stop offset="0.5452" stop-color="#fff300"/><stop offset="0.5934" stop-color="#ffe000"/><stop offset="0.6355" stop-color="#ff8b00"/><stop offset="0.6777" stop-color="#ff6400"/><stop offset="0.7199" stop-color="#ff6d00"/><stop offset="0.7741" stop-color="#ff6000"/><stop offset="0.8102" stop-color="#ff4300"/><stop offset="0.8464" stop-color="#ff3600"/><stop offset="0.8705" stop-color="#ff3d00"/><stop offset="0.9006" stop-color="#ff6200"/><stop offset="0.9307" stop-color="#ff5600"/><stop offset="0.997" stop-color="#ff7300"/></linearGradient>
<linearGradient id="r114" gradientUnits="userSpaceOnUse" x1="144" x2="310" y1="0" y2="0"><stop offset="0.003012" stop-color="#ffff9a"/><stop offset="0.1355" stop-color="#ffff7b"/><stop offset="0.1898" stop-color="#ffff58"/><stop offset="0.244" stop-color="#ffff17"/><stop offset="0.2681" stop-color="#ffff0b"/><stop offset="0.3102" stop-color="#ffff0c"/><stop offset="0.3645" stop-color="#ffff00"/><stop offset="0.3705" stop-color="#fffd00"/><stop offset="0.3946" stop-color="#fff500"/><stop offset="0.4428" stop-color="#fffa00"/><stop offset="0.5512" stop-color="#ffef00"/><stop offset="0.5934" stop-color="#ffd800"/><stop offset="0.6175" stop-color="#ff9e00"/><stop offset="0.6416" stop-color="#ff7100"/><stop offset="0.6837" stop-color="#ff5d00"/><stop offset="0.7199" stop-color="#ff6800"/><stop offset="0.7741" stop-color="#ff5e00"/><stop offset="0.8404" stop-color="#ff3b00"/><stop offset="0.8705" stop-color="#ff4100"/><stop offset="0.9006" stop-color="#ff6400"/><stop offset="0.9307" stop-color="#ff5500"/><stop offset="0.997" stop-color="#ff7100"/></linearGradient>
<linearGradient id="r115" gradientUnits="userSpaceOnUse" x1="144" x2="310" y1="0" y2="0"><stop offset="0.003012" stop-color="#ffff92"/><stop offset="0.08735" stop-color="#ffff87"/><stop offset="0.1355" stop-color="#ffff78"/><stop offset="0.1898" stop-color="#ffff56"/><stop offset="0.244" stop-color="#ffff14"/><stop offset="0.2741" stop-color="#ffff04"/><stop offset="0.3524" stop-color="#ffff01"/><stop offset="0.3946" stop-color="#ffef00"/><stop offset="0.4367" stop-color="#fff700"/><stop offset="0.5512" stop-color="#ffeb00"/><stop offset="0.5873" stop-color="#ffd300"/><stop offset="0.6175" stop-color="#ff8e00"/><stop offset="0.6416" stop-color="#ff6400"/><stop offset="0.6837" stop-color="#ff5900"/><stop offset="0.7259" stop-color="#ff6100"/><stop offset="0.7741" stop-color="#ff5c00"/><stop offset="0.8404" stop-color="#ff3f00"/><stop offset="0.8705" stop-color="#ff4400"/><stop offset="0.9006" stop-color="#ff6300"/><stop offset="0.9307" stop-color="#ff5500"/><stop offset="0.997" stop-color="#ff6f00"/></linearGradient>
<linearGradient id="r116" gradientUnits="userSpaceOnUse" x1="144" x2="310" y1="0" y2="0"><stop offset="0.003012" stop-color="#ffff8e"/><stop offset="0.08735" stop-color="#ffff86"/><stop offset="0.1355" stop-color="#ffff75"/><stop offset="0.1958" stop-color="#ffff4e"/><stop offset="0.244" stop-color="#ffff12"/><stop offset="0.2681" stop-color="#fffe00"/><stop offset="0.3404" stop-color="#ffff00"/><stop offset="0.3946" stop-color="#ffe800"/><stop offset="0.4367" stop-color="#fff300"/><stop offset="0.4669" stop-color="#ffeb00"/><stop offset="0.5151" stop-color="#ffee00"/><stop offset="0.5512" stop-color="#ffe800"/><stop offset="0.5693" stop-color="#ffdd00"/><stop offset="0.5873" stop-color="#ffc300"/><stop offset="0.6114" stop-color="#ff8b00"/><stop offset="0.6355" stop-color="#ff6300"/><stop offset="0.6898" stop-color="#ff5400"/><stop offset="0.7319" stop-color="#ff5c00"/><stop offset="0.7741" stop-color="#ff5a00"/><stop offset="0.8163" stop-color="#ff5200"/><stop offset="0.8464" stop-color="#ff4300"/><stop offset="0.8705" stop-color="#ff4700"/><stop offset="0.9006" stop-color="#ff5f00"/><stop offset="0.9307" stop-color="#ff5300"/><stop offset="0.9608" stop-color="#ff6500"/><stop offset="0.997" stop-color="#ff6e00"/></linearGradient>
<linearGradient id="r117" gradientUnits="userSpaceOnUse" x1="144" x2="310" y1="0" y2="0"><stop offset="0.003012" stop-color="#ffff8b"/><stop offset="0.08735" stop-color="#ffff84"/><stop offset="0.1355" stop-color="#ffff72"/><stop offset="0.1958" stop-color="#ffff4b"/><stop offset="0.256" stop-color="#ffff03"/><stop offset="0.262" stop-color="#fffd00"/><stop offset="0.2801" stop-color="#fff800"/><stop offset="0.3343" stop-color="#fffd00"/><stop offset="0.3645" stop-color="#fff700"/><stop offset="0.3946" stop-color="#ffe200"/><stop offset="0.4367" stop-color="#ffec00"/><stop offset="0.4729" stop-color="#ffde00"/><stop offset="0.5151" stop-color="#ffea00"/><stop offset="0.5512" stop-color="#ffe600"/><stop offset="0.5693" stop-color="#ffd600"/><stop offset="0.6114" stop-color="#ff7d00"/><stop offset="0.6295" stop-color="#ff6500"/><stop offset="0.6416" stop-color="#ff5b00"/><stop offset="0.6657" stop-color="#ff5c00"/><stop offset="0.6958" stop-color="#ff4e00"/><stop offset="0.738" stop-color="#ff5a00"/><stop offset="0.8102" stop-color="#ff5900"/><stop offset="0.8404" stop-color="#ff4700"/><stop offset="0.8705" stop-color="#ff4900"/><stop offset="0.9006" stop-color="#ff5900"/><stop offset="0.9307" stop-color="#ff4f00"/><stop offset="0.9608" stop-color="#ff6400"/><stop offset="0.997" stop-color="#ff6c00"/></linearGradient>
<linearGradient id="r118" gradientUnits="userSpaceOnUse" x1="144" x2="310" y1="0" y2="0"><stop offset="0.003012" stop-color="#ffff8a"/><stop offset="0.08735" stop-color="#ffff82"/><stop offset="0.1416" stop-color="#ffff6b"/><stop offset="0.2018" stop-color="#ffff41"/><stop offset="0.25" stop-color="#ffff06"/><stop offset="0.256" stop-color="#fffe00"/><stop offset="0.2801" stop-color="#fff200"/><stop offset="0.3404" stop-color="#fff900"/><stop offset="0.3705" stop-color="#fff000"/><stop offset="0.3946" stop-color="#ffdc00"/><stop offset="0.4127" stop-color="#ffe400"/><stop offset="0.4428" stop-color="#ffe200"/><stop offset="0.4789" stop-color="#ffca00"/><stop offset="0.491" stop-color="#ffcc00"/><stop offset="0.5151" stop-color="#ffe400"/><stop offset="0.5512" stop-color="#ffe500"/><stop offset="0.5633" stop-color="#ffdb00"/><stop offset="0.5994" stop-color="#ff8900"/><stop offset="0.6175" stop-color="#ff6a00"/><stop offset="0.6416" stop-color="#ff5c00"/><stop offset="0.6717" stop-color="#ff5900"/><stop offset="0.7018" stop-color="#ff4700"/><stop offset="0.744" stop-color="#ff5a00"/><stop offset="0.8102" stop-color="#ff5c00"/><stop offset="0.8404" stop-color="#ff4900"/><stop offset="0.8946" stop-color="#ff5400"/><stop offset="0.9247" stop-color="#ff4800"/><stop offset="0.9608" stop-color="#ff6300"/><stop offset="0.997" stop-color="#ff6b00"/></linearGradient>
<linearGradient id="r119" gradientUnits="userSpaceOnUse" x1="144" x2="310" y1="0" y2="0"><stop offset="0.003012" stop-color="#ffff8a"/><stop offset="0.08133" stop-color="#ffff82"/><stop offset="0.1175" stop-color="#ffff73"/><stop offset="0.2018" stop-color="#ffff3d"/><stop offset="0.25" stop-color="#ffff03"/><stop offset="0.256" stop-color="#fffb00"/><stop offset="0.2801" stop-color="#ffec00"/><stop offset="0.3404" stop-color="#fff300"/><stop offset="0.3705" stop-color="#ffea00"/><stop offset="0.3946" stop-color="#ffd600"/><stop offset="0.4127" stop-color="#ffdc00"/><stop offset="0.4428" stop-color="#ffd200"/><stop offset="0.4669" stop-color="#ffb900"/><stop offset="0.4849" stop-color="#ffb100"/><stop offset="0.5211" stop-color="#ffe300"/><stop offset="0.5512" stop-color="#ffe400"/><stop offset="0.5633" stop-color="#ffd600"/><stop offset="0.5873" stop-color="#ff9500"/><stop offset="0.6114" stop-color="#ff6900"/><stop offset="0.6717" stop-color="#ff5700"/><stop offset="0.7018" stop-color="#ff4200"/><stop offset="0.7139" stop-color="#ff4300"/><stop offset="0.744" stop-color="#ff5a00"/><stop offset="0.8102" stop-color="#ff5d00"/><stop offset="0.8464" stop-color="#ff4900"/><stop offset="0.8886" stop-color="#ff4f00"/><stop offset="0.9187" stop-color="#ff4200"/><stop offset="0.9608" stop-color="#ff6200"/><stop offset="0.997" stop-color="#ff6a00"/></linearGradient>
<linearGradient id="r120" gradientUnits="userSpaceOnUse" x1="144" x2="310" y1="0" y2="0"><stop offset="0.003012" stop-color="#ffff89"/><stop offset="0.08133" stop-color="#ffff7f"/><stop offset="0.1114" stop-color="#ffff72"/><stop offset="0.2078" stop-color="#ffff34"/><stop offset="0.25" stop-color="#ffff00"/><stop offset="0.2741" stop-color="#ffe900"/><stop offset="0.3404" stop-color="#ffeb00"/><stop offset="0.3765" stop-color="#ffdf00"/><stop offset="0.3946" stop-color="#ffcc00"/><stop offset="0.4127" stop-color="#ffce00"/><stop offset="0.4428" stop-color="#ffbb00"/><stop offset="0.4729" stop-color="#ff9d00"/><stop offset="0.4849" stop-color="#ff9900"/><stop offset="0.497" stop-color="#ffa700"/><stop offset="0.5211" stop-color="#ffe100"/><stop offset="0.5452" stop-color="#ffe400"/><stop offset="0.5572" stop-color="#ffda00"/><stop offset="0.5873" stop-color="#ff8700"/><stop offset="0.6114" stop-color="#ff6300"/><stop offset="0.6416" stop-color="#ff6100"/><stop offset="0.7018" stop-color="#ff4000"/><stop offset="0.7139" stop-color="#ff4200"/><stop offset="0.738" stop-color="#ff5900"/><stop offset="0.8042" stop-color="#ff5d00"/><stop offset="0.8524" stop-color="#ff4700"/><stop offset="0.8886" stop-color="#ff4c00"/><stop offset="0.9187" stop-color="#ff3f00"/><stop offset="0.9608" stop-color="#ff6300"/><stop offset="0.997" stop-color="#ff6900"/></linearGradient>
<linearGradient id="r121" gradientUnits="userSpaceOnUse" x1="144" x2="310" y1="0" y2="0"><stop offset="0.003012" stop-color="#ffff89"/><stop offset="0.0994" stop-color="#ffff74"/><stop offset="0.2078" stop-color="#ffff2e"/><stop offset="0.244" stop-color="#ffff05"/><stop offset="0.25" stop-color="#fffd00"/><stop offset="0.2741" stop-color="#ffe600"/><stop offset="0.3042" stop-color="#ffe800"/><stop offset="0.3765" stop-color="#ffcf00"/><stop offset="0.3946" stop-color="#ffbd00"/><stop offset="0.4127" stop-color="#ffb800"/><stop offset="0.4849" stop-color="#ff8300"/><stop offset="0.497" stop-color="#ff9500"/><stop offset="0.5211" stop-color="#ffde00"/><stop offset="0.5392" stop-color="#ffe600"/><stop offset="0.5572" stop-color="#ffd200"/><stop offset="0.5813" stop-color="#ff8800"/><stop offset="0.6054" stop-color="#ff6200"/><stop offset="0.6175" stop-color="#ff5d00"/><stop offset="0.6416" stop-color="#ff6300"/><stop offset="0.7018" stop-color="#ff4100"/><stop offset="0.7139" stop-color="#ff4400"/><stop offset="0.738" stop-color="#ff5a00"/><stop offset="0.8042" stop-color="#ff5d00"/><stop offset="0.8524" stop-color="#ff4700"/><stop offset="0.8825" stop-color="#ff4c00"/><stop offset="0.9127" stop-color="#ff4100"/><stop offset="0.9548" stop-color="#ff6000"/><stop offset="0.997" stop-color="#ff6700"/></linearGradient>
<linearGradient id="r122" gradientUnits="userSpaceOnUse" x1="144" x2="310" y1="0" y2="0"><stop offset="0.003012" stop-color="#ffff89"/><stop offset="0.0994" stop-color="#ffff6e"/><stop offset="0.2078" stop-color="#ffff28"/><stop offset="0.244" stop-color="#ffff01"/><stop offset="0.25" stop-color="#fffa00"/><stop offset="0.2741" stop-color="#ffe600"/><stop offset="0.3765" stop-color="#ffb800"/><stop offset="0.4789" stop-color="#ff7100"/><stop offset="0.4849" stop-color="#ff7300"/><stop offset="0.497" stop-color="#ff8900"/><stop offset="0.5211" stop-color="#ffda00"/><stop offset="0.5271" stop-color="#ffe300"/><stop offset="0.5392" stop-color="#ffe500"/><stop offset="0.5572" stop-color="#ffcb00"/><stop offset="0.5813" stop-color="#ff7d00"/><stop offset="0.5934" stop-color="#ff6700"/><stop offset="0.6114" stop-color="#ff5b00"/><stop offset="0.6416" stop-color="#ff6300"/><stop offset="0.7018" stop-color="#ff4500"/><stop offset="0.738" stop-color="#ff5b00"/><stop offset="0.7982" stop-color="#ff5e00"/><stop offset="0.8584" stop-color="#ff4900"/><stop offset="0.9066" stop-color="#ff4600"/><stop offset="0.9548" stop-color="#ff6200"/><stop offset="0.997" stop-color="#ff6600"/></linearGradient>
<linearGradient id="r123" gradientUnits="userSpaceOnUse" x1="144" x2="310" y1="0" y2="0"><stop offset="0.003012" stop-color="#ffff88"/><stop offset="0.0994" stop-color="#ffff66"/><stop offset="0.2078" stop-color="#ffff1f"/><stop offset="0.238" stop-color="#ffff02"/><stop offset="0.244" stop-color="#fffc00"/><stop offset="0.3223" stop-color="#ffb900"/><stop offset="0.4789" stop-color="#ff6600"/><stop offset="0.491" stop-color="#ff7400"/><stop offset="0.503" stop-color="#ff9500"/><stop offset="0.5211" stop-color="#ffd500"/><stop offset="0.5331" stop-color="#ffe600"/><stop offset="0.5452" stop-color="#ffe000"/><stop offset="0.5512" stop-color="#ffd600"/><stop offset="0.5873" stop-color="#ff6900"/><stop offset="0.6054" stop-color="#ff5a00"/><stop offset="0.6416" stop-color="#ff6400"/><stop offset="0.7078" stop-color="#ff4900"/><stop offset="0.738" stop-color="#ff5c00"/><stop offset="0.7982" stop-color="#ff5f00"/><stop offset="0.9006" stop-color="#ff4b00"/><stop offset="0.9548" stop-color="#ff6300"/><stop offset="0.997" stop-color="#ff6400"/></linearGradient>
<linearGradient id="r124" gradientUnits="userSpaceOnUse" x1="144" x2="310" y1="0" y2="0"><stop offset="0.003012" stop-color="#ffff87"/><stop offset="0.0994" stop-color="#ffff5d"/><stop offset="0.2319" stop-color="#fffe00"/><stop offset="0.2801" stop-color="#ffd800"/><stop offset="0.3102" stop-color="#ffad00"/><stop offset="0.3223" stop-color="#ffa300"/><stop offset="0.4729" stop-color="#ff6000"/><stop offset="0.4789" stop-color="#ff6100"/><stop offset="0.491" stop-color="#ff7200"/><stop offset="0.503" stop-color="#ff9100"/><stop offset="0.5211" stop-color="#ffd200"/><stop offset="0.5271" stop-color="#ffdf00"/><stop offset="0.5392" stop-color="#ffe700"/><stop offset="0.5512" stop-color="#ffd500"/><stop offset="0.5813" stop-color="#ff7200"/><stop offset="0.5994" stop-color="#ff5b00"/><stop offset="0.6476" stop-color="#ff6500"/><stop offset="0.7078" stop-color="#ff4e00"/><stop offset="0.738" stop-color="#ff5c00"/><stop offset="0.7922" stop-color="#ff6200"/><stop offset="0.8946" stop-color="#ff5100"/><stop offset="0.9307" stop-color="#ff6000"/><stop offset="0.997" stop-color="#ff6300"/></linearGradient>
<linearGradient id="r125" gradientUnits="userSpaceOnUse" x1="144" x2="310" y1="0" y2="0"><stop offset="0.003012" stop-color="#ffff85"/><stop offset="0.02711" stop-color="#ffff7e"/><stop offset="0.06928" stop-color="#ffff5a"/><stop offset="0.0994" stop-color="#ffff52"/><stop offset="0.2199" stop-color="#ffff00"/><stop offset="0.2801" stop-color="#ffc700"/><stop offset="0.3042" stop-color="#ff9d00"/><stop offset="0.3163" stop-color="#ff9000"/><stop offset="0.4187" stop-color="#ff6700"/><stop offset="0.4789" stop-color="#ff6100"/><stop offset="0.491" stop-color="#ff7200"/><stop offset="0.503" stop-color="#ff8f00"/><stop offset="0.5211" stop-color="#ffd100"/><stop offset="0.5271" stop-color="#ffdf00"/><stop offset="0.5392" stop-color="#ffe800"/><stop offset="0.5512" stop-color="#ffd600"/><stop offset="0.5693" stop-color="#ff9200"/><stop offset="0.5813" stop-color="#ff7000"/><stop offset="0.5994" stop-color="#ff5b00"/><stop offset="0.6476" stop-color="#ff6700"/><stop offset="0.7139" stop-color="#ff5300"/><stop offset="0.7801" stop-color="#ff6500"/><stop offset="0.8283" stop-color="#ff5900"/><stop offset="0.9006" stop-color="#ff5600"/><stop offset="0.9307" stop-color="#ff6200"/><stop offset="0.997" stop-color="#ff5f00"/></linearGradient>
<linearGradient id="r126" gradientUnits="userSpaceOnUse" x1="144" x2="310" y1="0" y2="0"><stop offset="0.003012" stop-color="#ffff84"/><stop offset="0.02711" stop-color="#ffff7c"/><stop offset="0.06928" stop-color="#ffff4b"/><stop offset="0.0994" stop-color="#ffff44"/><stop offset="0.1295" stop-color="#ffff2b"/><stop offset="0.2018" stop-color="#fffe00"/><stop offset="0.25" stop-color="#ffd800"/><stop offset="0.3102" stop-color="#ff8200"/><stop offset="0.4187" stop-color="#ff5f00"/><stop offset="0.4729" stop-color="#ff6100"/><stop offset="0.4849" stop-color="#ff6900"/><stop offset="0.503" stop-color="#ff8d00"/><stop offset="0.5211" stop-color="#ffd100"/><stop offset="0.5271" stop-color="#ffe000"/><stop offset="0.5392" stop-color="#ffe800"/><stop offset="0.5512" stop-color="#ffd500"/><stop offset="0.5693" stop-color="#ff9000"/><stop offset="0.5813" stop-color="#ff6f00"/><stop offset="0.5994" stop-color="#ff5d00"/><stop offset="0.6536" stop-color="#ff6a00"/><stop offset="0.7139" stop-color="#ff5800"/><stop offset="0.7801" stop-color="#ff6900"/><stop offset="0.8343" stop-color="#ff5700"/><stop offset="0.8584" stop-color="#ff5f00"/><stop offset="0.9066" stop-color="#ff5800"/><stop offset="0.9307" stop-color="#ff5f00"/><stop offset="0.997" stop-color="#ff5a00"/></linearGradient>
<linearGradient id="r127" gradientUnits="userSpaceOnUse" x1="144" x2="310" y1="0" y2="0"><stop offset="0.003012" stop-color="#ffff82"/><stop offset="0.03313" stop-color="#ffff73"/><stop offset="0.06928" stop-color="#ffff38"/><stop offset="0.0994" stop-color="#ffff32"/><stop offset="0.1295" stop-color="#ffff19"/><stop offset="0.1717" stop-color="#ffff02"/><stop offset="0.1777" stop-color="#fffd00"/><stop offset="0.1898" stop-color="#fff900"/><stop offset="0.2259" stop-color="#ffe100"/><stop offset="0.3163" stop-color="#ff6d00"/><stop offset="0.3886" stop-color="#ff6700"/><stop offset="0.4187" stop-color="#ff5b00"/><stop offset="0.4789" stop-color="#ff6600"/><stop offset="0.491" stop-color="#ff7200"/><stop offset="0.503" stop-color="#ff8b00"/><stop offset="0.5211" stop-color="#ffd000"/><stop offset="0.5271" stop-color="#ffdf00"/><stop offset="0.5392" stop-color="#ffe700"/><stop offset="0.5512" stop-color="#ffd500"/><stop offset="0.5693" stop-color="#ff9200"/><stop offset="0.5813" stop-color="#ff7100"/><stop offset="0.5934" stop-color="#ff6100"/><stop offset="0.6536" stop-color="#ff6c00"/><stop offset="0.7199" stop-color="#ff5e00"/><stop offset="0.7801" stop-color="#ff6d00"/><stop offset="0.8343" stop-color="#ff5600"/><stop offset="0.8645" stop-color="#ff6100"/><stop offset="0.9066" stop-color="#ff5500"/><stop offset="0.9608" stop-color="#ff5c00"/><stop offset="0.997" stop-color="#ff5300"/></linearGradient>
<linearGradient id="r128" gradientUnits="userSpaceOnUse" x1="144" x2="310" y1="0" y2="0"><stop offset="0.003012" stop-color="#ffff7f"/><stop offset="0.02108" stop-color="#ffff7a"/><stop offset="0.03313" stop-color="#ffff6e"/><stop offset="0.06928" stop-color="#ffff20"/><stop offset="0.0994" stop-color="#ffff18"/><stop offset="0.1355" stop-color="#ffff00"/><stop offset="0.1717" stop-color="#fff500"/><stop offset="0.2259" stop-color="#ffcc00"/><stop offset="0.2982" stop-color="#ff6e00"/><stop offset="0.3163" stop-color="#ff6000"/><stop offset="0.3404" stop-color="#ff6800"/><stop offset="0.4247" stop-color="#ff5c00"/><stop offset="0.4849" stop-color="#ff6d00"/><stop offset="0.503" stop-color="#ff8900"/><stop offset="0.5271" stop-color="#ffdb00"/><stop offset="0.5392" stop-color="#ffe500"/><stop offset="0.5512" stop-color="#ffd500"/><stop offset="0.5753" stop-color="#ff8200"/><stop offset="0.5873" stop-color="#ff6800"/><stop offset="0.5934" stop-color="#ff6200"/><stop offset="0.6536" stop-color="#ff6d00"/><stop offset="0.7199" stop-color="#ff6300"/><stop offset="0.7801" stop-color="#ff7000"/><stop offset="0.8343" stop-color="#ff5600"/><stop offset="0.8584" stop-color="#ff6100"/><stop offset="0.8825" stop-color="#ff6100"/><stop offset="0.9127" stop-color="#ff4e00"/><stop offset="0.9608" stop-color="#ff5a00"/><stop offset="0.997" stop-color="#ff4c00"/></linearGradient>
<linearGradient id="r129" gradientUnits="userSpaceOnUse" x1="144" x2="310" y1="0" y2="0"><stop offset="0.003012" stop-color="#ffff7a"/><stop offset="0.02108" stop-color="#ffff76"/><stop offset="0.03313" stop-color="#ffff69"/><stop offset="0.06325" stop-color="#ffff0f"/><stop offset="0.06928" stop-color="#ffff04"/><stop offset="0.0753" stop-color="#fffd00"/><stop offset="0.1717" stop-color="#ffe500"/><stop offset="0.2259" stop-color="#ffb300"/><stop offset="0.2922" stop-color="#ff6400"/><stop offset="0.3102" stop-color="#ff5900"/><stop offset="0.3404" stop-color="#ff6900"/><stop offset="0.4247" stop-color="#ff5e00"/><stop offset="0.4849" stop-color="#ff7000"/><stop offset="0.503" stop-color="#ff8900"/><stop offset="0.5271" stop-color="#ffd500"/><stop offset="0.5392" stop-color="#ffe300"/><stop offset="0.5512" stop-color="#ffd800"/><stop offset="0.5813" stop-color="#ff7300"/><stop offset="0.5934" stop-color="#ff6300"/><stop offset="0.6536" stop-color="#ff6d00"/><stop offset="0.7259" stop-color="#ff6800"/><stop offset="0.7801" stop-color="#ff7200"/><stop offset="0.8283" stop-color="#ff5a00"/><stop offset="0.8825" stop-color="#ff6200"/><stop offset="0.9127" stop-color="#ff4900"/><stop offset="0.9608" stop-color="#ff5900"/><stop offset="0.997" stop-color="#ff4700"/></linearGradient>
<linearGradient id="r130" gradientUnits="userSpaceOnUse" x1="144" x2="310" y1="0" y2="0"><stop offset="0.003012" stop-color="#ffff74"/><stop offset="0.02108" stop-color="#ffff6f"/><stop offset="0.03313" stop-color="#ffff61"/><stop offset="0.03916" stop-color="#ffff4f"/><stop offset="0.05723" stop-color="#ffff04"/><stop offset="0.06325" stop-color="#fff500"/><stop offset="0.06928" stop-color="#ffeb00"/><stop offset="0.08133" stop-color="#ffe300"/><stop offset="0.1717" stop-color="#ffd000"/><stop offset="0.2922" stop-color="#ff5900"/><stop offset="0.3042" stop-color="#ff5400"/><stop offset="0.3404" stop-color="#ff6c00"/><stop offset="0.4307" stop-color="#ff6000"/><stop offset="0.4849" stop-color="#ff7200"/><stop offset="0.503" stop-color="#ff8900"/><stop offset="0.5271" stop-color="#ffcf00"/><stop offset="0.5452" stop-color="#ffe200"/><stop offset="0.5572" stop-color="#ffcd00"/><stop offset="0.5813" stop-color="#ff7300"/><stop offset="0.5934" stop-color="#ff6400"/><stop offset="0.7801" stop-color="#ff7500"/><stop offset="0.8283" stop-color="#ff5d00"/><stop offset="0.8886" stop-color="#ff6000"/><stop offset="0.9187" stop-color="#ff4600"/><stop offset="0.9608" stop-color="#ff5900"/><stop offset="0.997" stop-color="#ff4400"/></linearGradient>
<linearGradient id="r131" gradientUnits="userSpaceOnUse" x1="144" x2="310" y1="0" y2="0"><stop offset="0.003012" stop-color="#ffff6c"/><stop offset="0.02108" stop-color="#ffff63"/><stop offset="0.03313" stop-color="#ffff52"/><stop offset="0.0512" stop-color="#fffe00"/><stop offset="0.06325" stop-color="#ffdd00"/><stop offset="0.08133" stop-color="#ffc900"/><stop offset="0.1717" stop-color="#ffb700"/><stop offset="0.2199" stop-color="#ff8b00"/><stop offset="0.2982" stop-color="#ff5200"/><stop offset="0.3163" stop-color="#ff5900"/><stop offset="0.3404" stop-color="#ff6e00"/><stop offset="0.4307" stop-color="#ff6200"/><stop offset="0.4849" stop-color="#ff7300"/><stop offset="0.503" stop-color="#ff8800"/><stop offset="0.5271" stop-color="#ffca00"/><stop offset="0.5452" stop-color="#ffe100"/><stop offset="0.5572" stop-color="#ffce00"/><stop offset="0.5813" stop-color="#ff7300"/><stop offset="0.5934" stop-color="#ff6600"/><stop offset="0.7801" stop-color="#ff7700"/><stop offset="0.8223" stop-color="#ff6200"/><stop offset="0.8886" stop-color="#ff5f00"/><stop offset="0.9187" stop-color="#ff4600"/><stop offset="0.9608" stop-color="#ff5b00"/><stop offset="0.997" stop-color="#ff4100"/></linearGradient>
<linearGradient id="r132" gradientUnits="userSpaceOnUse" x1="144" x2="310" y1="0" y2="0"><stop offset="0.003012" stop-color="#ffff61"/><stop offset="0.02711" stop-color="#ffff47"/><stop offset="0.03313" stop-color="#ffff36"/><stop offset="0.04518" stop-color="#fffb00"/><stop offset="0.06325" stop-color="#ffc300"/><stop offset="0.0753" stop-color="#ffb200"/><stop offset="0.1717" stop-color="#ff9e00"/><stop offset="0.2018" stop-color="#ff8500"/><stop offset="0.256" stop-color="#ff6b00"/><stop offset="0.2861" stop-color="#ff5200"/><stop offset="0.3042" stop-color="#ff5600"/><stop offset="0.3464" stop-color="#ff7000"/><stop offset="0.4247" stop-color="#ff6400"/><stop offset="0.4849" stop-color="#ff7200"/><stop offset="0.503" stop-color="#ff8600"/><stop offset="0.5331" stop-color="#ffd400"/><stop offset="0.5452" stop-color="#ffdc00"/><stop offset="0.5572" stop-color="#ffc800"/><stop offset="0.5753" stop-color="#ff8400"/><stop offset="0.5873" stop-color="#ff6800"/><stop offset="0.6114" stop-color="#ff6f00"/><stop offset="0.6898" stop-color="#ff6a00"/><stop offset="0.7801" stop-color="#ff7900"/><stop offset="0.8163" stop-color="#ff6700"/><stop offset="0.8886" stop-color="#ff5d00"/><stop offset="0.9187" stop-color="#ff4900"/><stop offset="0.9548" stop-color="#ff5b00"/><stop offset="0.9669" stop-color="#ff5a00"/><stop offset="0.997" stop-color="#ff3e00"/></linearGradient>
<linearGradient id="r133" gradientUnits="userSpaceOnUse" x1="144" x2="310" y1="0" y2="0"><stop offset="0.003012" stop-color="#ffff55"/><stop offset="0.02108" stop-color="#ffff3b"/><stop offset="0.03313" stop-color="#ffff12"/><stop offset="0.03916" stop-color="#fff600"/><stop offset="0.0512" stop-color="#ffcb00"/><stop offset="0.06325" stop-color="#ffaa00"/><stop offset="0.0753" stop-color="#ff9900"/><stop offset="0.1717" stop-color="#ff8700"/><stop offset="0.1958" stop-color="#ff7700"/><stop offset="0.256" stop-color="#ff6500"/><stop offset="0.2801" stop-color="#ff5100"/><stop offset="0.3524" stop-color="#ff7200"/><stop offset="0.4247" stop-color="#ff6500"/><stop offset="0.4849" stop-color="#ff7000"/><stop offset="0.503" stop-color="#ff8400"/><stop offset="0.5271" stop-color="#ffcb00"/><stop offset="0.5392" stop-color="#ffd900"/><stop offset="0.5512" stop-color="#ffc900"/><stop offset="0.5753" stop-color="#ff7d00"/><stop offset="0.5813" stop-color="#ff6d00"/><stop offset="0.5873" stop-color="#ff6700"/><stop offset="0.6054" stop-color="#ff7000"/><stop offset="0.6898" stop-color="#ff6b00"/><stop offset="0.7801" stop-color="#ff7b00"/><stop offset="0.9187" stop-color="#ff4c00"/><stop offset="0.9669" stop-color="#ff5a00"/><stop offset="0.997" stop-color="#ff3c00"/></linearGradient>
<linearGradient id="r134" gradientUnits="userSpaceOnUse" x1="144" x2="310" y1="0" y2="0"><stop offset="0.003012" stop-color="#ffff48"/><stop offset="0.01506" stop-color="#ffff35"/><stop offset="0.02711" stop-color="#ffff0d"/><stop offset="0.03313" stop-color="#fff400"/><stop offset="0.05723" stop-color="#ffa100"/><stop offset="0.0753" stop-color="#ff8500"/><stop offset="0.1958" stop-color="#ff6a00"/><stop offset="0.2199" stop-color="#ff6c00"/><stop offset="0.256" stop-color="#ff6000"/><stop offset="0.2801" stop-color="#ff4f00"/><stop offset="0.3102" stop-color="#ff6400"/><stop offset="0.3524" stop-color="#ff7000"/><stop offset="0.4247" stop-color="#ff6800"/><stop offset="0.491" stop-color="#ff7000"/><stop offset="0.503" stop-color="#ff8100"/><stop offset="0.5271" stop-color="#ffcd00"/><stop offset="0.5331" stop-color="#ffd500"/><stop offset="0.5452" stop-color="#ffc800"/><stop offset="0.5813" stop-color="#ff6800"/><stop offset="0.6054" stop-color="#ff7200"/><stop offset="0.6837" stop-color="#ff6d00"/><stop offset="0.7801" stop-color="#ff7c00"/><stop offset="0.9127" stop-color="#ff4f00"/><stop offset="0.9669" stop-color="#ff5800"/><stop offset="0.997" stop-color="#ff3b00"/></linearGradient>
<linearGradient id="r135" gradientUnits="userSpaceOnUse" x1="144" x2="310" y1="0" y2="0"><stop offset="0.003012" stop-color="#ffff39"/><stop offset="0.01506" stop-color="#ffff22"/><stop offset="0.02108" stop-color="#ffff0e"/><stop offset="0.02711" stop-color="#fff700"/><stop offset="0.0512" stop-color="#ff9f00"/><stop offset="0.06325" stop-color="#ff8400"/><stop offset="0.0753" stop-color="#ff7500"/><stop offset="0.1054" stop-color="#ff6900"/><stop offset="0.1958" stop-color="#ff6100"/><stop offset="0.2199" stop-color="#ff6700"/><stop offset="0.2801" stop-color="#ff4f00"/><stop offset="0.3102" stop-color="#ff6800"/><stop offset="0.3343" stop-color="#ff6500"/><stop offset="0.3584" stop-color="#ff6f00"/><stop offset="0.4849" stop-color="#ff6a00"/><stop offset="0.503" stop-color="#ff7e00"/><stop offset="0.5271" stop-color="#ffca00"/><stop offset="0.5331" stop-color="#ffce00"/><stop offset="0.5392" stop-color="#ffc700"/><stop offset="0.5693" stop-color="#ff7800"/><stop offset="0.5813" stop-color="#ff6600"/><stop offset="0.6054" stop-color="#ff7500"/><stop offset="0.6355" stop-color="#ff6e00"/><stop offset="0.7801" stop-color="#ff7d00"/><stop offset="0.9066" stop-color="#ff5000"/><stop offset="0.9669" stop-color="#ff5600"/><stop offset="0.997" stop-color="#ff4000"/></linearGradient>
<linearGradient id="r136" gradientUnits="userSpaceOnUse" x1="144" x2="310" y1="0" y2="0"><stop offset="0.003012" stop-color="#ffff28"/><stop offset="0.02108" stop-color="#fffc00"/><stop offset="0.0512" stop-color="#ff9000"/><stop offset="0.06325" stop-color="#ff7800"/><stop offset="0.08133" stop-color="#ff6400"/><stop offset="0.1054" stop-color="#ff5800"/><stop offset="0.1958" stop-color="#ff5900"/><stop offset="0.2199" stop-color="#ff6200"/><stop offset="0.2741" stop-color="#ff5000"/><stop offset="0.3102" stop-color="#ff6900"/><stop offset="0.3343" stop-color="#ff6300"/><stop offset="0.3584" stop-color="#ff6c00"/><stop offset="0.4066" stop-color="#ff6f00"/><stop offset="0.4849" stop-color="#ff6900"/><stop offset="0.497" stop-color="#ff7100"/><stop offset="0.509" stop-color="#ff8c00"/><stop offset="0.5211" stop-color="#ffb200"/><stop offset="0.5271" stop-color="#ffbe00"/><stop offset="0.5331" stop-color="#ffbf00"/><stop offset="0.5633" stop-color="#ff7900"/><stop offset="0.5753" stop-color="#ff6800"/><stop offset="0.6054" stop-color="#ff7900"/><stop offset="0.6355" stop-color="#ff7100"/><stop offset="0.7741" stop-color="#ff7f00"/><stop offset="0.8705" stop-color="#ff6500"/><stop offset="0.9006" stop-color="#ff5200"/><stop offset="0.9729" stop-color="#ff5300"/><stop offset="0.997" stop-color="#ff4700"/></linearGradient>
<linearGradient id="r137" gradientUnits="userSpaceOnUse" x1="144" x2="310" y1="0" y2="0"><stop offset="0.003012" stop-color="#ffff14"/><stop offset="0.01506" stop-color="#fffd00"/><stop offset="0.02108" stop-color="#ffef00"/><stop offset="0.04518" stop-color="#ff9800"/><stop offset="0.06325" stop-color="#ff6e00"/><stop offset="0.08133" stop-color="#ff5800"/><stop offset="0.1054" stop-color="#ff4800"/><stop offset="0.1717" stop-color="#ff5700"/><stop offset="0.1958" stop-color="#ff5200"/><stop offset="0.2259" stop-color="#ff5d00"/><stop offset="0.2741" stop-color="#ff5200"/><stop offset="0.3102" stop-color="#ff6900"/><stop offset="0.3343" stop-color="#ff6300"/><stop offset="0.4127" stop-color="#ff7000"/><stop offset="0.4849" stop-color="#ff6900"/><stop offset="0.497" stop-color="#ff7100"/><stop offset="0.5211" stop-color="#ffa900"/><stop offset="0.5271" stop-color="#ffb000"/><stop offset="0.5392" stop-color="#ffa300"/><stop offset="0.5633" stop-color="#ff7000"/><stop offset="0.5753" stop-color="#ff6800"/><stop offset="0.5994" stop-color="#ff7c00"/><stop offset="0.6416" stop-color="#ff7500"/><stop offset="0.762" stop-color="#ff8200"/><stop offset="0.8464" stop-color="#ff6a00"/><stop offset="0.8705" stop-color="#ff6a00"/><stop offset="0.9006" stop-color="#ff5500"/><stop offset="0.9428" stop-color="#ff4b00"/><stop offset="0.9789" stop-color="#ff5300"/><stop offset="0.997" stop-color="#ff4f00"/></linearGradient>
<linearGradient id="r138" gradientUnits="userSpaceOnUse" x1="144" x2="310" y1="0" y2="0"><stop offset="0.003012" stop-color="#fffe00"/><stop offset="0.02108" stop-color="#ffe000"/><stop offset="0.04518" stop-color="#ff8e00"/><stop offset="0.06325" stop-color="#ff6500"/><stop offset="0.09337" stop-color="#ff4300"/><stop offset="0.1114" stop-color="#ff3900"/><stop offset="0.1717" stop-color="#ff5200"/><stop offset="0.2018" stop-color="#ff4e00"/><stop offset="0.2319" stop-color="#ff5b00"/><stop offset="0.2741" stop-color="#ff5500"/><stop offset="0.3102" stop-color="#ff6900"/><stop offset="0.3404" stop-color="#ff6600"/><stop offset="0.4066" stop-color="#ff7100"/><stop offset="0.4849" stop-color="#ff6a00"/><stop offset="0.497" stop-color="#ff7100"/><stop offset="0.5151" stop-color="#ff9700"/><stop offset="0.5271" stop-color="#ffa400"/><stop offset="0.5572" stop-color="#ff7400"/><stop offset="0.5693" stop-color="#ff6a00"/><stop offset="0.5994" stop-color="#ff8000"/><stop offset="0.6416" stop-color="#ff7900"/><stop offset="0.762" stop-color="#ff8500"/><stop offset="0.8464" stop-color="#ff6c00"/><stop offset="0.8705" stop-color="#ff6c00"/><stop offset="0.9428" stop-color="#ff4600"/><stop offset="0.997" stop-color="#ff5400"/></linearGradient>
<linearGradient id="r139" gradientUnits="userSpaceOnUse" x1="144" x2="310" y1="0" y2="0"><stop offset="0.003012" stop-color="#ffed00"/><stop offset="0.02108" stop-color="#ffcd00"/><stop offset="0.04518" stop-color="#ff8400"/><stop offset="0.06325" stop-color="#ff5b00"/><stop offset="0.0994" stop-color="#ff3500"/><stop offset="0.1175" stop-color="#ff2b00"/><stop offset="0.1295" stop-color="#ff2e00"/><stop offset="0.1657" stop-color="#ff4d00"/><stop offset="0.2018" stop-color="#ff4c00"/><stop offset="0.2319" stop-color="#ff5c00"/><stop offset="0.2681" stop-color="#ff5800"/><stop offset="0.3163" stop-color="#ff6c00"/><stop offset="0.4066" stop-color="#ff7200"/><stop offset="0.491" stop-color="#ff6d00"/><stop offset="0.503" stop-color="#ff7900"/><stop offset="0.5211" stop-color="#ff9a00"/><stop offset="0.5271" stop-color="#ff9900"/><stop offset="0.5572" stop-color="#ff7300"/><stop offset="0.5693" stop-color="#ff6e00"/><stop offset="0.5994" stop-color="#ff8200"/><stop offset="0.6416" stop-color="#ff7c00"/><stop offset="0.762" stop-color="#ff8700"/><stop offset="0.8464" stop-color="#ff6d00"/><stop offset="0.8765" stop-color="#ff6c00"/><stop offset="0.9187" stop-color="#ff5700"/><stop offset="0.9428" stop-color="#ff4200"/><stop offset="0.997" stop-color="#ff5700"/></linearGradient>
<linearGradient id="r140" gradientUnits="userSpaceOnUse" x1="144" x2="310" y1="0" y2="0"><stop offset="0.003012" stop-color="#ffda00"/><stop offset="0.02108" stop-color="#ffb700"/><stop offset="0.0512" stop-color="#ff6900"/><stop offset="0.06325" stop-color="#ff5100"/><stop offset="0.1235" stop-color="#ff2100"/><stop offset="0.1596" stop-color="#ff4600"/><stop offset="0.2078" stop-color="#ff4f00"/><stop offset="0.2319" stop-color="#ff5f00"/><stop offset="0.2681" stop-color="#ff5d00"/><stop offset="0.3645" stop-color="#ff7400"/><stop offset="0.4849" stop-color="#ff6e00"/><stop offset="0.503" stop-color="#ff7700"/><stop offset="0.5211" stop-color="#ff9200"/><stop offset="0.5452" stop-color="#ff7a00"/><stop offset="0.5693" stop-color="#ff7200"/><stop offset="0.6054" stop-color="#ff8300"/><stop offset="0.6416" stop-color="#ff7d00"/><stop offset="0.7681" stop-color="#ff8800"/><stop offset="0.8464" stop-color="#ff6d00"/><stop offset="0.8825" stop-color="#ff6a00"/><stop offset="0.9127" stop-color="#ff5b00"/><stop offset="0.9428" stop-color="#ff3f00"/><stop offset="0.997" stop-color="#ff5800"/></linearGradient>
<linearGradient id="r141" gradientUnits="userSpaceOnUse" x1="144" x2="310" y1="0" y2="0"><stop offset="0.003012" stop-color="#ffc500"/><stop offset="0.0512" stop-color="#ff5b00"/><stop offset="0.06325" stop-color="#ff4700"/><stop offset="0.1235" stop-color="#ff1900"/><stop offset="0.1355" stop-color="#ff2100"/><stop offset="0.1657" stop-color="#ff4600"/><stop offset="0.238" stop-color="#ff6500"/><stop offset="0.2681" stop-color="#ff6400"/><stop offset="0.3645" stop-color="#ff7800"/><stop offset="0.4729" stop-color="#ff6e00"/><stop offset="0.497" stop-color="#ff7200"/><stop offset="0.5211" stop-color="#ff8900"/><stop offset="0.5452" stop-color="#ff7600"/><stop offset="0.5693" stop-color="#ff7500"/><stop offset="0.6054" stop-color="#ff8300"/><stop offset="0.6416" stop-color="#ff7e00"/><stop offset="0.7681" stop-color="#ff8900"/><stop offset="0.8464" stop-color="#ff6c00"/><stop offset="0.8825" stop-color="#ff6a00"/><stop offset="0.9428" stop-color="#ff3e00"/><stop offset="0.997" stop-color="#ff5900"/></linearGradient>
<linearGradient id="r142" gradientUnits="userSpaceOnUse" x1="144" x2="310" y1="0" y2="0"><stop offset="0.003012" stop-color="#ffb000"/><stop offset="0.05723" stop-color="#ff4300"/><stop offset="0.08735" stop-color="#ff3300"/><stop offset="0.1235" stop-color="#ff1300"/><stop offset="0.1355" stop-color="#ff1900"/><stop offset="0.1596" stop-color="#ff3d00"/><stop offset="0.1958" stop-color="#ff5800"/><stop offset="0.238" stop-color="#ff6800"/><stop offset="0.3645" stop-color="#ff7b00"/><stop offset="0.4729" stop-color="#ff6f00"/><stop offset="0.5211" stop-color="#ff7e00"/><stop offset="0.5693" stop-color="#ff7600"/><stop offset="0.6054" stop-color="#ff8100"/><stop offset="0.6416" stop-color="#ff7e00"/><stop offset="0.75" stop-color="#ff8c00"/><stop offset="0.8464" stop-color="#ff6b00"/><stop offset="0.8825" stop-color="#ff6800"/><stop offset="0.9428" stop-color="#ff3d00"/><stop offset="0.997" stop-color="#ff5c00"/></linearGradient>
<linearGradient id="r143" gradientUnits="userSpaceOnUse" x1="144" x2="310" y1="0" y2="0"><stop offset="0.003012" stop-color="#ff9b00"/><stop offset="0.0512" stop-color="#ff3b00"/><stop offset="0.08133" stop-color="#ff3300"/><stop offset="0.1235" stop-color="#ff0e00"/><stop offset="0.1355" stop-color="#ff1300"/><stop offset="0.1596" stop-color="#ff3900"/><stop offset="0.1958" stop-color="#ff5e00"/><stop offset="0.3584" stop-color="#ff7d00"/><stop offset="0.509" stop-color="#ff7200"/><stop offset="0.75" stop-color="#ff8e00"/><stop offset="0.7801" stop-color="#ff8700"/><stop offset="0.8102" stop-color="#ff7600"/><stop offset="0.8825" stop-color="#ff6500"/><stop offset="0.9367" stop-color="#ff3e00"/><stop offset="0.997" stop-color="#ff5e00"/></linearGradient>
<linearGradient id="r144" gradientUnits="userSpaceOnUse" x1="144" x2="310" y1="0" y2="0"><stop offset="0.003012" stop-color="#ff8900"/><stop offset="0.01506" stop-color="#ff7a00"/><stop offset="0.03916" stop-color="#ff3f00"/><stop offset="0.0512" stop-color="#ff2c00"/><stop offset="0.08133" stop-color="#ff2f00"/><stop offset="0.1054" stop-color="#ff1300"/><stop offset="0.1235" stop-color="#ff0c00"/><stop offset="0.1416" stop-color="#ff1600"/><stop offset="0.1657" stop-color="#ff3e00"/><stop offset="0.1958" stop-color="#ff6200"/><stop offset="0.3584" stop-color="#ff7f00"/><stop offset="0.5151" stop-color="#ff6f00"/><stop offset="0.756" stop-color="#ff8f00"/><stop offset="0.8102" stop-color="#ff7500"/><stop offset="0.8825" stop-color="#ff6000"/><stop offset="0.9187" stop-color="#ff4200"/><stop offset="0.9367" stop-color="#ff3d00"/><stop offset="0.997" stop-color="#ff5f00"/></linearGradient>
<linearGradient id="r145" gradientUnits="userSpaceOnUse" x1="144" x2="310" y1="0" y2="0"><stop offset="0.003012" stop-color="#ff7d00"/><stop offset="0.01506" stop-color="#ff6e00"/><stop offset="0.03916" stop-color="#ff3200"/><stop offset="0.0512" stop-color="#ff1f00"/><stop offset="0.08133" stop-color="#ff2900"/><stop offset="0.1054" stop-color="#ff0e00"/><stop offset="0.1175" stop-color="#ff0a00"/><stop offset="0.1416" stop-color="#ff1300"/><stop offset="0.1837" stop-color="#ff5700"/><stop offset="0.1958" stop-color="#ff6200"/><stop offset="0.2319" stop-color="#ff7000"/><stop offset="0.3524" stop-color="#ff8000"/><stop offset="0.5151" stop-color="#ff6d00"/><stop offset="0.5512" stop-color="#ff7700"/><stop offset="0.6416" stop-color="#ff7b00"/><stop offset="0.75" stop-color="#ff9100"/><stop offset="0.8825" stop-color="#ff5d00"/><stop offset="0.9247" stop-color="#ff3c00"/><stop offset="0.9428" stop-color="#ff3f00"/><stop offset="0.997" stop-color="#ff5d00"/></linearGradient>
<linearGradient id="r146" gradientUnits="userSpaceOnUse" x1="144" x2="310" y1="0" y2="0"><stop offset="0.003012" stop-color="#ff7000"/><stop offset="0.02108" stop-color="#ff5700"/><stop offset="0.03916" stop-color="#ff2800"/><stop offset="0.0512" stop-color="#ff1600"/><stop offset="0.0753" stop-color="#ff2300"/><stop offset="0.1114" stop-color="#ff0900"/><stop offset="0.1416" stop-color="#ff1100"/><stop offset="0.1837" stop-color="#ff5300"/><stop offset="0.2259" stop-color="#ff7200"/><stop offset="0.3524" stop-color="#ff8100"/><stop offset="0.509" stop-color="#ff6c00"/><stop offset="0.5452" stop-color="#ff7700"/><stop offset="0.6416" stop-color="#ff7900"/><stop offset="0.75" stop-color="#ff9200"/><stop offset="0.8825" stop-color="#ff5b00"/><stop offset="0.9187" stop-color="#ff3c00"/><stop offset="0.9367" stop-color="#ff3c00"/><stop offset="0.997" stop-color="#ff5900"/></linearGradient>
<linearGradient id="r147" gradientUnits="userSpaceOnUse" x1="144" x2="310" y1="0" y2="0"><stop offset="0.003012" stop-color="#ff6100"/><stop offset="0.02108" stop-color="#ff4c00"/><stop offset="0.04518" stop-color="#ff1500"/><stop offset="0.0512" stop-color="#ff1000"/><stop offset="0.0753" stop-color="#ff1a00"/><stop offset="0.1175" stop-color="#ff0900"/><stop offset="0.1476" stop-color="#ff1600"/><stop offset="0.1898" stop-color="#ff5200"/><stop offset="0.2319" stop-color="#ff7700"/><stop offset="0.2681" stop-color="#ff7400"/><stop offset="0.3584" stop-color="#ff8100"/><stop offset="0.4006" stop-color="#ff7500"/><stop offset="0.509" stop-color="#ff6b00"/><stop offset="0.5452" stop-color="#ff7600"/><stop offset="0.6416" stop-color="#ff7500"/><stop offset="0.75" stop-color="#ff9200"/><stop offset="0.7741" stop-color="#ff8c00"/><stop offset="0.8645" stop-color="#ff5a00"/><stop offset="0.8825" stop-color="#ff5800"/><stop offset="0.9187" stop-color="#ff3b00"/><stop offset="0.9367" stop-color="#ff3b00"/><stop offset="0.997" stop-color="#ff5400"/></linearGradient>
<linearGradient id="r148" gradientUnits="userSpaceOnUse" x1="144" x2="310" y1="0" y2="0"><stop offset="0.003012" stop-color="#ff5200"/><stop offset="0.02108" stop-color="#ff4200"/><stop offset="0.04518" stop-color="#ff1100"/><stop offset="0.0512" stop-color="#ff0c00"/><stop offset="0.0753" stop-color="#ff1100"/><stop offset="0.1235" stop-color="#ff0700"/><stop offset="0.1596" stop-color="#ff2100"/><stop offset="0.2199" stop-color="#ff7100"/><stop offset="0.2319" stop-color="#ff7900"/><stop offset="0.3584" stop-color="#ff7f00"/><stop offset="0.4066" stop-color="#ff7300"/><stop offset="0.509" stop-color="#ff6800"/><stop offset="0.5392" stop-color="#ff7200"/><stop offset="0.6657" stop-color="#ff7400"/><stop offset="0.756" stop-color="#ff9200"/><stop offset="0.8584" stop-color="#ff5600"/><stop offset="0.8886" stop-color="#ff5000"/><stop offset="0.9187" stop-color="#ff3b00"/><stop offset="0.9367" stop-color="#ff3a00"/><stop offset="0.997" stop-color="#ff4d00"/></linearGradient>
<linearGradient id="r149" gradientUnits="userSpaceOnUse" x1="144" x2="310" y1="0" y2="0"><stop offset="0.003012" stop-color="#ff4400"/><stop offset="0.02108" stop-color="#ff3900"/><stop offset="0.0512" stop-color="#ff0b00"/><stop offset="0.0994" stop-color="#ff0c00"/><stop offset="0.1235" stop-color="#ff0400"/><stop offset="0.1717" stop-color="#ff2600"/><stop offset="0.2199" stop-color="#ff7200"/><stop offset="0.2319" stop-color="#ff7c00"/><stop offset="0.3584" stop-color="#ff7d00"/><stop offset="0.509" stop-color="#ff6400"/><stop offset="0.6114" stop-color="#ff7300"/><stop offset="0.6657" stop-color="#ff6d00"/><stop offset="0.756" stop-color="#ff9200"/><stop offset="0.7741" stop-color="#ff8b00"/><stop offset="0.8645" stop-color="#ff4900"/><stop offset="0.9367" stop-color="#ff3700"/><stop offset="0.997" stop-color="#ff4400"/></linearGradient>
<linearGradient id="r150" gradientUnits="userSpaceOnUse" x1="144" x2="310" y1="0" y2="0"><stop offset="0.003012" stop-color="#ff3b00"/><stop offset="0.02108" stop-color="#ff3300"/><stop offset="0.0512" stop-color="#ff0b00"/><stop offset="0.0753" stop-color="#ff0500"/><stop offset="0.0994" stop-color="#ff0b00"/><stop offset="0.1235" stop-color="#ff0000"/><stop offset="0.1777" stop-color="#ff2200"/><stop offset="0.2139" stop-color="#ff6800"/><stop offset="0.2319" stop-color="#ff7c00"/><stop offset="0.256" stop-color="#ff7700"/><stop offset="0.3223" stop-color="#ff7e00"/><stop offset="0.4428" stop-color="#ff6a00"/><stop offset="0.4729" stop-color="#ff6c00"/><stop offset="0.503" stop-color="#ff5f00"/><stop offset="0.5572" stop-color="#ff6200"/><stop offset="0.6114" stop-color="#ff7000"/><stop offset="0.6657" stop-color="#ff6400"/><stop offset="0.756" stop-color="#ff9100"/><stop offset="0.8163" stop-color="#ff6b00"/><stop offset="0.8705" stop-color="#ff3c00"/><stop offset="0.8946" stop-color="#ff3e00"/><stop offset="0.9729" stop-color="#ff2e00"/><stop offset="0.997" stop-color="#ff3800"/></linearGradient>
<linearGradient id="r151" gradientUnits="userSpaceOnUse" x1="144" x2="310" y1="0" y2="0"><stop offset="0.003012" stop-color="#ff3700"/><stop offset="0.02108" stop-color="#ff3000"/><stop offset="0.04518" stop-color="#ff1000"/><stop offset="0.06325" stop-color="#ff0300"/><stop offset="0.0994" stop-color="#ff0900"/><stop offset="0.1295" stop-color="#fe0000"/><stop offset="0.1777" stop-color="#ff1a00"/><stop offset="0.2078" stop-color="#ff5b00"/><stop offset="0.2319" stop-color="#ff7a00"/><stop offset="0.3163" stop-color="#ff7b00"/><stop offset="0.4428" stop-color="#ff6800"/><stop offset="0.4669" stop-color="#ff6b00"/><stop offset="0.497" stop-color="#ff5c00"/><stop offset="0.5452" stop-color="#ff5700"/><stop offset="0.6114" stop-color="#ff6b00"/><stop offset="0.6657" stop-color="#ff5a00"/><stop offset="0.756" stop-color="#ff8f00"/><stop offset="0.8163" stop-color="#ff6800"/><stop offset="0.8705" stop-color="#ff3000"/><stop offset="0.9006" stop-color="#ff3500"/><stop offset="0.9428" stop-color="#ff2f00"/><stop offset="0.9729" stop-color="#ff2100"/><stop offset="0.997" stop-color="#ff2d00"/></linearGradient>
<linearGradient id="r152" gradientUnits="userSpaceOnUse" x1="144" x2="310" y1="0" y2="0"><stop offset="0.003012" stop-color="#ff3800"/><stop offset="0.02108" stop-color="#ff2d00"/><stop offset="0.05723" stop-color="#ff0200"/><stop offset="0.0753" stop-color="#fa0000"/><stop offset="0.08133" stop-color="#fd0000"/><stop offset="0.08735" stop-color="#ff0200"/><stop offset="0.0994" stop-color="#ff0800"/><stop offset="0.1295" stop-color="#fc0000"/><stop offset="0.1777" stop-color="#ff1300"/><stop offset="0.2078" stop-color="#ff5800"/><stop offset="0.2319" stop-color="#ff7400"/><stop offset="0.3163" stop-color="#ff7600"/><stop offset="0.3825" stop-color="#ff6900"/><stop offset="0.4669" stop-color="#ff6800"/><stop offset="0.497" stop-color="#ff5700"/><stop offset="0.5452" stop-color="#ff4d00"/><stop offset="0.5873" stop-color="#ff6000"/><stop offset="0.6175" stop-color="#ff6300"/><stop offset="0.6657" stop-color="#ff5100"/><stop offset="0.756" stop-color="#ff8800"/><stop offset="0.8163" stop-color="#ff6300"/><stop offset="0.8705" stop-color="#ff2500"/><stop offset="0.9367" stop-color="#ff2a00"/><stop offset="0.9729" stop-color="#ff1400"/><stop offset="0.997" stop-color="#ff2200"/></linearGradient>
<linearGradient id="r153" gradientUnits="userSpaceOnUse" x1="144" x2="310" y1="0" y2="0"><stop offset="0.003012" stop-color="#ff3a00"/><stop offset="0.0512" stop-color="#ff0400"/><stop offset="0.05723" stop-color="#fd0000"/><stop offset="0.0753" stop-color="#f40000"/><stop offset="0.09337" stop-color="#ff0400"/><stop offset="0.0994" stop-color="#ff0600"/><stop offset="0.1235" stop-color="#f90000"/><stop offset="0.1355" stop-color="#fc0000"/><stop offset="0.1416" stop-color="#ff0100"/><stop offset="0.1717" stop-color="#ff0900"/><stop offset="0.2078" stop-color="#ff5300"/><stop offset="0.2319" stop-color="#ff6c00"/><stop offset="0.3163" stop-color="#ff6f00"/><stop offset="0.3825" stop-color="#ff6100"/><stop offset="0.4669" stop-color="#ff6500"/><stop offset="0.497" stop-color="#ff5100"/><stop offset="0.5211" stop-color="#ff5100"/><stop offset="0.5452" stop-color="#ff4600"/><stop offset="0.5873" stop-color="#ff5b00"/><stop offset="0.6355" stop-color="#ff5700"/><stop offset="0.6717" stop-color="#ff4900"/><stop offset="0.7259" stop-color="#ff7200"/><stop offset="0.756" stop-color="#ff7e00"/><stop offset="0.8163" stop-color="#ff5d00"/><stop offset="0.8705" stop-color="#ff1c00"/><stop offset="0.9367" stop-color="#ff2200"/><stop offset="0.9729" stop-color="#ff0900"/><stop offset="0.997" stop-color="#ff1a00"/></linearGradient>
<linearGradient id="r154" gradientUnits="userSpaceOnUse" x1="144" x2="310" y1="0" y2="0"><stop offset="0.003012" stop-color="#ff3900"/><stop offset="0.0512" stop-color="#ff0100"/><stop offset="0.0753" stop-color="#ee0000"/><stop offset="0.09337" stop-color="#ff0100"/><stop offset="0.1295" stop-color="#f70000"/><stop offset="0.1536" stop-color="#ff0000"/><stop offset="0.1717" stop-color="#ff0600"/><stop offset="0.2078" stop-color="#ff4a00"/><stop offset="0.238" stop-color="#ff6400"/><stop offset="0.3163" stop-color="#ff6900"/><stop offset="0.3825" stop-color="#ff5800"/><stop offset="0.4669" stop-color="#ff6000"/><stop offset="0.497" stop-color="#ff4a00"/><stop offset="0.5211" stop-color="#ff4b00"/><stop offset="0.5392" stop-color="#ff4200"/><stop offset="0.5873" stop-color="#ff5500"/><stop offset="0.6717" stop-color="#ff4200"/><stop offset="0.6958" stop-color="#ff4900"/><stop offset="0.7319" stop-color="#ff6d00"/><stop offset="0.756" stop-color="#ff7400"/><stop offset="0.8163" stop-color="#ff5600"/><stop offset="0.8765" stop-color="#ff1200"/><stop offset="0.9066" stop-color="#ff0e00"/><stop offset="0.9367" stop-color="#ff1900"/><stop offset="0.9729" stop-color="#ff0100"/><stop offset="0.997" stop-color="#ff1400"/></linearGradient>
<linearGradient id="r155" gradientUnits="userSpaceOnUse" x1="144" x2="310" y1="0" y2="0"><stop offset="0.003012" stop-color="#ff3300"/><stop offset="0.03313" stop-color="#ff0c00"/><stop offset="0.0512" stop-color="#fd0000"/><stop offset="0.0753" stop-color="#e90000"/><stop offset="0.0994" stop-color="#fe0000"/><stop offset="0.1295" stop-color="#f40000"/><stop offset="0.1657" stop-color="#fc0000"/><stop offset="0.1717" stop-color="#ff0200"/><stop offset="0.1777" stop-color="#ff0b00"/><stop offset="0.2018" stop-color="#ff3700"/><stop offset="0.238" stop-color="#ff5a00"/><stop offset="0.3163" stop-color="#ff6300"/><stop offset="0.3825" stop-color="#ff5000"/><stop offset="0.4247" stop-color="#ff5b00"/><stop offset="0.4608" stop-color="#ff5800"/><stop offset="0.497" stop-color="#ff4100"/><stop offset="0.5452" stop-color="#ff3e00"/><stop offset="0.5813" stop-color="#ff5100"/><stop offset="0.6114" stop-color="#ff4300"/><stop offset="0.6476" stop-color="#ff4500"/><stop offset="0.6837" stop-color="#ff3b00"/><stop offset="0.7018" stop-color="#ff4200"/><stop offset="0.7319" stop-color="#ff6400"/><stop offset="0.756" stop-color="#ff6900"/><stop offset="0.8223" stop-color="#ff4800"/><stop offset="0.8705" stop-color="#ff0c00"/><stop offset="0.8886" stop-color="#ff0100"/><stop offset="0.9127" stop-color="#fe0000"/><stop offset="0.9367" stop-color="#ff0b00"/><stop offset="0.9548" stop-color="#ff0100"/><stop offset="0.9669" stop-color="#f80000"/><stop offset="0.9789" stop-color="#fe0000"/><stop offset="0.997" stop-color="#ff0f00"/></linearGradient>
<linearGradient id="r156" gradientUnits="userSpaceOnUse" x1="144" x2="310" y1="0" y2="0"><stop offset="0.003012" stop-color="#ff2800"/><stop offset="0.03313" stop-color="#ff0600"/><stop offset="0.04518" stop-color="#ff0000"/><stop offset="0.0512" stop-color="#fd0000"/><stop offset="0.0753" stop-color="#e80000"/><stop offset="0.0994" stop-color="#f90000"/><stop offset="0.1295" stop-color="#f10000"/><stop offset="0.1717" stop-color="#fc0000"/><stop offset="0.1777" stop-color="#ff0600"/><stop offset="0.1958" stop-color="#ff2500"/><stop offset="0.238" stop-color="#ff5100"/><stop offset="0.2861" stop-color="#ff5200"/><stop offset="0.3102" stop-color="#ff5e00"/><stop offset="0.3765" stop-color="#ff4800"/><stop offset="0.4307" stop-color="#ff5800"/><stop offset="0.4729" stop-color="#ff4c00"/><stop offset="0.503" stop-color="#ff3500"/><stop offset="0.5512" stop-color="#ff3c00"/><stop offset="0.5813" stop-color="#ff4c00"/><stop offset="0.6175" stop-color="#ff3900"/><stop offset="0.6536" stop-color="#ff3e00"/><stop offset="0.6898" stop-color="#ff3400"/><stop offset="0.7319" stop-color="#ff5900"/><stop offset="0.75" stop-color="#ff5d00"/><stop offset="0.8223" stop-color="#ff3c00"/><stop offset="0.8705" stop-color="#ff0200"/><stop offset="0.8765" stop-color="#fa0000"/><stop offset="0.8886" stop-color="#ef0000"/><stop offset="0.9066" stop-color="#ea0000"/><stop offset="0.9428" stop-color="#fb0000"/><stop offset="0.9669" stop-color="#ef0000"/><stop offset="0.9849" stop-color="#ff0000"/><stop offset="0.997" stop-color="#ff0900"/></linearGradient>
<linearGradient id="r157" gradientUnits="userSpaceOnUse" x1="144" x2="310" y1="0" y2="0"><stop offset="0.003012" stop-color="#ff1900"/><stop offset="0.03916" stop-color="#fe0000"/><stop offset="0.0512" stop-color="#fe0000"/><stop offset="0.08133" stop-color="#e80000"/><stop offset="0.0994" stop-color="#f50000"/><stop offset="0.1596" stop-color="#ef0000"/><stop offset="0.1777" stop-color="#ff0100"/><stop offset="0.1958" stop-color="#ff1d00"/><stop offset="0.238" stop-color="#ff4900"/><stop offset="0.2861" stop-color="#ff4a00"/><stop offset="0.3163" stop-color="#ff5c00"/><stop offset="0.3705" stop-color="#ff4200"/><stop offset="0.4307" stop-color="#ff5400"/><stop offset="0.4729" stop-color="#ff4300"/><stop offset="0.503" stop-color="#ff2b00"/><stop offset="0.5813" stop-color="#ff4500"/><stop offset="0.6235" stop-color="#ff2f00"/><stop offset="0.6536" stop-color="#ff3700"/><stop offset="0.6898" stop-color="#ff3000"/><stop offset="0.75" stop-color="#ff4e00"/><stop offset="0.8223" stop-color="#ff2c00"/><stop offset="0.8524" stop-color="#ff1400"/><stop offset="0.8645" stop-color="#ff0100"/><stop offset="0.8886" stop-color="#df0000"/><stop offset="0.9127" stop-color="#d90000"/><stop offset="0.9428" stop-color="#e90000"/><stop offset="0.9669" stop-color="#e50000"/><stop offset="0.991" stop-color="#ff0100"/><stop offset="0.997" stop-color="#ff0300"/></linearGradient>
<linearGradient id="r158" gradientUnits="userSpaceOnUse" x1="144" x2="310" y1="0" y2="0"><stop offset="0.003012" stop-color="#ff0b00"/><stop offset="0.02711" stop-color="#ff0000"/><stop offset="0.05723" stop-color="#ff0000"/><stop offset="0.08133" stop-color="#ec0000"/><stop offset="0.0994" stop-color="#f40000"/><stop offset="0.1295" stop-color="#e90000"/><stop offset="0.1596" stop-color="#eb0000"/><stop offset="0.1777" stop-color="#fd0000"/><stop offset="0.1837" stop-color="#ff0800"/><stop offset="0.244" stop-color="#ff4600"/><stop offset="0.2861" stop-color="#ff4400"/><stop offset="0.3163" stop-color="#ff5900"/><stop offset="0.3584" stop-color="#ff3d00"/><stop offset="0.4307" stop-color="#ff4c00"/><stop offset="0.4548" stop-color="#ff3b00"/><stop offset="0.4789" stop-color="#ff3900"/><stop offset="0.503" stop-color="#ff2300"/><stop offset="0.5331" stop-color="#ff2f00"/><stop offset="0.5572" stop-color="#ff2e00"/><stop offset="0.5813" stop-color="#ff3b00"/><stop offset="0.6235" stop-color="#ff2700"/><stop offset="0.6596" stop-color="#ff3100"/><stop offset="0.7199" stop-color="#ff2d00"/><stop offset="0.75" stop-color="#ff3c00"/><stop offset="0.8042" stop-color="#ff2600"/><stop offset="0.8584" stop-color="#ff0000"/><stop offset="0.8886" stop-color="#d00000"/><stop offset="0.9247" stop-color="#c30000"/><stop offset="0.9488" stop-color="#d80000"/><stop offset="0.9669" stop-color="#dc0000"/><stop offset="0.997" stop-color="#fb0000"/></linearGradient>
<linearGradient id="r159" gradientUnits="userSpaceOnUse" x1="144" x2="310" y1="0" y2="0"><stop offset="0.003012" stop-color="#ff0100"/><stop offset="0.06325" stop-color="#fe0000"/><stop offset="0.0753" stop-color="#f40000"/><stop offset="0.0994" stop-color="#f70000"/><stop offset="0.1355" stop-color="#e60000"/><stop offset="0.1596" stop-color="#ea0000"/><stop offset="0.1777" stop-color="#ff0100"/><stop offset="0.1958" stop-color="#ff1700"/><stop offset="0.2259" stop-color="#ff2800"/><stop offset="0.25" stop-color="#ff4500"/><stop offset="0.2861" stop-color="#ff3e00"/><stop offset="0.3163" stop-color="#ff5400"/><stop offset="0.3584" stop-color="#ff3800"/><stop offset="0.3886" stop-color="#ff4100"/><stop offset="0.4127" stop-color="#ff3b00"/><stop offset="0.4307" stop-color="#ff4000"/><stop offset="0.4548" stop-color="#ff3000"/><stop offset="0.4789" stop-color="#ff3300"/><stop offset="0.503" stop-color="#ff1f00"/><stop offset="0.5331" stop-color="#ff2800"/><stop offset="0.5572" stop-color="#ff2000"/><stop offset="0.5813" stop-color="#ff2d00"/><stop offset="0.6114" stop-color="#ff1d00"/><stop offset="0.6596" stop-color="#ff2900"/><stop offset="0.7018" stop-color="#ff2000"/><stop offset="0.7199" stop-color="#ff1500"/><stop offset="0.75" stop-color="#ff2a00"/><stop offset="0.7922" stop-color="#ff1f00"/><stop offset="0.8464" stop-color="#ff0100"/><stop offset="0.8825" stop-color="#cc0000"/><stop offset="0.9247" stop-color="#a10000"/><stop offset="0.9367" stop-color="#ab0000"/><stop offset="0.9488" stop-color="#c30000"/><stop offset="0.997" stop-color="#f40000"/></linearGradient>
<linearGradient id="r160" gradientUnits="userSpaceOnUse" x1="144" x2="310" y1="0" y2="0"><stop offset="0.003012" stop-color="#fe0000"/><stop offset="0.0512" stop-color="#ff0700"/><stop offset="0.06928" stop-color="#fc0000"/><stop offset="0.0994" stop-color="#fd0000"/><stop offset="0.1416" stop-color="#e60000"/><stop offset="0.1717" stop-color="#fd0000"/><stop offset="0.1777" stop-color="#ff0700"/><stop offset="0.1958" stop-color="#ff1900"/><stop offset="0.2259" stop-color="#ff2100"/><stop offset="0.256" stop-color="#ff4400"/><stop offset="0.2861" stop-color="#ff3800"/><stop offset="0.3163" stop-color="#ff4a00"/><stop offset="0.3584" stop-color="#ff3600"/><stop offset="0.3886" stop-color="#ff3f00"/><stop offset="0.4127" stop-color="#ff2d00"/><stop offset="0.4367" stop-color="#ff2f00"/><stop offset="0.4608" stop-color="#ff2200"/><stop offset="0.4789" stop-color="#ff2d00"/><stop offset="0.503" stop-color="#ff1f00"/><stop offset="0.5331" stop-color="#ff2200"/><stop offset="0.5572" stop-color="#ff1300"/><stop offset="0.5813" stop-color="#ff1e00"/><stop offset="0.6114" stop-color="#ff0c00"/><stop offset="0.6596" stop-color="#ff1f00"/><stop offset="0.6958" stop-color="#ff1200"/><stop offset="0.7139" stop-color="#ff0000"/><stop offset="0.7319" stop-color="#ff0300"/><stop offset="0.75" stop-color="#ff1700"/><stop offset="0.7922" stop-color="#ff1200"/><stop offset="0.8223" stop-color="#ff0000"/><stop offset="0.8584" stop-color="#e90000"/><stop offset="0.9006" stop-color="#b00000"/><stop offset="0.9127" stop-color="#910000"/><stop offset="0.9247" stop-color="#810000"/><stop offset="0.9367" stop-color="#880000"/><stop offset="0.9548" stop-color="#b60000"/><stop offset="0.997" stop-color="#ea0000"/></linearGradient>
<linearGradient id="r161" gradientUnits="userSpaceOnUse" x1="144" x2="310" y1="0" y2="0"><stop offset="0.003012" stop-color="#ff0400"/><stop offset="0.02711" stop-color="#fe0000"/><stop offset="0.0512" stop-color="#ff0800"/><stop offset="0.06928" stop-color="#ff0000"/><stop offset="0.09337" stop-color="#ff0600"/><stop offset="0.1054" stop-color="#ff0100"/><stop offset="0.1416" stop-color="#e80000"/><stop offset="0.1657" stop-color="#fb0000"/><stop offset="0.1717" stop-color="#ff0500"/><stop offset="0.1898" stop-color="#ff1800"/><stop offset="0.2259" stop-color="#ff1b00"/><stop offset="0.25" stop-color="#ff3b00"/><stop offset="0.262" stop-color="#ff4000"/><stop offset="0.2861" stop-color="#ff3000"/><stop offset="0.3283" stop-color="#ff3f00"/><stop offset="0.3584" stop-color="#ff3500"/><stop offset="0.3825" stop-color="#ff3c00"/><stop offset="0.4187" stop-color="#ff1d00"/><stop offset="0.4367" stop-color="#ff1f00"/><stop offset="0.4608" stop-color="#ff1500"/><stop offset="0.4849" stop-color="#ff2800"/><stop offset="0.5271" stop-color="#ff2000"/><stop offset="0.5572" stop-color="#ff0a00"/><stop offset="0.5813" stop-color="#ff1400"/><stop offset="0.6054" stop-color="#fd0000"/><stop offset="0.6175" stop-color="#fe0000"/><stop offset="0.6536" stop-color="#ff1500"/><stop offset="0.6958" stop-color="#ff0100"/><stop offset="0.7018" stop-color="#f90000"/><stop offset="0.7199" stop-color="#e40000"/><stop offset="0.7319" stop-color="#ec0000"/><stop offset="0.744" stop-color="#ff0000"/><stop offset="0.7982" stop-color="#ff0000"/><stop offset="0.8404" stop-color="#f10000"/><stop offset="0.8584" stop-color="#e20000"/><stop offset="0.8946" stop-color="#ae0000"/><stop offset="0.9127" stop-color="#770000"/><stop offset="0.9247" stop-color="#660000"/><stop offset="0.9367" stop-color="#6e0000"/><stop offset="0.9669" stop-color="#b60000"/><stop offset="0.997" stop-color="#df0000"/></linearGradient>
<linearGradient id="r162" gradientUnits="userSpaceOnUse" x1="144" x2="310" y1="0" y2="0"><stop offset="0.003012" stop-color="#ff0c00"/><stop offset="0.02108" stop-color="#ff0300"/><stop offset="0.0512" stop-color="#ff0900"/><stop offset="0.06928" stop-color="#ff0200"/><stop offset="0.09337" stop-color="#ff0a00"/><stop offset="0.1114" stop-color="#ff0200"/><stop offset="0.1175" stop-color="#fd0000"/><stop offset="0.1416" stop-color="#ed0000"/><stop offset="0.1657" stop-color="#ff0000"/><stop offset="0.1837" stop-color="#ff1500"/><stop offset="0.2259" stop-color="#ff1400"/><stop offset="0.25" stop-color="#ff3300"/><stop offset="0.262" stop-color="#ff3900"/><stop offset="0.2861" stop-color="#ff2800"/><stop offset="0.3343" stop-color="#ff3600"/><stop offset="0.3825" stop-color="#ff3700"/><stop offset="0.4187" stop-color="#ff1000"/><stop offset="0.4367" stop-color="#ff1100"/><stop offset="0.4548" stop-color="#ff0800"/><stop offset="0.491" stop-color="#ff2400"/><stop offset="0.5271" stop-color="#ff1c00"/><stop offset="0.5512" stop-color="#ff0700"/><stop offset="0.5813" stop-color="#ff0f00"/><stop offset="0.5873" stop-color="#ff0800"/><stop offset="0.5934" stop-color="#fe0000"/><stop offset="0.6114" stop-color="#f10000"/><stop offset="0.6295" stop-color="#ff0000"/><stop offset="0.6476" stop-color="#ff0a00"/><stop offset="0.6657" stop-color="#ff0200"/><stop offset="0.6717" stop-color="#fe0000"/><stop offset="0.6898" stop-color="#f60000"/><stop offset="0.7199" stop-color="#d30000"/><stop offset="0.75" stop-color="#f10000"/><stop offset="0.8223" stop-color="#f20000"/><stop offset="0.8464" stop-color="#e70000"/><stop offset="0.8705" stop-color="#ca0000"/><stop offset="0.8886" stop-color="#ad0000"/><stop offset="0.9127" stop-color="#620000"/><stop offset="0.9247" stop-color="#510000"/><stop offset="0.9367" stop-color="#590000"/><stop offset="0.9729" stop-color="#ac0000"/><stop offset="0.997" stop-color="#d20000"/></linearGradient>
<linearGradient id="r163" gradientUnits="userSpaceOnUse" x1="144" x2="310" y1="0" y2="0"><stop offset="0.003012" stop-color="#ff1100"/><stop offset="0.02711" stop-color="#ff0600"/><stop offset="0.09337" stop-color="#ff0b00"/><stop offset="0.1175" stop-color="#ff0100"/><stop offset="0.1235" stop-color="#fc0000"/><stop offset="0.1416" stop-color="#f20000"/><stop offset="0.1657" stop-color="#ff0000"/><stop offset="0.1837" stop-color="#ff0f00"/><stop offset="0.2259" stop-color="#ff0c00"/><stop offset="0.256" stop-color="#ff2e00"/><stop offset="0.2861" stop-color="#ff2100"/><stop offset="0.3765" stop-color="#ff3100"/><stop offset="0.3886" stop-color="#ff2a00"/><stop offset="0.4187" stop-color="#ff0400"/><stop offset="0.4548" stop-color="#fc0000"/><stop offset="0.4669" stop-color="#ff0200"/><stop offset="0.491" stop-color="#ff2100"/><stop offset="0.5211" stop-color="#ff1900"/><stop offset="0.5512" stop-color="#ff0500"/><stop offset="0.5753" stop-color="#ff1400"/><stop offset="0.5873" stop-color="#ff0600"/><stop offset="0.5934" stop-color="#fa0000"/><stop offset="0.6114" stop-color="#ed0000"/><stop offset="0.6476" stop-color="#fe0000"/><stop offset="0.6898" stop-color="#eb0000"/><stop offset="0.7139" stop-color="#cb0000"/><stop offset="0.7259" stop-color="#c70000"/><stop offset="0.75" stop-color="#dd0000"/><stop offset="0.7801" stop-color="#e40000"/><stop offset="0.7982" stop-color="#de0000"/><stop offset="0.8283" stop-color="#ea0000"/><stop offset="0.8705" stop-color="#c30000"/><stop offset="0.8886" stop-color="#9e0000"/><stop offset="0.9127" stop-color="#530000"/><stop offset="0.9247" stop-color="#460000"/><stop offset="0.9488" stop-color="#5e0000"/><stop offset="0.9849" stop-color="#b10000"/><stop offset="0.997" stop-color="#c20000"/></linearGradient>
<linearGradient id="r164" gradientUnits="userSpaceOnUse" x1="144" x2="310" y1="0" y2="0"><stop offset="0.003012" stop-color="#ff1200"/><stop offset="0.02711" stop-color="#ff0700"/><stop offset="0.1175" stop-color="#ff0100"/><stop offset="0.1416" stop-color="#f60000"/><stop offset="0.1717" stop-color="#ff0000"/><stop offset="0.2139" stop-color="#fe0000"/><stop offset="0.2259" stop-color="#ff0400"/><stop offset="0.256" stop-color="#ff2200"/><stop offset="0.2861" stop-color="#ff1a00"/><stop offset="0.3705" stop-color="#ff2a00"/><stop offset="0.3825" stop-color="#ff2600"/><stop offset="0.4066" stop-color="#ff0300"/><stop offset="0.4127" stop-color="#fb0000"/><stop offset="0.4187" stop-color="#f70000"/><stop offset="0.4428" stop-color="#fb0000"/><stop offset="0.4608" stop-color="#f50000"/><stop offset="0.4669" stop-color="#f90000"/><stop offset="0.4729" stop-color="#ff0400"/><stop offset="0.491" stop-color="#ff1c00"/><stop offset="0.5452" stop-color="#ff0200"/><stop offset="0.5753" stop-color="#ff1500"/><stop offset="0.5873" stop-color="#ff0500"/><stop offset="0.5934" stop-color="#fa0000"/><stop offset="0.6054" stop-color="#ee0000"/><stop offset="0.6416" stop-color="#f30000"/><stop offset="0.6837" stop-color="#e30000"/><stop offset="0.7139" stop-color="#c10000"/><stop offset="0.7259" stop-color="#bc0000"/><stop offset="0.7801" stop-color="#d00000"/><stop offset="0.7982" stop-color="#cb0000"/><stop offset="0.8283" stop-color="#dd0000"/><stop offset="0.8705" stop-color="#bb0000"/><stop offset="0.8825" stop-color="#9f0000"/><stop offset="0.9066" stop-color="#550000"/><stop offset="0.9247" stop-color="#450000"/><stop offset="0.9548" stop-color="#5a0000"/><stop offset="0.997" stop-color="#ad0000"/></linearGradient>
<linearGradient id="r165" gradientUnits="userSpaceOnUse" x1="144" x2="310" y1="0" y2="0"><stop offset="0.003012" stop-color="#ff0d00"/><stop offset="0.1054" stop-color="#ff0000"/><stop offset="0.2018" stop-color="#ef0000"/><stop offset="0.2259" stop-color="#fc0000"/><stop offset="0.2319" stop-color="#ff0400"/><stop offset="0.256" stop-color="#ff1700"/><stop offset="0.2801" stop-color="#ff1000"/><stop offset="0.3705" stop-color="#ff2300"/><stop offset="0.3825" stop-color="#ff1c00"/><stop offset="0.3946" stop-color="#ff0900"/><stop offset="0.4006" stop-color="#fe0000"/><stop offset="0.4187" stop-color="#ed0000"/><stop offset="0.4428" stop-color="#f50000"/><stop offset="0.4608" stop-color="#f20000"/><stop offset="0.4729" stop-color="#fd0000"/><stop offset="0.4789" stop-color="#ff0800"/><stop offset="0.491" stop-color="#ff1500"/><stop offset="0.5331" stop-color="#fe0000"/><stop offset="0.5512" stop-color="#ff0100"/><stop offset="0.5693" stop-color="#ff1200"/><stop offset="0.5873" stop-color="#ff0200"/><stop offset="0.5934" stop-color="#f90000"/><stop offset="0.6054" stop-color="#ef0000"/><stop offset="0.6295" stop-color="#ee0000"/><stop offset="0.6837" stop-color="#d40000"/><stop offset="0.7259" stop-color="#b00000"/><stop offset="0.7982" stop-color="#b60000"/><stop offset="0.8223" stop-color="#c70000"/><stop offset="0.8404" stop-color="#c60000"/><stop offset="0.8705" stop-color="#af0000"/><stop offset="0.9006" stop-color="#5b0000"/><stop offset="0.9066" stop-color="#4f0000"/><stop offset="0.9187" stop-color="#480000"/><stop offset="0.9608" stop-color="#5a0000"/><stop offset="0.997" stop-color="#8e0000"/></linearGradient>
<linearGradient id="r166" gradientUnits="userSpaceOnUse" x1="144" x2="310" y1="0" y2="0"><stop offset="0.003012" stop-color="#ff0900"/><stop offset="0.02711" stop-color="#ff0500"/><stop offset="0.05723" stop-color="#ff0d00"/><stop offset="0.0994" stop-color="#fc0000"/><stop offset="0.1476" stop-color="#fa0000"/><stop offset="0.2018" stop-color="#e50000"/><stop offset="0.2319" stop-color="#ff0000"/><stop offset="0.25" stop-color="#ff0e00"/><stop offset="0.2801" stop-color="#ff0600"/><stop offset="0.3283" stop-color="#ff1a00"/><stop offset="0.3705" stop-color="#ff1c00"/><stop offset="0.3886" stop-color="#ff0900"/><stop offset="0.3946" stop-color="#fd0000"/><stop offset="0.4187" stop-color="#e40000"/><stop offset="0.4669" stop-color="#f30000"/><stop offset="0.4789" stop-color="#ff0100"/><stop offset="0.491" stop-color="#ff0b00"/><stop offset="0.5151" stop-color="#fc0000"/><stop offset="0.5392" stop-color="#f60000"/><stop offset="0.5512" stop-color="#fb0000"/><stop offset="0.5572" stop-color="#ff0100"/><stop offset="0.5693" stop-color="#ff0800"/><stop offset="0.5813" stop-color="#ff0100"/><stop offset="0.5873" stop-color="#fa0000"/><stop offset="0.5994" stop-color="#f10000"/><stop offset="0.6295" stop-color="#e70000"/><stop offset="0.7319" stop-color="#9b0000"/><stop offset="0.7861" stop-color="#970000"/><stop offset="0.8283" stop-color="#af0000"/><stop offset="0.8404" stop-color="#b00000"/><stop offset="0.8705" stop-color="#9a0000"/><stop offset="0.8946" stop-color="#610000"/><stop offset="0.9127" stop-color="#4d0000"/><stop offset="0.9367" stop-color="#5e0000"/><stop offset="0.9729" stop-color="#570000"/><stop offset="0.997" stop-color="#730000"/></linearGradient>
<linearGradient id="r167" gradientUnits="userSpaceOnUse" x1="144" x2="310" y1="0" y2="0"><stop offset="0.003012" stop-color="#ff0800"/><stop offset="0.02711" stop-color="#ff0500"/><stop offset="0.05723" stop-color="#ff0f00"/><stop offset="0.09337" stop-color="#ff0000"/><stop offset="0.0994" stop-color="#fa0000"/><stop offset="0.1114" stop-color="#f20000"/><stop offset="0.1476" stop-color="#f90000"/><stop offset="0.1777" stop-color="#e30000"/><stop offset="0.1958" stop-color="#de0000"/><stop offset="0.2078" stop-color="#e20000"/><stop offset="0.2319" stop-color="#fd0000"/><stop offset="0.238" stop-color="#ff0400"/><stop offset="0.25" stop-color="#ff0900"/><stop offset="0.2861" stop-color="#fe0000"/><stop offset="0.3283" stop-color="#ff1400"/><stop offset="0.3645" stop-color="#ff1500"/><stop offset="0.3765" stop-color="#ff1100"/><stop offset="0.3886" stop-color="#ff0000"/><stop offset="0.4066" stop-color="#e50000"/><stop offset="0.4187" stop-color="#e00000"/><stop offset="0.491" stop-color="#fe0000"/><stop offset="0.5271" stop-color="#ee0000"/><stop offset="0.5693" stop-color="#fa0000"/><stop offset="0.6295" stop-color="#dd0000"/><stop offset="0.6536" stop-color="#bd0000"/><stop offset="0.7259" stop-color="#810000"/><stop offset="0.7801" stop-color="#790000"/><stop offset="0.8404" stop-color="#910000"/><stop offset="0.8645" stop-color="#890000"/><stop offset="0.8886" stop-color="#620000"/><stop offset="0.9066" stop-color="#530000"/><stop offset="0.9187" stop-color="#580000"/><stop offset="0.9367" stop-color="#6c0000"/><stop offset="0.9729" stop-color="#4e0000"/><stop offset="0.997" stop-color="#5e0000"/></linearGradient>
<linearGradient id="r168" gradientUnits="userSpaceOnUse" x1="144" x2="310" y1="0" y2="0"><stop offset="0.003012" stop-color="#ff0c00"/><stop offset="0.02711" stop-color="#ff0600"/><stop offset="0.05723" stop-color="#ff1000"/><stop offset="0.09337" stop-color="#ff0300"/><stop offset="0.0994" stop-color="#fb0000"/><stop offset="0.1175" stop-color="#ef0000"/><stop offset="0.1476" stop-color="#f70000"/><stop offset="0.1777" stop-color="#e00000"/><stop offset="0.1958" stop-color="#db0000"/><stop offset="0.2139" stop-color="#e30000"/><stop offset="0.238" stop-color="#ff0100"/><stop offset="0.2801" stop-color="#f60000"/><stop offset="0.2982" stop-color="#ff0000"/><stop offset="0.3223" stop-color="#ff0b00"/><stop offset="0.3645" stop-color="#ff0c00"/><stop offset="0.3825" stop-color="#ff0100"/><stop offset="0.3886" stop-color="#f80000"/><stop offset="0.4066" stop-color="#e20000"/><stop offset="0.4187" stop-color="#dd0000"/><stop offset="0.4488" stop-color="#ea0000"/><stop offset="0.497" stop-color="#f20000"/><stop offset="0.5211" stop-color="#e70000"/><stop offset="0.5633" stop-color="#ee0000"/><stop offset="0.6054" stop-color="#de0000"/><stop offset="0.6295" stop-color="#cd0000"/><stop offset="0.6596" stop-color="#a20000"/><stop offset="0.7259" stop-color="#660000"/><stop offset="0.7801" stop-color="#5f0000"/><stop offset="0.8283" stop-color="#740000"/><stop offset="0.8584" stop-color="#760000"/><stop offset="0.8825" stop-color="#5e0000"/><stop offset="0.9006" stop-color="#580000"/><stop offset="0.9127" stop-color="#5b0000"/><stop offset="0.9367" stop-color="#750000"/><stop offset="0.9428" stop-color="#750000"/><stop offset="0.9729" stop-color="#4f0000"/><stop offset="0.997" stop-color="#530000"/></linearGradient>
<linearGradient id="r169" gradientUnits="userSpaceOnUse" x1="144" x2="310" y1="0" y2="0"><stop offset="0.003012" stop-color="#ff1200"/><stop offset="0.02108" stop-color="#ff0900"/><stop offset="0.0512" stop-color="#ff1200"/><stop offset="0.08133" stop-color="#ff0f00"/><stop offset="0.0994" stop-color="#ff0000"/><stop offset="0.1114" stop-color="#ef0000"/><stop offset="0.1476" stop-color="#f40000"/><stop offset="0.2018" stop-color="#d90000"/><stop offset="0.2139" stop-color="#df0000"/><stop offset="0.238" stop-color="#fb0000"/><stop offset="0.25" stop-color="#ff0000"/><stop offset="0.2801" stop-color="#f40000"/><stop offset="0.3102" stop-color="#ff0100"/><stop offset="0.3705" stop-color="#ff0000"/><stop offset="0.4187" stop-color="#da0000"/><stop offset="0.4548" stop-color="#e50000"/><stop offset="0.4789" stop-color="#e00000"/><stop offset="0.5512" stop-color="#e40000"/><stop offset="0.6114" stop-color="#c90000"/><stop offset="0.6295" stop-color="#b70000"/><stop offset="0.6657" stop-color="#800000"/><stop offset="0.7259" stop-color="#510000"/><stop offset="0.7801" stop-color="#490000"/><stop offset="0.8584" stop-color="#660000"/><stop offset="0.8886" stop-color="#590000"/><stop offset="0.9127" stop-color="#630000"/><stop offset="0.9367" stop-color="#790000"/><stop offset="0.9488" stop-color="#730000"/><stop offset="0.9789" stop-color="#500000"/><stop offset="0.997" stop-color="#520000"/></linearGradient>
<linearGradient id="r170" gradientUnits="userSpaceOnUse" x1="144" x2="310" y1="0" y2="0"><stop offset="0.003012" stop-color="#ff1800"/><stop offset="0.02108" stop-color="#ff0d00"/><stop offset="0.04518" stop-color="#ff1500"/><stop offset="0.08735" stop-color="#ff1400"/><stop offset="0.0994" stop-color="#ff0500"/><stop offset="0.1054" stop-color="#f90000"/><stop offset="0.1175" stop-color="#ed0000"/><stop offset="0.1476" stop-color="#f20000"/><stop offset="0.2018" stop-color="#d90000"/><stop offset="0.2139" stop-color="#dc0000"/><stop offset="0.244" stop-color="#f80000"/><stop offset="0.2741" stop-color="#f40000"/><stop offset="0.3042" stop-color="#fb0000"/><stop offset="0.3765" stop-color="#f00000"/><stop offset="0.4247" stop-color="#d40000"/><stop offset="0.4548" stop-color="#de0000"/><stop offset="0.4849" stop-color="#d40000"/><stop offset="0.509" stop-color="#de0000"/><stop offset="0.5452" stop-color="#d90000"/><stop offset="0.6054" stop-color="#b90000"/><stop offset="0.6717" stop-color="#610000"/><stop offset="0.7199" stop-color="#440000"/><stop offset="0.7741" stop-color="#380000"/><stop offset="0.8404" stop-color="#4f0000"/><stop offset="0.8645" stop-color="#5f0000"/><stop offset="0.9006" stop-color="#640000"/><stop offset="0.9367" stop-color="#7b0000"/><stop offset="0.9488" stop-color="#770000"/><stop offset="0.9789" stop-color="#580000"/><stop offset="0.997" stop-color="#570000"/></linearGradient>
<linearGradient id="r171" gradientUnits="userSpaceOnUse" x1="144" x2="310" y1="0" y2="0"><stop offset="0.003012" stop-color="#ff1c00"/><stop offset="0.02108" stop-color="#ff1300"/><stop offset="0.08133" stop-color="#ff1c00"/><stop offset="0.09337" stop-color="#ff1400"/><stop offset="0.0994" stop-color="#ff0a00"/><stop offset="0.1054" stop-color="#fc0000"/><stop offset="0.1175" stop-color="#ed0000"/><stop offset="0.1536" stop-color="#ef0000"/><stop offset="0.2018" stop-color="#da0000"/><stop offset="0.2199" stop-color="#de0000"/><stop offset="0.244" stop-color="#f20000"/><stop offset="0.2982" stop-color="#fb0000"/><stop offset="0.3584" stop-color="#e40000"/><stop offset="0.4006" stop-color="#df0000"/><stop offset="0.4247" stop-color="#cf0000"/><stop offset="0.4548" stop-color="#d80000"/><stop offset="0.4849" stop-color="#cb0000"/><stop offset="0.5211" stop-color="#d70000"/><stop offset="0.5994" stop-color="#a30000"/><stop offset="0.6657" stop-color="#510000"/><stop offset="0.7741" stop-color="#2b0000"/><stop offset="0.7922" stop-color="#2f0000"/><stop offset="0.8223" stop-color="#450000"/><stop offset="0.8404" stop-color="#470000"/><stop offset="0.8765" stop-color="#670000"/><stop offset="0.9367" stop-color="#7d0000"/><stop offset="0.9849" stop-color="#5f0000"/><stop offset="0.997" stop-color="#5e0000"/></linearGradient>
<linearGradient id="r172" gradientUnits="userSpaceOnUse" x1="144" x2="310" y1="0" y2="0"><stop offset="0.003012" stop-color="#ff1f00"/><stop offset="0.02108" stop-color="#ff1900"/><stop offset="0.08133" stop-color="#ff2200"/><stop offset="0.09337" stop-color="#ff1800"/><stop offset="0.1054" stop-color="#ff0100"/><stop offset="0.1114" stop-color="#f50000"/><stop offset="0.1235" stop-color="#ec0000"/><stop offset="0.1536" stop-color="#ed0000"/><stop offset="0.2018" stop-color="#dc0000"/><stop offset="0.2922" stop-color="#fc0000"/><stop offset="0.3584" stop-color="#d90000"/><stop offset="0.4006" stop-color="#db0000"/><stop offset="0.4247" stop-color="#cb0000"/><stop offset="0.4488" stop-color="#d50000"/><stop offset="0.4849" stop-color="#c40000"/><stop offset="0.5151" stop-color="#cf0000"/><stop offset="0.5753" stop-color="#a00000"/><stop offset="0.6416" stop-color="#540000"/><stop offset="0.6596" stop-color="#470000"/><stop offset="0.6898" stop-color="#420000"/><stop offset="0.7741" stop-color="#210000"/><stop offset="0.7922" stop-color="#260000"/><stop offset="0.8223" stop-color="#410000"/><stop offset="0.8404" stop-color="#440000"/><stop offset="0.8825" stop-color="#700000"/><stop offset="0.9428" stop-color="#7f0000"/><stop offset="0.997" stop-color="#650000"/></linearGradient>
<linearGradient id="r173" gradientUnits="userSpaceOnUse" x1="144" x2="310" y1="0" y2="0"><stop offset="0.003012" stop-color="#ff2100"/><stop offset="0.08133" stop-color="#ff2600"/><stop offset="0.1054" stop-color="#ff0400"/><stop offset="0.1114" stop-color="#f80000"/><stop offset="0.1235" stop-color="#ee0000"/><stop offset="0.1958" stop-color="#df0000"/><stop offset="0.262" stop-color="#ea0000"/><stop offset="0.2922" stop-color="#fb0000"/><stop offset="0.3404" stop-color="#e20000"/><stop offset="0.3645" stop-color="#cd0000"/><stop offset="0.4006" stop-color="#d80000"/><stop offset="0.4247" stop-color="#c90000"/><stop offset="0.4608" stop-color="#d00000"/><stop offset="0.4849" stop-color="#bc0000"/><stop offset="0.5211" stop-color="#bb0000"/><stop offset="0.6416" stop-color="#420000"/><stop offset="0.6657" stop-color="#390000"/><stop offset="0.6958" stop-color="#3c0000"/><stop offset="0.7741" stop-color="#170000"/><stop offset="0.7861" stop-color="#1a0000"/><stop offset="0.8163" stop-color="#380000"/><stop offset="0.8464" stop-color="#470000"/><stop offset="0.8825" stop-color="#720000"/><stop offset="0.9428" stop-color="#810000"/><stop offset="0.997" stop-color="#6b0000"/></linearGradient>
<linearGradient id="r174" gradientUnits="userSpaceOnUse" x1="144" x2="310" y1="0" y2="0"><stop offset="0.003012" stop-color="#ff2000"/><stop offset="0.03916" stop-color="#ff2a00"/><stop offset="0.08133" stop-color="#ff2800"/><stop offset="0.09337" stop-color="#ff1e00"/><stop offset="0.1054" stop-color="#ff0800"/><stop offset="0.1114" stop-color="#fd0000"/><stop offset="0.1355" stop-color="#eb0000"/><stop offset="0.1898" stop-color="#e00000"/><stop offset="0.2319" stop-color="#ea0000"/><stop offset="0.262" stop-color="#e70000"/><stop offset="0.2982" stop-color="#f80000"/><stop offset="0.3404" stop-color="#e00000"/><stop offset="0.3645" stop-color="#c60000"/><stop offset="0.4006" stop-color="#d40000"/><stop offset="0.4247" stop-color="#c70000"/><stop offset="0.4608" stop-color="#ca0000"/><stop offset="0.4849" stop-color="#b10000"/><stop offset="0.5151" stop-color="#a70000"/><stop offset="0.5873" stop-color="#5e0000"/><stop offset="0.6355" stop-color="#390000"/><stop offset="0.6596" stop-color="#320000"/><stop offset="0.7078" stop-color="#380000"/><stop offset="0.7741" stop-color="#0f0000"/><stop offset="0.7861" stop-color="#120000"/><stop offset="0.8163" stop-color="#310000"/><stop offset="0.8404" stop-color="#3f0000"/><stop offset="0.8765" stop-color="#6c0000"/><stop offset="0.8946" stop-color="#770000"/><stop offset="0.9428" stop-color="#830000"/><stop offset="0.9669" stop-color="#800000"/><stop offset="0.997" stop-color="#700000"/></linearGradient>
<linearGradient id="r175" gradientUnits="userSpaceOnUse" x1="144" x2="310" y1="0" y2="0"><stop offset="0.003012" stop-color="#ff1c00"/><stop offset="0.03916" stop-color="#ff2900"/><stop offset="0.08133" stop-color="#ff2a00"/><stop offset="0.09337" stop-color="#ff2200"/><stop offset="0.1114" stop-color="#ff0200"/><stop offset="0.1175" stop-color="#f90000"/><stop offset="0.1416" stop-color="#e70000"/><stop offset="0.1837" stop-color="#e10000"/><stop offset="0.2259" stop-color="#ed0000"/><stop offset="0.262" stop-color="#e30000"/><stop offset="0.3042" stop-color="#f40000"/><stop offset="0.3404" stop-color="#df0000"/><stop offset="0.3645" stop-color="#c10000"/><stop offset="0.4066" stop-color="#d00000"/><stop offset="0.4307" stop-color="#c10000"/><stop offset="0.4669" stop-color="#b60000"/><stop offset="0.4789" stop-color="#a30000"/><stop offset="0.503" stop-color="#960000"/><stop offset="0.5813" stop-color="#4e0000"/><stop offset="0.6175" stop-color="#360000"/><stop offset="0.6536" stop-color="#2b0000"/><stop offset="0.7078" stop-color="#390000"/><stop offset="0.7741" stop-color="#090000"/><stop offset="0.7922" stop-color="#110000"/><stop offset="0.8464" stop-color="#420000"/><stop offset="0.8825" stop-color="#6f0000"/><stop offset="0.9066" stop-color="#7f0000"/><stop offset="0.9608" stop-color="#820000"/><stop offset="0.997" stop-color="#730000"/></linearGradient>
<linearGradient id="r176" gradientUnits="userSpaceOnUse" x1="144" x2="310" y1="0" y2="0"><stop offset="0.003012" stop-color="#ff1700"/><stop offset="0.08133" stop-color="#ff2c00"/><stop offset="0.09337" stop-color="#ff2400"/><stop offset="0.1114" stop-color="#ff0600"/><stop offset="0.1175" stop-color="#fb0000"/><stop offset="0.1416" stop-color="#e40000"/><stop offset="0.1837" stop-color="#e10000"/><stop offset="0.2259" stop-color="#ed0000"/><stop offset="0.2681" stop-color="#de0000"/><stop offset="0.2982" stop-color="#f20000"/><stop offset="0.3102" stop-color="#f10000"/><stop offset="0.3404" stop-color="#df0000"/><stop offset="0.3645" stop-color="#bd0000"/><stop offset="0.4127" stop-color="#c40000"/><stop offset="0.4789" stop-color="#870000"/><stop offset="0.5873" stop-color="#390000"/><stop offset="0.6476" stop-color="#250000"/><stop offset="0.7078" stop-color="#3a0000"/><stop offset="0.7741" stop-color="#050000"/><stop offset="0.7922" stop-color="#0c0000"/><stop offset="0.8404" stop-color="#380000"/><stop offset="0.8825" stop-color="#6d0000"/><stop offset="0.9066" stop-color="#810000"/><stop offset="0.9367" stop-color="#860000"/><stop offset="0.997" stop-color="#740000"/></linearGradient>
<linearGradient id="r177" gradientUnits="userSpaceOnUse" x1="144" x2="310" y1="0" y2="0"><stop offset="0.003012" stop-color="#ff1300"/><stop offset="0.08133" stop-color="#ff2c00"/><stop offset="0.09337" stop-color="#ff2400"/><stop offset="0.1114" stop-color="#ff0800"/><stop offset="0.1175" stop-color="#fc0000"/><stop offset="0.1416" stop-color="#e20000"/><stop offset="0.1898" stop-color="#df0000"/><stop offset="0.2319" stop-color="#ea0000"/><stop offset="0.2681" stop-color="#d70000"/><stop offset="0.2982" stop-color="#ee0000"/><stop offset="0.3102" stop-color="#ee0000"/><stop offset="0.3404" stop-color="#d90000"/><stop offset="0.3645" stop-color="#b70000"/><stop offset="0.4066" stop-color="#ae0000"/><stop offset="0.4729" stop-color="#6b0000"/><stop offset="0.503" stop-color="#600000"/><stop offset="0.5572" stop-color="#3b0000"/><stop offset="0.6114" stop-color="#240000"/><stop offset="0.6416" stop-color="#1f0000"/><stop offset="0.7078" stop-color="#3c0000"/><stop offset="0.7741" stop-color="#030000"/><stop offset="0.7922" stop-color="#090000"/><stop offset="0.8343" stop-color="#2e0000"/><stop offset="0.8886" stop-color="#710000"/><stop offset="0.9127" stop-color="#840000"/><stop offset="0.9307" stop-color="#870000"/><stop offset="0.997" stop-color="#730000"/></linearGradient>
<linearGradient id="r178" gradientUnits="userSpaceOnUse" x1="144" x2="310" y1="0" y2="0"><stop offset="0.003012" stop-color="#ff1100"/><stop offset="0.08133" stop-color="#ff2800"/><stop offset="0.0994" stop-color="#ff1a00"/><stop offset="0.1114" stop-color="#ff0900"/><stop offset="0.1175" stop-color="#fc0000"/><stop offset="0.1416" stop-color="#df0000"/><stop offset="0.2018" stop-color="#d80000"/><stop offset="0.2319" stop-color="#e30000"/><stop offset="0.2681" stop-color="#d20000"/><stop offset="0.3042" stop-color="#eb0000"/><stop offset="0.3404" stop-color="#ca0000"/><stop offset="0.3645" stop-color="#a90000"/><stop offset="0.3886" stop-color="#9d0000"/><stop offset="0.4729" stop-color="#470000"/><stop offset="0.503" stop-color="#490000"/><stop offset="0.5572" stop-color="#2e0000"/><stop offset="0.6295" stop-color="#1a0000"/><stop offset="0.6596" stop-color="#1e0000"/><stop offset="0.7078" stop-color="#3b0000"/><stop offset="0.756" stop-color="#0c0000"/><stop offset="0.7741" stop-color="#020000"/><stop offset="0.7922" stop-color="#070000"/><stop offset="0.8343" stop-color="#2a0000"/><stop offset="0.8946" stop-color="#750000"/><stop offset="0.9127" stop-color="#840000"/><stop offset="0.9307" stop-color="#860000"/><stop offset="0.997" stop-color="#710000"/></linearGradient>
<linearGradient id="r179" gradientUnits="userSpaceOnUse" x1="144" x2="310" y1="0" y2="0"><stop offset="0.003012" stop-color="#ff0d00"/><stop offset="0.0753" stop-color="#ff2000"/><stop offset="0.1114" stop-color="#ff0600"/><stop offset="0.1175" stop-color="#fa0000"/><stop offset="0.1355" stop-color="#df0000"/><stop offset="0.2018" stop-color="#cd0000"/><stop offset="0.238" stop-color="#db0000"/><stop offset="0.2741" stop-color="#ce0000"/><stop offset="0.3042" stop-color="#e30000"/><stop offset="0.3584" stop-color="#960000"/><stop offset="0.4066" stop-color="#6b0000"/><stop offset="0.4488" stop-color="#3a0000"/><stop offset="0.4729" stop-color="#290000"/><stop offset="0.509" stop-color="#360000"/><stop offset="0.5934" stop-color="#190000"/><stop offset="0.6355" stop-color="#150000"/><stop offset="0.6596" stop-color="#1b0000"/><stop offset="0.7078" stop-color="#370000"/><stop offset="0.756" stop-color="#0b0000"/><stop offset="0.7801" stop-color="#020000"/><stop offset="0.8343" stop-color="#250000"/><stop offset="0.8946" stop-color="#710000"/><stop offset="0.9127" stop-color="#800000"/><stop offset="0.9307" stop-color="#830000"/><stop offset="0.997" stop-color="#6f0000"/></linearGradient>
<linearGradient id="r180" gradientUnits="userSpaceOnUse" x1="144" x2="310" y1="0" y2="0"><stop offset="0.003012" stop-color="#ff0700"/><stop offset="0.0753" stop-color="#ff1700"/><stop offset="0.1114" stop-color="#fe0000"/><stop offset="0.1355" stop-color="#db0000"/><stop offset="0.1837" stop-color="#c40000"/><stop offset="0.2078" stop-color="#c20000"/><stop offset="0.244" stop-color="#d50000"/><stop offset="0.2741" stop-color="#ce0000"/><stop offset="0.2982" stop-color="#db0000"/><stop offset="0.3042" stop-color="#d70000"/><stop offset="0.3343" stop-color="#980000"/><stop offset="0.3524" stop-color="#7c0000"/><stop offset="0.4066" stop-color="#4b0000"/><stop offset="0.4247" stop-color="#320000"/><stop offset="0.4669" stop-color="#150000"/><stop offset="0.509" stop-color="#280000"/><stop offset="0.5934" stop-color="#130000"/><stop offset="0.6355" stop-color="#110000"/><stop offset="0.7078" stop-color="#300000"/><stop offset="0.756" stop-color="#090000"/><stop offset="0.7801" stop-color="#010000"/><stop offset="0.8343" stop-color="#210000"/><stop offset="0.9127" stop-color="#7b0000"/><stop offset="0.9307" stop-color="#7e0000"/><stop offset="0.997" stop-color="#6c0000"/></linearGradient>
<linearGradient id="r181" gradientUnits="userSpaceOnUse" x1="144" x2="310" y1="0" y2="0"><stop offset="0.003012" stop-color="#fc0000"/><stop offset="0.06928" stop-color="#ff0c00"/><stop offset="0.08735" stop-color="#ff0000"/><stop offset="0.09337" stop-color="#fa0000"/><stop offset="0.1114" stop-color="#f20000"/><stop offset="0.1355" stop-color="#d40000"/><stop offset="0.1837" stop-color="#b80000"/><stop offset="0.2078" stop-color="#b80000"/><stop offset="0.25" stop-color="#d40000"/><stop offset="0.2922" stop-color="#d50000"/><stop offset="0.3042" stop-color="#c70000"/><stop offset="0.3223" stop-color="#920000"/><stop offset="0.3464" stop-color="#5e0000"/><stop offset="0.3825" stop-color="#3a0000"/><stop offset="0.4066" stop-color="#300000"/><stop offset="0.4247" stop-color="#1b0000"/><stop offset="0.4608" stop-color="#090000"/><stop offset="0.5151" stop-color="#1d0000"/><stop offset="0.5873" stop-color="#0f0000"/><stop offset="0.6355" stop-color="#0e0000"/><stop offset="0.7078" stop-color="#290000"/><stop offset="0.762" stop-color="#050000"/><stop offset="0.7861" stop-color="#020000"/><stop offset="0.8343" stop-color="#1e0000"/><stop offset="0.9006" stop-color="#6a0000"/><stop offset="0.9187" stop-color="#770000"/><stop offset="0.997" stop-color="#680000"/></linearGradient>
<linearGradient id="r182" gradientUnits="userSpaceOnUse" x1="144" x2="310" y1="0" y2="0"><stop offset="0.003012" stop-color="#f10000"/><stop offset="0.03313" stop-color="#ff0000"/><stop offset="0.0753" stop-color="#fd0000"/><stop offset="0.1837" stop-color="#ad0000"/><stop offset="0.2078" stop-color="#af0000"/><stop offset="0.256" stop-color="#d50000"/><stop offset="0.2861" stop-color="#d40000"/><stop offset="0.2982" stop-color="#c50000"/><stop offset="0.3223" stop-color="#710000"/><stop offset="0.3464" stop-color="#3b0000"/><stop offset="0.3825" stop-color="#200000"/><stop offset="0.4066" stop-color="#1c0000"/><stop offset="0.4548" stop-color="#000000"/><stop offset="0.5151" stop-color="#150000"/><stop offset="0.6295" stop-color="#0a0000"/><stop offset="0.7018" stop-color="#230000"/><stop offset="0.762" stop-color="#040000"/><stop offset="0.7861" stop-color="#010000"/><stop offset="0.8343" stop-color="#1b0000"/><stop offset="0.9187" stop-color="#6f0000"/><stop offset="0.9367" stop-color="#720000"/><stop offset="0.997" stop-color="#650000"/></linearGradient>
<linearGradient id="r183" gradientUnits="userSpaceOnUse" x1="144" x2="310" y1="0" y2="0"><stop offset="0.003012" stop-color="#e80000"/><stop offset="0.03916" stop-color="#fc0000"/><stop offset="0.06325" stop-color="#f80000"/><stop offset="0.09337" stop-color="#db0000"/><stop offset="0.1476" stop-color="#bf0000"/><stop offset="0.1837" stop-color="#a10000"/><stop offset="0.1958" stop-color="#9d0000"/><stop offset="0.2078" stop-color="#a30000"/><stop offset="0.25" stop-color="#d00000"/><stop offset="0.2801" stop-color="#d70000"/><stop offset="0.2922" stop-color="#c80000"/><stop offset="0.2982" stop-color="#b80000"/><stop offset="0.3223" stop-color="#500000"/><stop offset="0.3404" stop-color="#270000"/><stop offset="0.3825" stop-color="#0f0000"/><stop offset="0.4066" stop-color="#0e0000"/><stop offset="0.4367" stop-color="#010000"/><stop offset="0.4789" stop-color="#000000"/><stop offset="0.5151" stop-color="#0e0000"/><stop offset="0.6295" stop-color="#080000"/><stop offset="0.7018" stop-color="#1d0000"/><stop offset="0.762" stop-color="#030000"/><stop offset="0.7861" stop-color="#010000"/><stop offset="0.8343" stop-color="#190000"/><stop offset="0.9187" stop-color="#680000"/><stop offset="0.9428" stop-color="#6c0000"/><stop offset="0.997" stop-color="#610000"/></linearGradient>
<linearGradient id="r184" gradientUnits="userSpaceOnUse" x1="144" x2="310" y1="0" y2="0"><stop offset="0.003012" stop-color="#e30000"/><stop offset="0.03916" stop-color="#f80000"/><stop offset="0.05723" stop-color="#f50000"/><stop offset="0.09337" stop-color="#cf0000"/><stop offset="0.1536" stop-color="#b80000"/><stop offset="0.1837" stop-color="#900000"/><stop offset="0.1958" stop-color="#880000"/><stop offset="0.2139" stop-color="#970000"/><stop offset="0.244" stop-color="#c70000"/><stop offset="0.2681" stop-color="#d60000"/><stop offset="0.2801" stop-color="#d50000"/><stop offset="0.2922" stop-color="#be0000"/><stop offset="0.3163" stop-color="#4c0000"/><stop offset="0.3283" stop-color="#230000"/><stop offset="0.3464" stop-color="#0c0000"/><stop offset="0.3825" stop-color="#040000"/><stop offset="0.4789" stop-color="#000000"/><stop offset="0.5211" stop-color="#090000"/><stop offset="0.5873" stop-color="#030000"/><stop offset="0.7018" stop-color="#180000"/><stop offset="0.7861" stop-color="#000000"/><stop offset="0.8343" stop-color="#170000"/><stop offset="0.9247" stop-color="#640000"/><stop offset="0.9428" stop-color="#670000"/><stop offset="0.997" stop-color="#5d0000"/></linearGradient>
<linearGradient id="r185" gradientUnits="userSpaceOnUse" x1="144" x2="310" y1="0" y2="0"><stop offset="0.003012" stop-color="#e20000"/><stop offset="0.04518" stop-color="#f40000"/><stop offset="0.06325" stop-color="#e90000"/><stop offset="0.08735" stop-color="#cb0000"/><stop offset="0.1476" stop-color="#ba0000"/><stop offset="0.1596" stop-color="#af0000"/><stop offset="0.1837" stop-color="#7c0000"/><stop offset="0.1958" stop-color="#720000"/><stop offset="0.2139" stop-color="#820000"/><stop offset="0.244" stop-color="#c10000"/><stop offset="0.2741" stop-color="#d30000"/><stop offset="0.2861" stop-color="#c30000"/><stop offset="0.2922" stop-color="#ad0000"/><stop offset="0.3102" stop-color="#510000"/><stop offset="0.3223" stop-color="#210000"/><stop offset="0.3343" stop-color="#0a0000"/><stop offset="0.3464" stop-color="#000000"/><stop offset="0.5151" stop-color="#060000"/><stop offset="0.5873" stop-color="#000000"/><stop offset="0.7018" stop-color="#130000"/><stop offset="0.7861" stop-color="#000000"/><stop offset="0.8343" stop-color="#150000"/><stop offset="0.9247" stop-color="#5d0000"/><stop offset="0.9428" stop-color="#610000"/><stop offset="0.997" stop-color="#580000"/></linearGradient>
<linearGradient id="r186" gradientUnits="userSpaceOnUse" x1="144" x2="310" y1="0" y2="0"><stop offset="0.003012" stop-color="#e80000"/><stop offset="0.04518" stop-color="#ef0000"/><stop offset="0.08735" stop-color="#c70000"/><stop offset="0.1476" stop-color="#b70000"/><stop offset="0.1596" stop-color="#a70000"/><stop offset="0.1837" stop-color="#6a0000"/><stop offset="0.1958" stop-color="#600000"/><stop offset="0.2139" stop-color="#6f0000"/><stop offset="0.238" stop-color="#ab0000"/><stop offset="0.25" stop-color="#c10000"/><stop offset="0.2741" stop-color="#cd0000"/><stop offset="0.2861" stop-color="#b60000"/><stop offset="0.3042" stop-color="#570000"/><stop offset="0.3163" stop-color="#240000"/><stop offset="0.3283" stop-color="#080000"/><stop offset="0.3404" stop-color="#000000"/><stop offset="0.5994" stop-color="#000000"/><stop offset="0.7018" stop-color="#0e0000"/><stop offset="0.7861" stop-color="#000000"/><stop offset="0.8343" stop-color="#130000"/><stop offset="0.9247" stop-color="#560000"/><stop offset="0.997" stop-color="#540000"/></linearGradient>
<linearGradient id="r187" gradientUnits="userSpaceOnUse" x1="144" x2="310" y1="0" y2="0"><stop offset="0.003012" stop-color="#f10000"/><stop offset="0.04518" stop-color="#eb0000"/><stop offset="0.08133" stop-color="#c80000"/><stop offset="0.1054" stop-color="#c90000"/><stop offset="0.1295" stop-color="#b60000"/><stop offset="0.1476" stop-color="#b30000"/><stop offset="0.1596" stop-color="#9d0000"/><stop offset="0.1777" stop-color="#690000"/><stop offset="0.1958" stop-color="#550000"/><stop offset="0.2078" stop-color="#590000"/><stop offset="0.2199" stop-color="#6b0000"/><stop offset="0.244" stop-color="#ac0000"/><stop offset="0.256" stop-color="#c40000"/><stop offset="0.2681" stop-color="#cd0000"/><stop offset="0.2741" stop-color="#c90000"/><stop offset="0.2801" stop-color="#bd0000"/><stop offset="0.2861" stop-color="#a70000"/><stop offset="0.3042" stop-color="#420000"/><stop offset="0.3102" stop-color="#280000"/><stop offset="0.3223" stop-color="#0b0000"/><stop offset="0.3343" stop-color="#000000"/><stop offset="0.6054" stop-color="#000000"/><stop offset="0.7018" stop-color="#0b0000"/><stop offset="0.7922" stop-color="#010000"/><stop offset="0.8404" stop-color="#150000"/><stop offset="0.9247" stop-color="#500000"/><stop offset="0.997" stop-color="#4f0000"/></linearGradient>
<linearGradient id="r188" gradientUnits="userSpaceOnUse" x1="144" x2="310" y1="0" y2="0"><stop offset="0.003012" stop-color="#fb0000"/><stop offset="0.04518" stop-color="#e90000"/><stop offset="0.0753" stop-color="#c90000"/><stop offset="0.1054" stop-color="#ce0000"/><stop offset="0.1295" stop-color="#b30000"/><stop offset="0.1476" stop-color="#ac0000"/><stop offset="0.1536" stop-color="#a20000"/><stop offset="0.1777" stop-color="#5f0000"/><stop offset="0.1958" stop-color="#4f0000"/><stop offset="0.2078" stop-color="#510000"/><stop offset="0.2199" stop-color="#5e0000"/><stop offset="0.2319" stop-color="#770000"/><stop offset="0.256" stop-color="#bf0000"/><stop offset="0.2681" stop-color="#ca0000"/><stop offset="0.2801" stop-color="#b40000"/><stop offset="0.3042" stop-color="#330000"/><stop offset="0.3102" stop-color="#1b0000"/><stop offset="0.3283" stop-color="#000000"/><stop offset="0.6295" stop-color="#000000"/><stop offset="0.7018" stop-color="#070000"/><stop offset="0.7922" stop-color="#000000"/><stop offset="0.8404" stop-color="#140000"/><stop offset="0.9247" stop-color="#4a0000"/><stop offset="0.997" stop-color="#4b0000"/></linearGradient>
<linearGradient id="r189" gradientUnits="userSpaceOnUse" x1="144" x2="310" y1="0" y2="0"><stop offset="0.003012" stop-color="#ff0200"/><stop offset="0.03916" stop-color="#ed0000"/><stop offset="0.0753" stop-color="#c70000"/><stop offset="0.0994" stop-color="#d20000"/><stop offset="0.1114" stop-color="#cc0000"/><stop offset="0.1295" stop-color="#b10000"/><stop offset="0.1476" stop-color="#a30000"/><stop offset="0.1536" stop-color="#980000"/><stop offset="0.1717" stop-color="#630000"/><stop offset="0.1898" stop-color="#4d0000"/><stop offset="0.2078" stop-color="#4c0000"/><stop offset="0.2259" stop-color="#5c0000"/><stop offset="0.238" stop-color="#790000"/><stop offset="0.256" stop-color="#b60000"/><stop offset="0.2681" stop-color="#c10000"/><stop offset="0.2741" stop-color="#b80000"/><stop offset="0.2801" stop-color="#a40000"/><stop offset="0.3042" stop-color="#270000"/><stop offset="0.3163" stop-color="#090000"/><stop offset="0.3283" stop-color="#000000"/><stop offset="0.7922" stop-color="#000000"/><stop offset="0.8343" stop-color="#0f0000"/><stop offset="0.9247" stop-color="#440000"/><stop offset="0.997" stop-color="#470000"/></linearGradient>
<linearGradient id="r190" gradientUnits="userSpaceOnUse" x1="144" x2="310" y1="0" y2="0"><stop offset="0.003012" stop-color="#ff0500"/><stop offset="0.03916" stop-color="#ec0000"/><stop offset="0.0753" stop-color="#c60000"/><stop offset="0.1054" stop-color="#d40000"/><stop offset="0.1295" stop-color="#af0000"/><stop offset="0.1476" stop-color="#9c0000"/><stop offset="0.1717" stop-color="#5c0000"/><stop offset="0.1898" stop-color="#4b0000"/><stop offset="0.2139" stop-color="#4b0000"/><stop offset="0.2259" stop-color="#550000"/><stop offset="0.238" stop-color="#6f0000"/><stop offset="0.256" stop-color="#a90000"/><stop offset="0.262" stop-color="#b60000"/><stop offset="0.2681" stop-color="#b70000"/><stop offset="0.2801" stop-color="#960000"/><stop offset="0.3042" stop-color="#1e0000"/><stop offset="0.3163" stop-color="#060000"/><stop offset="0.3283" stop-color="#000000"/><stop offset="0.7922" stop-color="#000000"/><stop offset="0.8343" stop-color="#0f0000"/><stop offset="0.9247" stop-color="#410000"/><stop offset="0.997" stop-color="#450000"/></linearGradient>
</defs>
<rect width="448" height="252" fill="#fff"/>
<g clip-path="url(#cp)" shape-rendering="crispEdges">
<rect x="144" y="24" width="166" height="1" fill="url(#r0)"/>
<rect x="144" y="25" width="166" height="1" fill="url(#r1)"/>
<rect x="144" y="26" width="166" height="1" fill="url(#r2)"/>
<rect x="144" y="27" width="166" height="1" fill="url(#r3)"/>
<rect x="144" y="28" width="166" height="1" fill="url(#r4)"/>
<rect x="144" y="29" width="166" height="1" fill="url(#r5)"/>
<rect x="144" y="30" width="166" height="1" fill="url(#r6)"/>
<rect x="144" y="31" width="166" height="1" fill="url(#r7)"/>
<rect x="144" y="32" width="166" height="1" fill="url(#r8)"/>
<rect x="144" y="33" width="166" height="1" fill="url(#r9)"/>
<rect x="144" y="34" width="166" height="1" fill="url(#r10)"/>
<rect x="144" y="35" width="166" height="1" fill="url(#r11)"/>
<rect x="144" y="36" width="166" height="1" fill="url(#r12)"/>
<rect x="144" y="37" width="166" height="1" fill="url(#r13)"/>
<rect x="144" y="38" width="166" height="1" fill="url(#r14)"/>
<rect x="144" y="39" width="166" height="1" fill="url(#r15)"/>
<rect x="144" y="40" width="166" height="1" fill="url(#r16)"/>
<rect x="144" y="41" width="166" height="1" fill="url(#r17)"/>
<rect x="144" y="42" width="166" height="1" fill="url(#r18)"/>
<rect x="144" y="43" width="166" height="1" fill="url(#r19)"/>
<rect x="144" y="44" width="166" height="1" fill="url(#r20)"/>
<rect x="144" y="45" width="166" height="1" fill="url(#r21)"/>
<rect x="144" y="46" width="166" height="1" fill="url(#r22)"/>
<rect x="144" y="47" width="166" height="1" fill="url(#r23)"/>
<rect x="144" y="48" width="166" height="1" fill="url(#r24)"/>
<rect x="144" y="49" width="166" height="1" fill="url(#r25)"/>
<rect x="144" y="50" width="166" height="1" fill="url(#r26)"/>
<rect x="144" y="51" width="166" height="1" fill="url(#r27)"/>
<rect x="144" y="52" width="166" height="1" fill="url(#r28)"/>
<rect x="144" y="53" width="166" height="1" fill="url(#r29)"/>
<rect x="144" y="54" width="166" height="1" fill="url(#r30)"/>
<rect x="144" y="55" width="166" height="1" fill="url(#r31)"/>
<rect x="144" y="56" width="166" height="1" fill="url(#r32)"/>
<rect x="144" y="57" width="166" height="1" fill="url(#r33)"/>
<rect x="144" y="58" width="166" height="1" fill="url(#r34)"/>
<rect x="144" y="59" width="166" height="1" fill="url(#r35)"/>
<rect x="144" y="60" width="166" height="1" fill="url(#r36)"/>
<rect x="144" y="61" width="166" height="1" fill="url(#r37)"/>
<rect x="144" y="62" width="166" height="1" fill="url(#r38)"/>
<rect x="144" y="63" width="166" height="1" fill="url(#r39)"/>
<rect x="144" y="64" width="166" height="1" fill="url(#r40)"/>
<rect x="144" y="65" width="166" height="1" fill="url(#r41)"/>
<rect x="144" y="66" width="166" height="1" fill="url(#r42)"/>
<rect x="144" y="67" width="166" height="1" fill="url(#r43)"/>
<rect x="144" y="68" width="166" height="1" fill="url(#r44)"/>
<rect x="144" y="69" width="166" height="1" fill="url(#r45)"/>
<rect x="144" y="70" width="166" height="1" fill="url(#r46)"/>
<rect x="144" y="71" width="166" height="1" fill="url(#r47)"/>
<rect x="144" y="72" width="166" height="1" fill="url(#r48)"/>
<rect x="144" y="73" width="166" height="1" fill="url(#r49)"/>
<rect x="144" y="74" width="166" height="1" fill="url(#r50)"/>
<rect x="144" y="75" width="166" height="1" fill="url(#r51)"/>
<rect x="144" y="76" width="166" height="1" fill="url(#r52)"/>
<rect x="144" y="77" width="166" height="1" fill="url(#r53)"/>
<rect x="144" y="78" width="166" height="1" fill="url(#r54)"/>
<rect x="144" y="79" width="166" height="1" fill="url(#r55)"/>
<rect x="144" y="80" width="166" height="1" fill="url(#r56)"/>
<rect x="144" y="81" width="166" height="1" fill="url(#r57)"/>
<rect x="144" y="82" width="166" height="1" fill="url(#r58)"/>
<rect x="144" y="83" width="166" height="1" fill="url(#r59)"/>
<rect x="144" y="84" width="166" height="1" fill="url(#r60)"/>
<rect x="144" y="85" width="166" height="1" fill="url(#r61)"/>
<rect x="144" y="86" width="166" height="1" fill="url(#r62)"/>
<rect x="144" y="87" width="166" height="1" fill="url(#r63)"/>
<rect x="144" y="88" width="166" height="1" fill="url(#r64)"/>
<rect x="144" y="89" width="166" height="1" fill="url(#r65)"/>
<rect x="144" y="90" width="166" height="1" fill="url(#r66)"/>
<rect x="144" y="91" width="166" height="1" fill="url(#r67)"/>
<rect x="144" y="92" width="166" height="1" fill="url(#r68)"/>
<rect x="144" y="93" width="166" height="1" fill="url(#r69)"/>
<rect x="144" y="94" width="166" height="1" fill="url(#r70)"/>
<rect x="144" y="95" width="166" height="1" fill="url(#r71)"/>
<rect x="144" y="96" width="166" height="1" fill="url(#r72)"/>
<rect x="144" y="97" width="166" height="1" fill="url(#r73)"/>
<rect x="144" y="98" width="166" height="1" fill="url(#r74)"/>
<rect x="144" y="99" width="166" height="1" fill="url(#r75)"/>
<rect x="144" y="100" width="166" height="1" fill="url(#r76)"/>
<rect x="144" y="101" width="166" height="1" fill="url(#r77)"/>
<rect x="144" y="102" width="166" height="1" fill="url(#r78)"/>
<rect x="144" y="103" width="166" height="1" fill="url(#r79)"/>
<rect x="144" y="104" width="166" height="1" fill="url(#r80)"/>
<rect x="144" y="105" width="166" height="1" fill="url(#r81)"/>
<rect x="144" y="106" width="166" height="1" fill="url(#r82)"/>
<rect x="144" y="107" width="166" height="1" fill="url(#r83)"/>
<rect x="144" y="108" width="166" height="1" fill="url(#r84)"/>
<rect x="144" y="109" width="166" height="1" fill="url(#r85)"/>
<rect x="144" y="110" width="166" height="1" fill="url(#r86)"/>
<rect x="144" y="111" width="166" height="1" fill="url(#r87)"/>
<rect x="144" y="112" width="166" height="1" fill="url(#r88)"/>
<rect x="144" y="113" width="166" height="1" fill="url(#r89)"/>
<rect x="144" y="114" width="166" height="1" fill="url(#r90)"/>
<rect x="144" y="115" width="166" height="1" fill="url(#r91)"/>
<rect x="144" y="116" width="166" height="1" fill="url(#r92)"/>
<rect x="144" y="117" width="166" height="1" fill="url(#r93)"/>
<rect x="144" y="118" width="166" height="1" fill="url(#r94)"/>
<rect x="144" y="119" width="166" height="1" fill="url(#r95)"/>
<rect x="144" y="120" width="166" height="1" fill="url(#r96)"/>
<rect x="144" y="121" width="166" height="1" fill="url(#r97)"/>
<rect x="144" y="122" width="166" height="1" fill="url(#r98)"/>
<rect x="144" y="123" width="166" height="1" fill="url(#r99)"/>
<rect x="144" y="124" width="166" height="1" fill="url(#r100)"/>
<rect x="144" y="125" width="166" height="1" fill="url(#r101)"/>
<rect x="144" y="126" width="166" height="1" fill="url(#r102)"/>
<rect x="144" y="127" width="166" height="1" fill="url(#r103)"/>
<rect x="144" y="128" width="166" height="1" fill="url(#r104)"/>
<rect x="144" y="129" width="166" height="1" fill="url(#r105)"/>
<rect x="144" y="130" width="166" height="1" fill="url(#r106)"/>
<rect x="144" y="131" width="166" height="1" fill="url(#r107)"/>
<rect x="144" y="132" width="166" height="1" fill="url(#r108)"/>
<rect x="144" y="133" width="166" height="1" fill="url(#r109)"/>
<rect x="144" y="134" width="166" height="1" fill="url(#r110)"/>
<rect x="144" y="135" width="166" height="1" fill="url(#r111)"/>
<rect x="144" y="136" width="166" height="1" fill="url(#r112)"/>
<rect x="144" y="137" width="166" height="1" fill="url(#r113)"/>
<rect x="144" y="138" width="166" height="1" fill="url(#r114)"/>
<rect x="144" y="139" width="166" height="1" fill="url(#r115)"/>
<rect x="144" y="140" width="166" height="1" fill="url(#r116)"/>
<rect x="144" y="141" width="166" height="1" fill="url(#r117)"/>
<rect x="144" y="142" width="166" height="1" fill="url(#r118)"/>
<rect x="144" y="143" width="166" height="1" fill="url(#r119)"/>
<rect x="144" y="144" width="166" height="1" fill="url(#r120)"/>
<rect x="144" y="145" width="166" height="1" fill="url(#r121)"/>
<rect x="144" y="146" width="166" height="1" fill="url(#r122)"/>
<rect x="144" y="147" width="166" height="1" fill="url(#r123)"/>
<rect x="144" y="148" width="166" height="1" fill="url(#r124)"/>
<rect x="144" y="149" width="166" height="1" fill="url(#r125)"/>
<rect x="144" y="150" width="166" height="1" fill="url(#r126)"/>
<rect x="144" y="151" width="166" height="1" fill="url(#r127)"/>
<rect x="144" y="152" width="166" height="1" fill="url(#r128)"/>
<rect x="144" y="153" width="166" height="1" fill="url(#r129)"/>
<rect x="144" y="154" width="166" height="1" fill="url(#r130)"/>
<rect x="144" y="155" width="166" height="1" fill="url(#r131)"/>
<rect x="144" y="156" width="166" height="1" fill="url(#r132)"/>
<rect x="144" y="157" width="166" height="1" fill="url(#r133)"/>
<rect x="144" y="158" width="166" height="1" fill="url(#r134)"/>
<rect x="144" y="159" width="166" height="1" fill="url(#r135)"/>
<rect x="144" y="160" width="166" height="1" fill="url(#r136)"/>
<rect x="144" y="161" width="166" height="1" fill="url(#r137)"/>
<rect x="144" y="162" width="166" height="1" fill="url(#r138)"/>
<rect x="144" y="163" width="166" height="1" fill="url(#r139)"/>
<rect x="144" y="164" width="166" height="1" fill="url(#r140)"/>
<rect x="144" y="165" width="166" height="1" fill="url(#r141)"/>
<rect x="144" y="166" width="166" height="1" fill="url(#r142)"/>
<rect x="144" y="167" width="166" height="1" fill="url(#r143)"/>
<rect x="144" y="168" width="166" height="1" fill="url(#r144)"/>
<rect x="144" y="169" width="166" height="1" fill="url(#r145)"/>
<rect x="144" y="170" width="166" height="1" fill="url(#r146)"/>
<rect x="144" y="171" width="166" height="1" fill="url(#r147)"/>
<rect x="144" y="172" width="166" height="1" fill="url(#r148)"/>
<rect x="144" y="173" width="166" height="1" fill="url(#r149)"/>
<rect x="144" y="174" width="166" height="1" fill="url(#r150)"/>
<rect x="144" y="175" width="166" height="1" fill="url(#r151)"/>
<rect x="144" y="176" width="166" height="1" fill="url(#r152)"/>
<rect x="144" y="177" width="166" height="1" fill="url(#r153)"/>
<rect x="144" y="178" width="166" height="1" fill="url(#r154)"/>
<rect x="144" y="179" width="166" height="1" fill="url(#r155)"/>
<rect x="144" y="180" width="166" height="1" fill="url(#r156)"/>
<rect x="144" y="181" width="166" height="1" fill="url(#r157)"/>
<rect x="144" y="182" width="166" height="1" fill="url(#r158)"/>
<rect x="144" y="183" width="166" height="1" fill="url(#r159)"/>
<rect x="144" y="184" width="166" height="1" fill="url(#r160)"/>
<rect x="144" y="185" width="166" height="1" fill="url(#r161)"/>
<rect x="144" y="186" width="166" height="1" fill="url(#r162)"/>
<rect x="144" y="187" width="166" height="1" fill="url(#r163)"/>
<rect x="144" y="188" width="166" height="1" fill="url(#r164)"/>
<rect x="144" y="189" width="166" height="1" fill="url(#r165)"/>
<rect x="144" y="190" width="166" height="1" fill="url(#r166)"/>
<rect x="144" y="191" width="166" height="1" fill="url(#r167)"/>
<rect x="144" y="192" width="166" height="1" fill="url(#r168)"/>
<rect x="144" y="193" width="166" height="1" fill="url(#r169)"/>
<rect x="144" y="194" width="166" height="1" fill="url(#r170)"/>
<rect x="144" y="195" width="166" height="1" fill="url(#r171)"/>
<rect x="144" y="196" width="166" height="1" fill="url(#r172)"/>
<rect x="144" y="197" width="166" height="1" fill="url(#r173)"/>
<rect x="144" y="198" width="166" height="1" fill="url(#r174)"/>
<rect x="144" y="199" width="166" height="1" fill="url(#r175)"/>
<rect x="144" y="200" width="166" height="1" fill="url(#r176)"/>
<rect x="144" y="201" width="166" height="1" fill="url(#r177)"/>
<rect x="144" y="202" width="166" height="1" fill="url(#r178)"/>
<rect x="144" y="203" width="166" height="1" fill="url(#r179)"/>
<rect x="144" y="204" width="166" height="1" fill="url(#r180)"/>
<rect x="144" y="205" width="166" height="1" fill="url(#r181)"/>
<rect x="144" y="206" width="166" height="1" fill="url(#r182)"/>
<rect x="144" y="207" width="166" height="1" fill="url(#r183)"/>
<rect x="144" y="208" width="166" height="1" fill="url(#r184)"/>
<rect x="144" y="209" width="166" height="1" fill="url(#r185)"/>
<rect x="144" y="210" width="166" height="1" fill="url(#r186)"/>
<rect x="144" y="211" width="166" height="1" fill="url(#r187)"/>
<rect x="144" y="212" width="166" height="1" fill="url(#r188)"/>
<rect x="144" y="213" width="166" height="1" fill="url(#r189)"/>
<rect x="144" y="214" width="166" height="1" fill="url(#r190)"/>
</g>
<g clip-path="url(#cp)" fill="none" stroke-linejoin="round" stroke-linecap="round">
<path d="M144.0 138.3C144.4 138.3 148.9 137.9 149.7 137.7C150.5 137.5 154.8 136.1 155.4 135.8C156.0 135.5 157.9 133.8 158.0 133.5C158.1 133.2 157.2 131.4 157.0 131.0C156.8 130.6 154.9 128.8 154.5 128.2C154.1 127.6 151.8 123.3 151.6 122.5C151.4 121.7 151.1 116.5 151.2 115.8C151.3 115.1 152.4 112.3 152.6 112.0C152.8 111.7 154.2 110.8 154.5 110.8C154.8 110.8 156.9 111.6 157.3 112.0C157.7 112.4 160.7 116.2 161.1 116.8C161.5 117.4 163.7 119.9 164.0 120.6C164.3 121.3 165.7 126.5 165.9 127.2C166.1 127.9 166.9 130.9 167.2 131.0C167.5 131.1 169.4 128.8 169.7 128.2C170.0 127.6 171.9 123.0 172.2 122.5C172.5 122.0 174.1 120.1 174.5 120.0C174.9 119.9 177.5 120.8 177.9 120.6C178.3 120.4 179.6 117.3 179.8 116.8C180.0 116.3 180.2 113.5 180.4 113.0C180.6 112.5 181.7 109.6 182.1 109.3C182.5 109.0 185.4 108.7 186.0 108.6C186.6 108.5 191.0 108.5 191.6 108.4C192.2 108.3 194.4 107.7 194.6 107.4C194.8 107.1 195.2 104.8 195.2 104.5C195.2 104.2 195.1 102.7 195.0 102.3C194.9 101.9 193.2 99.0 193.1 98.5C193.0 98.0 193.6 95.2 193.9 94.7C194.2 94.2 196.8 91.3 197.3 90.9C197.8 90.5 200.8 89.3 201.1 89.0C201.4 88.7 202.2 86.8 202.3 86.5C202.4 86.2 202.2 84.6 202.1 84.2C202.0 83.8 201.4 81.2 201.1 80.8C200.8 80.4 198.7 78.9 198.3 78.7C197.9 78.5 195.7 77.4 195.6 77.1C195.5 76.8 196.9 74.9 197.3 74.7C197.7 74.5 200.6 73.6 201.1 73.7C201.6 73.8 204.4 75.1 205.0 75.6C205.6 76.1 210.1 80.8 210.7 81.3C211.3 81.8 213.1 82.9 213.5 82.9C213.9 82.9 216.1 82.3 216.5 82.0C216.9 81.7 219.7 79.4 220.2 79.0C220.7 78.6 223.5 76.4 224.0 76.0C224.5 75.6 227.4 73.1 227.8 72.8C228.2 72.5 229.3 71.3 229.8 70.9C230.3 70.5 234.3 67.4 235.0 66.8C235.7 66.2 240.6 62.9 241.0 62.1C241.4 61.3 241.2 55.3 241.5 54.5C241.8 53.7 244.5 51.0 245.0 50.8C245.5 50.6 248.3 50.7 248.9 51.0C249.5 51.3 254.0 55.2 254.6 55.4C255.2 55.6 257.8 53.6 258.4 53.5C259.0 53.4 263.5 53.4 264.1 53.5C264.7 53.6 267.4 55.4 267.9 55.4C268.4 55.4 271.3 53.3 271.7 53.0C272.1 52.7 273.8 51.4 274.0 51.4C274.2 51.4 275.0 52.2 275.1 52.6C275.2 53.0 275.6 57.0 275.9 57.3C276.2 57.6 279.8 57.8 280.3 57.7C280.8 57.6 282.7 55.7 283.1 55.4C283.5 55.1 286.2 53.2 286.6 53.1C287.0 53.0 288.6 53.9 288.9 54.1C289.2 54.3 291.3 55.2 291.7 55.4C292.1 55.6 294.6 57.7 295.0 57.7C295.4 57.7 296.4 55.7 297.4 55.6C298.4 55.5 309.0 55.6 309.8 55.6" stroke="#1414e6" stroke-width="1.5"/>
<path d="M144.0 168.0C144.4 167.8 149.1 164.9 149.7 164.3C150.3 163.7 152.2 159.8 152.6 159.3C153.0 158.8 154.9 157.7 155.4 157.5C155.9 157.3 158.9 157.1 160.0 157.0C161.1 156.9 171.1 156.8 172.6 156.6C174.1 156.4 180.8 154.7 182.1 154.3C183.4 153.9 190.7 151.3 191.6 151.0C192.5 150.7 194.4 149.3 195.4 149.1C196.4 148.9 205.4 147.8 206.9 147.6C208.4 147.4 217.5 145.8 218.6 145.6C219.7 145.4 223.5 144.3 224.0 144.2C224.5 144.1 226.1 144.4 226.3 144.6C226.5 144.8 227.6 146.0 227.7 146.5C227.8 147.0 228.3 151.1 228.4 152.0C228.5 152.9 229.1 158.9 229.2 159.6C229.3 160.3 229.3 162.6 229.4 163.0C229.5 163.4 230.4 165.2 230.6 165.2C230.8 165.2 231.7 163.9 232.0 163.6C232.3 163.3 234.8 160.6 235.2 160.2C235.6 159.8 238.1 157.7 238.3 157.4C238.5 157.1 238.6 155.5 238.6 155.0C238.6 154.5 237.8 150.7 237.8 150.1C237.8 149.5 238.9 145.9 239.3 145.3C239.7 144.7 243.5 141.2 244.1 140.6C244.7 140.0 248.2 137.2 248.9 136.8C249.6 136.4 254.0 135.2 254.6 134.9C255.2 134.6 257.1 132.6 257.4 132.0C257.7 131.4 259.5 126.9 259.6 126.3C259.7 125.7 258.7 122.9 258.4 122.5C258.1 122.1 255.0 120.8 254.6 120.6C254.2 120.4 252.0 119.7 251.9 119.5C251.8 119.3 252.3 118.3 252.7 118.1C253.1 117.9 257.0 117.0 257.4 116.8C257.8 116.6 258.9 115.9 259.3 115.6C259.7 115.3 263.4 112.2 264.1 111.8C264.8 111.4 269.4 109.3 270.0 109.0C270.6 108.7 273.1 107.8 273.6 107.8C274.1 107.8 277.0 108.2 277.5 108.3C278.0 108.4 280.7 109.1 281.2 109.1C281.7 109.1 284.1 108.4 284.5 108.3C284.9 108.2 286.5 107.9 287.0 108.0C287.5 108.1 291.8 109.9 292.7 110.3C293.6 110.7 299.5 113.3 300.3 113.7C301.1 114.1 304.5 115.4 305.0 115.8C305.5 116.2 307.6 119.2 307.9 119.6C308.2 120.0 309.7 122.3 309.8 122.5" stroke="#000" stroke-width="1.35"/>
<path d="M170.2 213.6C170.4 213.4 172.2 210.6 172.6 210.2C173.0 209.8 175.2 208.4 175.7 208.3C176.2 208.2 179.2 208.9 179.7 209.1C180.2 209.3 182.6 211.5 182.9 211.8C183.2 212.1 184.4 213.5 184.5 213.6" stroke="#000" stroke-width="1.35"/>
<path d="M191.6 213.6C191.7 213.4 192.9 210.7 193.2 210.2C193.5 209.7 195.9 206.8 196.4 206.4C196.9 206.0 200.4 204.7 201.1 204.5C201.8 204.3 206.7 203.5 207.5 203.4C208.3 203.3 212.6 202.5 213.8 202.3C215.0 202.1 224.6 200.5 226.0 200.2C227.4 199.9 234.2 198.6 235.5 198.3C236.8 198.0 243.7 196.3 245.0 196.0C246.3 195.7 253.3 193.4 254.6 193.1C255.9 192.8 262.8 191.3 264.1 191.2C265.4 191.1 272.3 190.9 273.6 190.9C274.9 190.9 282.1 191.8 283.1 191.8C284.1 191.8 288.3 191.5 288.9 191.2C289.5 190.9 292.3 187.8 292.7 187.4C293.1 187.0 295.1 184.8 295.5 184.6C295.9 184.4 298.8 184.1 299.3 184.2C299.8 184.3 302.6 186.2 303.1 186.5C303.6 186.8 306.6 188.6 307.0 188.8C307.4 189.0 309.6 189.8 309.8 189.9" stroke="#000" stroke-width="1.35"/>
<ellipse cx="297.3" cy="202.8" rx="1.1" ry="2.2" stroke="#000" stroke-width="0.9"/>
<circle cx="230.5" cy="164.7" r="1.1" stroke="#000" stroke-width="0.9"/>
</g>
<rect x="144.2" y="24.5" width="164.4" height="189.2" fill="none" stroke="#2a2a2a" stroke-width="1.05"/>
<g stroke="#333" stroke-width="1">
<path d="M144.3 57.5h2.2M144.3 90.4h2.2M144.3 123.3h2.2M144.3 156.2h2.2M144.3 189.1h2.2"/>
<path d="M226.4 213.6v-2.2M226.4 24.6v2.2M308.5 57.5h-2.2M308.5 90.4h-2.2M308.5 123.3h-2.2M308.5 156.2h-2.2M308.5 189.1h-2.2"/>
</g>
<rect x="321.1" y="24.5" width="8.4" height="189.2" fill="url(#cb)" stroke="#a8a8b0" stroke-width="0.7"/>
<path d="M329.4 62.3h-1.6M329.4 100.2h-1.6M329.4 138.0h-1.6M329.4 175.9h-1.6" stroke="#333" stroke-width="0.8" fill="none"/>
<g class="t">
<text transform="translate(140.60 29.85) scale(0.940 1)" text-anchor="end">1.2</text>
<text transform="translate(140.60 95.45) scale(0.940 1)" text-anchor="end">0.8</text>
<text transform="translate(140.60 128.25) scale(0.940 1)" text-anchor="end">0.6</text>
<text transform="translate(140.60 161.05) scale(0.940 1)" text-anchor="end">0.4</text>
<text transform="translate(140.60 193.85) scale(0.940 1)" text-anchor="end">0.2</text>
<text transform="translate(137.00 62.70) scale(0.620 1)" text-anchor="middle">1</text>
<text transform="translate(143.40 230.50) scale(0.940 1)" text-anchor="middle">-0.5</text>
<text transform="translate(226.40 230.50) scale(0.940 1)" text-anchor="middle">0</text>
<text transform="translate(308.60 230.50) scale(0.940 1)" text-anchor="middle">0.5</text>
<text transform="translate(335.80 29.20) scale(0.620 1)" text-anchor="middle">1</text>
<text transform="translate(332.80 67.00) scale(0.940 1)" text-anchor="start">0.9</text>
<text transform="translate(332.80 104.80) scale(0.940 1)" text-anchor="start">0.8</text>
<text transform="translate(332.80 142.60) scale(0.940 1)" text-anchor="start">0.7</text>
<text transform="translate(332.80 180.40) scale(0.940 1)" text-anchor="start">0.6</text>
<text transform="translate(332.80 218.20) scale(0.940 1)" text-anchor="start">0.5</text>
</g>
<text class="a" x="225.3" y="250.6" text-anchor="middle">x/δ</text>
<text class="a" transform="translate(109.6 123.3) rotate(-90)" text-anchor="middle">y/δ</text>
<text class="a" x="310.9" y="11.7" style="font-size:15.1px">U/U<tspan dx="0.4" dy="4.9" style="font-size:10.5px">∞</tspan></text>
</svg>
</body></html>
